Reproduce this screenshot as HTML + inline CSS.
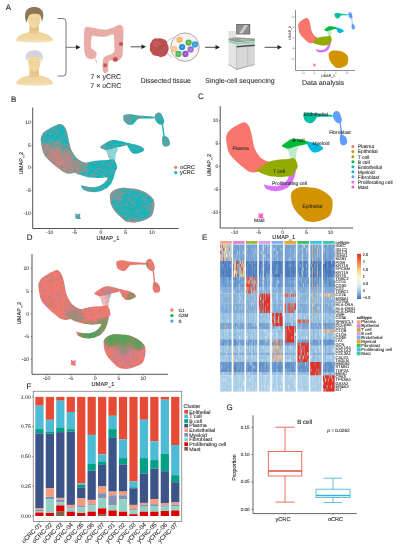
<!DOCTYPE html><html><head><meta charset="utf-8"><style>html,body{margin:0;padding:0;background:#fff;}svg{display:block;will-change:transform;} text{stroke:#3a3a3a;stroke-width:0.1px;text-rendering:geometricPrecision;}</style></head><body>
<svg width="397" height="550" viewBox="0 0 397 550">
<rect width="397" height="550" fill="#fff"/>
<defs><clipPath id="uc" clipPathUnits="userSpaceOnUse"><path d="M242.7,122.6 C245.5,121.7 246.0,123.1 247.2,124.0 C248.4,124.9 249.1,126.3 249.8,128.0 C250.5,129.7 251.0,131.7 251.5,134.0 C252.0,136.3 252.5,139.7 253.0,142.0 C253.5,144.3 253.8,146.2 254.5,148.0 C255.2,149.8 256.1,151.5 257.0,153.0 C257.9,154.5 258.7,155.8 260.0,157.0 C261.3,158.2 263.3,159.6 265.0,160.5 C266.7,161.4 270.3,161.4 270.0,162.5 C269.7,163.6 265.0,165.5 263.0,167.0 C261.0,168.5 259.9,170.8 257.8,171.7 C255.7,172.5 252.7,172.9 250.2,172.1 C247.7,171.3 245.2,169.1 242.7,167.1 C240.2,165.1 237.4,162.7 235.1,160.3 C232.8,157.9 230.5,156.1 229.0,152.8 C227.5,149.5 226.7,143.7 226.3,140.7 C225.9,137.7 226.1,136.5 226.8,134.6 C227.5,132.7 227.9,131.4 230.6,129.4 C233.2,127.4 239.9,123.5 242.7,122.6 Z"/><path d="M287.0,147.5 C288.6,146.6 296.4,145.6 298.0,146.5 C299.6,147.4 296.9,150.8 296.5,153.0 C296.1,155.2 296.4,158.4 295.5,159.5 C294.6,160.6 292.2,160.8 291.0,159.5 C289.8,158.2 289.2,154.0 288.5,152.0 C287.8,150.0 285.4,148.4 287.0,147.5 Z"/><path d="M281.8,145.8 C282.1,144.9 284.9,143.1 286.5,142.0 C288.1,140.9 289.9,139.5 291.6,139.0 C293.4,138.5 295.0,138.6 297.0,138.8 C299.0,139.0 301.9,139.9 303.7,140.3 C305.5,140.8 306.7,141.1 308.0,141.5 C309.3,141.9 311.8,142.5 311.3,143.0 C310.8,143.5 307.1,144.0 305.0,144.5 C302.9,145.0 300.8,145.4 299.0,145.8 C297.2,146.2 295.8,146.5 294.0,147.0 C292.2,147.5 289.6,148.5 288.0,148.6 C286.4,148.7 285.5,148.1 284.5,147.6 C283.5,147.1 281.5,146.7 281.8,145.8 Z"/><path d="M307.5,142.2 C308.5,141.7 312.2,142.6 314.0,143.0 C315.8,143.4 317.1,143.9 318.5,144.5 C319.9,145.1 321.4,146.0 322.2,146.8 C322.9,147.6 323.4,148.4 323.0,149.1 C322.6,149.8 321.0,150.5 320.0,151.0 C319.0,151.5 318.1,152.0 317.0,152.2 C315.9,152.4 314.2,152.8 313.1,152.4 C312.0,152.0 311.0,150.7 310.1,149.6 C309.2,148.5 308.4,147.2 308.0,146.0 C307.6,144.8 306.5,142.7 307.5,142.2 Z"/><path d="M303.5,114.5 C303.8,113.4 304.8,113.1 306.0,112.8 C307.2,112.5 309.3,112.4 311.0,112.5 C312.7,112.6 313.8,113.2 316.0,113.5 C318.2,113.8 321.3,114.0 324.0,114.3 C326.7,114.5 330.6,114.6 332.0,115.0 C333.4,115.4 333.8,116.3 332.5,116.6 C331.2,116.9 326.5,116.7 324.0,116.8 C321.5,116.9 318.9,116.8 317.5,117.3 C316.1,117.8 316.2,118.7 315.5,119.5 C314.8,120.3 313.8,121.7 313.0,122.3 C312.2,122.9 311.5,123.2 310.5,123.2 C309.5,123.2 308.0,122.9 307.0,122.3 C306.0,121.7 304.9,120.8 304.3,119.5 C303.7,118.2 303.2,115.6 303.5,114.5 Z"/><path d="M333.5,112.8 C334.0,111.9 335.2,111.2 336.0,111.0 C336.8,110.8 337.8,110.9 338.5,111.5 C339.2,112.1 339.8,113.2 340.3,114.5 C340.9,115.8 341.8,118.0 341.8,119.4 C341.9,120.8 341.3,122.1 340.6,122.7 C339.9,123.3 338.5,123.4 337.5,123.0 C336.5,122.6 335.2,121.3 334.5,120.2 C333.8,119.1 333.2,117.6 333.0,116.4 C332.8,115.2 333.0,113.7 333.5,112.8 Z"/><path d="M340.5,134.8 C341.0,133.9 342.2,134.6 343.0,134.9 C343.8,135.2 344.8,135.6 345.5,136.5 C346.2,137.4 346.9,139.1 347.1,140.3 C347.3,141.5 347.2,143.0 346.6,143.8 C346.1,144.6 344.7,145.1 343.8,145.2 C342.9,145.3 341.9,145.2 341.2,144.4 C340.5,143.6 339.9,142.1 339.8,140.5 C339.7,138.9 340.0,135.7 340.5,134.8 Z"/><path d="M296.5,169.0 L294.5,177.0 L292.0,183.0 L288.0,187.5 L282.0,190.3 L276.4,191.3 L270.0,190.6 L265.5,188.6 L263.6,184.3 L267.0,185.2 L271.0,186.0 L276.4,186.3 L281.0,185.0 L285.0,182.5 L288.0,179.0 L289.5,174.0 L289.5,170.0 Z"/><path d="M256.9,170.1 C256.9,168.9 260.0,167.7 262.0,166.3 C264.0,164.9 266.7,162.9 268.9,161.9 C271.1,160.9 273.1,160.6 275.0,160.2 C276.9,159.8 278.0,159.6 280.2,159.4 C282.4,159.2 285.6,159.1 288.0,158.9 C290.4,158.7 292.9,157.2 294.5,158.4 C296.1,159.6 297.7,164.2 297.8,166.3 C297.9,168.4 295.8,169.5 295.0,171.0 C294.2,172.5 294.3,174.3 292.8,175.2 C291.3,176.1 288.1,176.3 286.0,176.6 C283.9,176.9 282.4,177.1 280.2,177.1 C278.0,177.1 275.1,176.9 273.0,176.6 C270.9,176.3 269.4,175.9 267.6,175.4 C265.8,174.9 263.8,174.5 262.0,173.6 C260.2,172.7 256.9,171.3 256.9,170.1 Z"/><path d="M295.3,189.1 C297.0,188.1 299.3,187.4 301.4,187.1 C303.5,186.8 305.6,187.1 308.0,187.3 C310.4,187.5 313.2,187.6 315.5,188.1 C317.8,188.6 320.2,189.7 322.0,190.5 C323.8,191.3 325.0,192.0 326.5,193.2 C328.0,194.4 330.0,196.0 331.0,197.5 C332.0,199.0 332.4,200.4 332.6,202.2 C332.8,203.9 332.6,206.0 332.3,208.0 C332.0,210.0 331.4,212.7 330.6,214.3 C329.8,215.9 328.7,216.7 327.5,217.5 C326.3,218.3 325.1,218.8 323.5,219.4 C321.9,220.0 319.7,220.9 318.0,221.3 C316.3,221.7 315.0,221.9 313.5,222.0 C312.0,222.1 310.4,221.9 309.0,221.6 C307.6,221.3 306.9,221.4 305.4,220.4 C303.9,219.4 301.7,217.2 300.0,215.5 C298.3,213.8 296.6,212.1 295.3,210.3 C294.1,208.6 293.2,206.7 292.5,205.0 C291.8,203.3 291.5,202.2 291.3,200.2 C291.1,198.2 290.6,195.0 291.3,193.2 C292.0,191.3 293.6,190.1 295.3,189.1 Z"/><path d="M258.2,212.6 L260.6,214.0 L263.3,213.0 L262.8,216.2 L263.8,218.4 L260.5,218.5 L258.3,217.8 L258.8,215.2 Z"/><path d="M339.3,121.5 L341,136 L342.6,136 L340.9,121.5 Z"/></clipPath></defs>
<text x="5.8" y="10.3" font-size="8" fill="#222" font-family="Liberation Sans, sans-serif">A</text>
<text x="11" y="101.6" font-size="8" fill="#222" font-family="Liberation Sans, sans-serif">B</text>
<text x="197.9" y="99.1" font-size="8" fill="#222" font-family="Liberation Sans, sans-serif">C</text>
<text x="26.8" y="239.7" font-size="8" fill="#222" font-family="Liberation Sans, sans-serif">D</text>
<text x="202" y="239.9" font-size="8" fill="#222" font-family="Liberation Sans, sans-serif">E</text>
<text x="26.6" y="389" font-size="8" fill="#222" font-family="Liberation Sans, sans-serif">F</text>
<text x="226.5" y="409.8" font-size="8" fill="#222" font-family="Liberation Sans, sans-serif">G</text>
<g transform="translate(0,0)"><defs><linearGradient id="sh0" x1="0" y1="0" x2="0" y2="1"><stop offset="0" stop-color="#EFD39B"/><stop offset="0.7" stop-color="#F1D8A6"/><stop offset="1" stop-color="#F6E6C6"/></linearGradient></defs><path d="M16,40.5 C16.5,36.5 21,34 28,32.2 L40.5,32.2 C47.5,34 52.5,36.5 53.3,40.5 C50,43.2 20,43.2 16,40.5 Z" fill="url(#sh0)"/><path d="M29.9,23 L38.5,23 L39.2,32.6 C36,34.5 32.5,34.5 29.2,32.6 Z" fill="#E8C68C"/><path d="M28,18 C28,13.5 30.5,12.5 34.2,12.5 C38,12.5 40.6,13.5 40.6,18 C40.6,23.5 38.6,28.2 34.2,28.7 C29.9,28.2 28,23.5 28,18 Z" fill="#F2D7A0"/><path d="M30.5,26 C32,28.2 33.2,28.7 34.2,28.7 C35.2,28.7 36.5,28.2 38,26 L38.4,29 C36.5,31 32,31 30.2,29 Z" fill="#E3BE82" opacity="0.7"/><path d="M26.4,22.5 C25,19 24.8,15.5 25.3,13 C26,9.5 29,6.9 34.2,6.9 C39.4,6.9 42.4,9.5 43.1,13 C43.6,15.5 43.2,19 42,21.8 C41.4,19.5 41.2,16.5 39.6,14.6 C37,13.5 32,13.2 29.2,15.2 C28,17 27.6,20 26.4,22.5 Z" fill="#8E7658"/><path d="M30.9,19 l2,0.25 M35.5,19.25 l2,-0.25" stroke="#C9A36B" stroke-width="0.45"/></g>
<g transform="translate(0,43.3)"><defs><linearGradient id="sh43" x1="0" y1="0" x2="0" y2="1"><stop offset="0" stop-color="#EFD39B"/><stop offset="0.7" stop-color="#F1D8A6"/><stop offset="1" stop-color="#F6E6C6"/></linearGradient></defs><path d="M16,40.5 C16.5,36.5 21,34 28,32.2 L40.5,32.2 C47.5,34 52.5,36.5 53.3,40.5 C50,43.2 20,43.2 16,40.5 Z" fill="url(#sh43)"/><path d="M29.9,23 L38.5,23 L39.2,32.6 C36,34.5 32.5,34.5 29.2,32.6 Z" fill="#E8C68C"/><path d="M28,18 C28,13.5 30.5,12.5 34.2,12.5 C38,12.5 40.6,13.5 40.6,18 C40.6,23.5 38.6,28.2 34.2,28.7 C29.9,28.2 28,23.5 28,18 Z" fill="#F2D7A0"/><path d="M30.5,26 C32,28.2 33.2,28.7 34.2,28.7 C35.2,28.7 36.5,28.2 38,26 L38.4,29 C36.5,31 32,31 30.2,29 Z" fill="#E3BE82" opacity="0.7"/><path d="M26.8,17.8 C25.3,15.5 25.2,12.5 26.5,10.5 C28,8 31,6.9 34.2,6.9 C37.5,6.9 40.6,8 42,10.5 C43.2,12.5 43.1,15.5 41.8,17.8 C41,16 40.2,14.6 39,14 C36.5,13.1 32,13.1 29.5,14 C28.3,14.6 27.6,16 26.8,17.8 Z" fill="#D3D4D9"/><path d="M30.9,19 l2,0.25 M35.5,19.25 l2,-0.25" stroke="#C9A36B" stroke-width="0.45"/></g>
<path d="M57.5,18.5 L63,18.5 Q66,18.5 66,21.5 L66,73 Q66,76 63,76 L57.5,76 M66,47.3 L76,47.3" stroke="#555" stroke-width="0.8" fill="none"/>
<path d="M76,45 L80.5,47.3 L76,49.6 Z" fill="#222"/>
<path d="M86.0,27.3 C86.9,26.8 88.5,27.3 90.0,27.5 C91.5,27.7 93.3,28.1 95.0,28.5 C96.7,28.9 98.3,29.4 100.0,29.6 C101.7,29.9 103.3,30.1 105.0,30.0 C106.7,29.9 108.5,29.4 110.0,29.0 C111.5,28.6 112.8,28.0 114.0,27.5 C115.2,27.0 116.4,26.2 117.5,25.8 C118.6,25.4 119.6,24.9 120.5,25.2 C121.4,25.5 122.3,26.2 122.8,27.5 C123.2,28.8 123.2,30.9 123.2,33.0 C123.2,35.1 123.1,37.2 123.0,40.0 C122.9,42.8 122.9,47.2 122.7,50.0 C122.5,52.8 122.5,54.8 121.8,56.5 C121.1,58.2 120.0,59.6 118.5,60.2 C117.0,60.8 114.6,59.9 113.0,60.0 C111.4,60.1 109.8,60.2 109.0,61.0 C108.2,61.8 108.1,63.3 107.9,65.0 C107.7,66.7 108.3,69.7 107.9,71.0 C107.5,72.3 106.3,73.0 105.5,73.0 C104.7,73.0 103.8,72.5 103.3,71.2 C102.8,69.9 102.8,67.0 102.8,65.0 C102.8,63.0 103.0,60.5 103.5,59.0 C104.0,57.5 104.8,56.9 106.0,56.2 C107.2,55.5 109.6,55.4 111.0,54.6 C112.4,53.8 113.9,53.1 114.5,51.5 C115.1,49.9 114.6,47.2 114.6,45.0 C114.6,42.8 114.5,39.8 114.3,38.0 C114.1,36.2 114.4,34.7 113.5,34.2 C112.6,33.8 110.4,34.9 109.0,35.3 C107.6,35.7 106.8,36.2 105.0,36.4 C103.2,36.5 100.2,36.3 98.0,36.2 C95.8,36.1 93.2,35.2 92.0,35.8 C90.8,36.4 91.2,38.0 91.0,40.0 C90.8,42.0 90.4,46.3 90.9,48.0 C91.4,49.7 92.9,49.3 93.8,50.2 C94.7,51.1 96.2,52.2 96.4,53.5 C96.6,54.8 95.9,56.9 94.8,57.8 C93.7,58.7 91.4,59.0 90.0,58.8 C88.6,58.6 87.1,58.1 86.2,56.6 C85.3,55.1 84.8,53.1 84.5,50.0 C84.2,46.9 84.2,41.2 84.2,38.0 C84.2,34.8 84.3,32.3 84.6,30.5 C84.9,28.7 85.1,27.8 86.0,27.3 Z" fill="#E8ABA8" stroke="#DC9C98" stroke-width="0.4"/>
<path d="M94.5,57.5 C95.5,59.5 96.8,61 96.5,62.5" stroke="#E8ABA8" stroke-width="0.9" fill="none" stroke-linecap="round"/>
<circle cx="120.9" cy="43.9" r="2.3" fill="#D98080"/><circle cx="120.9" cy="43.9" r="1.7" fill="#C5504F"/>
<circle cx="115.3" cy="59.3" r="2.7" fill="#D98080"/><circle cx="115.3" cy="59.3" r="2.1" fill="#C5504F"/>
<circle cx="105.2" cy="65.3" r="2.2" fill="#D98080"/><circle cx="105.2" cy="65.3" r="1.6" fill="#C5504F"/>
<text x="105.8" y="78.8" font-size="7" fill="#333" text-anchor="middle" font-family="Liberation Sans, sans-serif">7 × yCRC</text>
<text x="105.8" y="88" font-size="7" fill="#333" text-anchor="middle" font-family="Liberation Sans, sans-serif">7 × oCRC</text>
<path d="M130.5,46.8 L142,46.8" stroke="#222" stroke-width="0.8"/><path d="M141.5,44.6 L146,46.8 L141.5,49 Z" fill="#222"/>
<path d="M168.7,47.3 C168.8,48.3 168.7,49.3 168.5,50.3 C168.3,51.3 167.8,52.2 167.3,53.1 C166.8,54.0 166.2,54.8 165.5,55.4 C164.8,56.0 163.8,56.2 162.9,56.5 C162.1,56.8 161.2,57.4 160.4,57.3 C159.6,57.2 158.8,56.4 158.0,56.1 C157.2,55.9 156.4,56.0 155.6,55.8 C154.8,55.6 153.8,55.5 153.1,55.0 C152.4,54.5 151.9,53.5 151.4,52.7 C150.9,51.9 150.0,51.2 149.8,50.3 C149.6,49.4 150.1,48.3 150.1,47.3 C150.1,46.3 149.8,45.3 150.0,44.4 C150.2,43.5 150.9,42.6 151.4,41.8 C151.9,41.0 152.3,40.2 153.0,39.6 C153.7,39.0 154.5,38.4 155.3,38.2 C156.1,38.0 157.1,38.4 157.9,38.4 C158.7,38.4 159.5,38.2 160.3,38.3 C161.1,38.4 161.8,38.8 162.6,39.0 C163.4,39.2 164.4,39.2 165.1,39.7 C165.8,40.2 166.5,41.0 166.9,41.8 C167.3,42.6 167.3,43.6 167.6,44.5 C167.9,45.4 168.5,46.3 168.7,47.3 Z" fill="#BF5051"/>
<ellipse cx="157" cy="44" rx="4" ry="3" fill="#CC6A6A" opacity="0.6"/>
<path d="M155,43 L160,47 L155.5,51.5 M160,47 L165,44.5 M158,40 L161,43" stroke="#A03C3E" stroke-width="0.45" fill="none"/>
<path d="M158.5,46.5 L173.5,37.2 M158.5,47.5 L172.5,57.5" stroke="#6a6a6a" stroke-width="0.4"/>
<circle cx="185" cy="47.1" r="14.2" fill="#FBF1EF" stroke="#666" stroke-width="0.55"/>
<circle cx="179.5" cy="39.8" r="3.1" fill="#F4B860"/><circle cx="179.5" cy="39.8" r="1" fill="#fff" opacity="0.35"/>
<circle cx="188.6" cy="42.5" r="3.1" fill="#4DB84F"/><circle cx="188.6" cy="42.5" r="1" fill="#fff" opacity="0.35"/>
<circle cx="182.1" cy="47" r="3.1" fill="#1E8FD0"/><circle cx="182.1" cy="47" r="1" fill="#fff" opacity="0.35"/>
<circle cx="194.9" cy="44.4" r="3.1" fill="#2EA0DC"/><circle cx="194.9" cy="44.4" r="1" fill="#fff" opacity="0.35"/>
<circle cx="174.2" cy="49" r="3.1" fill="#F6C58A"/><circle cx="174.2" cy="49" r="1" fill="#fff" opacity="0.35"/>
<circle cx="190.6" cy="49.4" r="3.1" fill="#9B6FD0"/><circle cx="190.6" cy="49.4" r="1" fill="#fff" opacity="0.35"/>
<circle cx="178.4" cy="53.9" r="3.1" fill="#4FBA5C"/><circle cx="178.4" cy="53.9" r="1" fill="#fff" opacity="0.35"/>
<circle cx="185.4" cy="53.9" r="3.1" fill="#8E52C6"/><circle cx="185.4" cy="53.9" r="1" fill="#fff" opacity="0.35"/>
<text x="165.8" y="83" font-size="6.9" fill="#333" text-anchor="middle" font-family="Liberation Sans, sans-serif">Dissected tissue</text>
<path d="M205,47.3 L216,47.3" stroke="#222" stroke-width="0.8"/><path d="M215.5,45.1 L220,47.3 L215.5,49.5 Z" fill="#222"/>
<path d="M236.1,24 L250.2,24 L250.2,34.5 L236.1,34.5 Z" fill="#707070"/><path d="M237.2,25 L249.1,25 L249.1,33.5 L237.2,33.5 Z" fill="#8F8F8F"/><path d="M239,33.5 L244.5,25 L248,25 L242.5,33.5 Z" fill="#C9C9C9"/>
<path d="M228.5,31.1 L236.1,31.1 L236.1,38 L228.5,38.6 Z" fill="#E2E2E2"/>
<path d="M228.5,38.6 L236.5,37.2 L255,38.6 L254.7,41 L236.5,42.5 L228.5,40.2 Z" fill="#9C9C9C"/>
<path d="M240,39 L250,39.5 L249,40.5 L241,40.5 Z" fill="#BEBEBE"/>
<path d="M228.5,40.2 L236.5,42.5 L254.7,41 L254.7,43.5 L236.5,45 L228.5,42.5 Z" fill="#8ED9AE"/>
<path d="M228.5,42.5 L236.5,45 L254.7,43.5 L254.7,64.5 L236.5,69.5 L228.5,64.3 Z" fill="#E4E4E4"/>
<path d="M236.5,45 L254.7,43.5 L254.7,64.5 L236.5,69.5 Z" fill="#D6D6D6"/>
<path d="M236.5,46 L254.7,44.5 L254.7,46 L236.5,47.6 Z" fill="#4A4A4A"/>
<path d="M247.7,46.5 L247.7,66.5 M236.5,45 L236.5,69.5" stroke="#A8A8A8" stroke-width="0.45"/>
<path d="M228.5,64.3 L236.5,69.5 L254.7,64.5" stroke="#8A8A8A" stroke-width="0.7" fill="none"/>
<text x="240" y="83" font-size="6.95" fill="#333" text-anchor="middle" font-family="Liberation Sans, sans-serif">Single-cell sequencing</text>
<path d="M264.5,47.3 L278,47.3" stroke="#222" stroke-width="0.8"/><path d="M277.5,45.1 L282,47.3 L277.5,49.5 Z" fill="#222"/>
<path d="M295.5,10 L295.5,70.5 L355,70.5" stroke="#444" stroke-width="0.6" fill="none"/>
<line x1="294.5" y1="17" x2="295.5" y2="17" stroke="#444" stroke-width="0.4"/>
<line x1="294.5" y1="27.5" x2="295.5" y2="27.5" stroke="#444" stroke-width="0.4"/>
<line x1="294.5" y1="38" x2="295.5" y2="38" stroke="#444" stroke-width="0.4"/>
<line x1="294.5" y1="48.5" x2="295.5" y2="48.5" stroke="#444" stroke-width="0.4"/>
<line x1="294.5" y1="59" x2="295.5" y2="59" stroke="#444" stroke-width="0.4"/>
<line x1="303" y1="70.5" x2="303" y2="71.5" stroke="#444" stroke-width="0.4"/>
<line x1="314" y1="70.5" x2="314" y2="71.5" stroke="#444" stroke-width="0.4"/>
<line x1="325" y1="70.5" x2="325" y2="71.5" stroke="#444" stroke-width="0.4"/>
<line x1="336" y1="70.5" x2="336" y2="71.5" stroke="#444" stroke-width="0.4"/>
<line x1="347" y1="70.5" x2="347" y2="71.5" stroke="#444" stroke-width="0.4"/>
<text x="303" y="73.6" font-size="2.4" fill="#777" style="stroke:none" text-anchor="middle" font-family="Liberation Sans, sans-serif">-10</text>
<text x="314" y="73.6" font-size="2.4" fill="#777" style="stroke:none" text-anchor="middle" font-family="Liberation Sans, sans-serif">-5</text>
<text x="325" y="73.6" font-size="2.4" fill="#777" style="stroke:none" text-anchor="middle" font-family="Liberation Sans, sans-serif">0</text>
<text x="336" y="73.6" font-size="2.4" fill="#777" style="stroke:none" text-anchor="middle" font-family="Liberation Sans, sans-serif">5</text>
<text x="347" y="73.6" font-size="2.4" fill="#777" style="stroke:none" text-anchor="middle" font-family="Liberation Sans, sans-serif">10</text>
<text x="294" y="17.8" font-size="2.4" fill="#777" style="stroke:none" text-anchor="end" font-family="Liberation Sans, sans-serif">10</text>
<text x="294" y="28.3" font-size="2.4" fill="#777" style="stroke:none" text-anchor="end" font-family="Liberation Sans, sans-serif">5</text>
<text x="294" y="38.8" font-size="2.4" fill="#777" style="stroke:none" text-anchor="end" font-family="Liberation Sans, sans-serif">0</text>
<text x="294" y="49.3" font-size="2.4" fill="#777" style="stroke:none" text-anchor="end" font-family="Liberation Sans, sans-serif">-5</text>
<text x="294" y="59.8" font-size="2.4" fill="#777" style="stroke:none" text-anchor="end" font-family="Liberation Sans, sans-serif">-10</text>
<text transform="translate(290.6,33) rotate(-90)" font-size="3.4" fill="#444" text-anchor="middle" font-family="Liberation Sans, sans-serif">UMAP_2</text>
<text x="328" y="76.6" font-size="3.4" fill="#444" text-anchor="middle" font-family="Liberation Sans, sans-serif">UMAP_1</text>
<g transform="translate(298.3,18.1) scale(0.469,0.502) translate(-226.3,-122.6)"><path d="M242.7,122.6 C245.5,121.7 246.0,123.1 247.2,124.0 C248.4,124.9 249.1,126.3 249.8,128.0 C250.5,129.7 251.0,131.7 251.5,134.0 C252.0,136.3 252.5,139.7 253.0,142.0 C253.5,144.3 253.8,146.2 254.5,148.0 C255.2,149.8 256.1,151.5 257.0,153.0 C257.9,154.5 258.7,155.8 260.0,157.0 C261.3,158.2 263.3,159.6 265.0,160.5 C266.7,161.4 270.3,161.4 270.0,162.5 C269.7,163.6 265.0,165.5 263.0,167.0 C261.0,168.5 259.9,170.8 257.8,171.7 C255.7,172.5 252.7,172.9 250.2,172.1 C247.7,171.3 245.2,169.1 242.7,167.1 C240.2,165.1 237.4,162.7 235.1,160.3 C232.8,157.9 230.5,156.1 229.0,152.8 C227.5,149.5 226.7,143.7 226.3,140.7 C225.9,137.7 226.1,136.5 226.8,134.6 C227.5,132.7 227.9,131.4 230.6,129.4 C233.2,127.4 239.9,123.5 242.7,122.6 Z" fill="#F8766D"/><path d="M287.0,147.5 C288.6,146.6 296.4,145.6 298.0,146.5 C299.6,147.4 296.9,150.8 296.5,153.0 C296.1,155.2 296.4,158.4 295.5,159.5 C294.6,160.6 292.2,160.8 291.0,159.5 C289.8,158.2 289.2,154.0 288.5,152.0 C287.8,150.0 285.4,148.4 287.0,147.5 Z" fill="#7FD89B" opacity="0.5"/><path d="M281.8,145.8 C282.1,144.9 284.9,143.1 286.5,142.0 C288.1,140.9 289.9,139.5 291.6,139.0 C293.4,138.5 295.0,138.6 297.0,138.8 C299.0,139.0 301.9,139.9 303.7,140.3 C305.5,140.8 306.7,141.1 308.0,141.5 C309.3,141.9 311.8,142.5 311.3,143.0 C310.8,143.5 307.1,144.0 305.0,144.5 C302.9,145.0 300.8,145.4 299.0,145.8 C297.2,146.2 295.8,146.5 294.0,147.0 C292.2,147.5 289.6,148.5 288.0,148.6 C286.4,148.7 285.5,148.1 284.5,147.6 C283.5,147.1 281.5,146.7 281.8,145.8 Z" fill="#00BA38"/><path d="M307.5,142.2 C308.5,141.7 312.2,142.6 314.0,143.0 C315.8,143.4 317.1,143.9 318.5,144.5 C319.9,145.1 321.4,146.0 322.2,146.8 C322.9,147.6 323.4,148.4 323.0,149.1 C322.6,149.8 321.0,150.5 320.0,151.0 C319.0,151.5 318.1,152.0 317.0,152.2 C315.9,152.4 314.2,152.8 313.1,152.4 C312.0,152.0 311.0,150.7 310.1,149.6 C309.2,148.5 308.4,147.2 308.0,146.0 C307.6,144.8 306.5,142.7 307.5,142.2 Z" fill="#00B9E3"/><path d="M303.5,114.5 C303.8,113.4 304.8,113.1 306.0,112.8 C307.2,112.5 309.3,112.4 311.0,112.5 C312.7,112.6 313.8,113.2 316.0,113.5 C318.2,113.8 321.3,114.0 324.0,114.3 C326.7,114.5 330.6,114.6 332.0,115.0 C333.4,115.4 333.8,116.3 332.5,116.6 C331.2,116.9 326.5,116.7 324.0,116.8 C321.5,116.9 318.9,116.8 317.5,117.3 C316.1,117.8 316.2,118.7 315.5,119.5 C314.8,120.3 313.8,121.7 313.0,122.3 C312.2,122.9 311.5,123.2 310.5,123.2 C309.5,123.2 308.0,122.9 307.0,122.3 C306.0,121.7 304.9,120.8 304.3,119.5 C303.7,118.2 303.2,115.6 303.5,114.5 Z" fill="#00C19F"/><path d="M333.5,112.8 C334.0,111.9 335.2,111.2 336.0,111.0 C336.8,110.8 337.8,110.9 338.5,111.5 C339.2,112.1 339.8,113.2 340.3,114.5 C340.9,115.8 341.8,118.0 341.8,119.4 C341.9,120.8 341.3,122.1 340.6,122.7 C339.9,123.3 338.5,123.4 337.5,123.0 C336.5,122.6 335.2,121.3 334.5,120.2 C333.8,119.1 333.2,117.6 333.0,116.4 C332.8,115.2 333.0,113.7 333.5,112.8 Z" fill="#619CFF"/><path d="M340.5,134.8 C341.0,133.9 342.2,134.6 343.0,134.9 C343.8,135.2 344.8,135.6 345.5,136.5 C346.2,137.4 346.9,139.1 347.1,140.3 C347.3,141.5 347.2,143.0 346.6,143.8 C346.1,144.6 344.7,145.1 343.8,145.2 C342.9,145.3 341.9,145.2 341.2,144.4 C340.5,143.6 339.9,142.1 339.8,140.5 C339.7,138.9 340.0,135.7 340.5,134.8 Z" fill="#619CFF"/><path d="M296.5,169.0 L294.5,177.0 L292.0,183.0 L288.0,187.5 L282.0,190.3 L276.4,191.3 L270.0,190.6 L265.5,188.6 L263.6,184.3 L267.0,185.2 L271.0,186.0 L276.4,186.3 L281.0,185.0 L285.0,182.5 L288.0,179.0 L289.5,174.0 L289.5,170.0 Z" fill="#DB72FB"/><path d="M256.9,170.1 C256.9,168.9 260.0,167.7 262.0,166.3 C264.0,164.9 266.7,162.9 268.9,161.9 C271.1,160.9 273.1,160.6 275.0,160.2 C276.9,159.8 278.0,159.6 280.2,159.4 C282.4,159.2 285.6,159.1 288.0,158.9 C290.4,158.7 292.9,157.2 294.5,158.4 C296.1,159.6 297.7,164.2 297.8,166.3 C297.9,168.4 295.8,169.5 295.0,171.0 C294.2,172.5 294.3,174.3 292.8,175.2 C291.3,176.1 288.1,176.3 286.0,176.6 C283.9,176.9 282.4,177.1 280.2,177.1 C278.0,177.1 275.1,176.9 273.0,176.6 C270.9,176.3 269.4,175.9 267.6,175.4 C265.8,174.9 263.8,174.5 262.0,173.6 C260.2,172.7 256.9,171.3 256.9,170.1 Z" fill="#93AA00"/><path d="M295.3,189.1 C297.0,188.1 299.3,187.4 301.4,187.1 C303.5,186.8 305.6,187.1 308.0,187.3 C310.4,187.5 313.2,187.6 315.5,188.1 C317.8,188.6 320.2,189.7 322.0,190.5 C323.8,191.3 325.0,192.0 326.5,193.2 C328.0,194.4 330.0,196.0 331.0,197.5 C332.0,199.0 332.4,200.4 332.6,202.2 C332.8,203.9 332.6,206.0 332.3,208.0 C332.0,210.0 331.4,212.7 330.6,214.3 C329.8,215.9 328.7,216.7 327.5,217.5 C326.3,218.3 325.1,218.8 323.5,219.4 C321.9,220.0 319.7,220.9 318.0,221.3 C316.3,221.7 315.0,221.9 313.5,222.0 C312.0,222.1 310.4,221.9 309.0,221.6 C307.6,221.3 306.9,221.4 305.4,220.4 C303.9,219.4 301.7,217.2 300.0,215.5 C298.3,213.8 296.6,212.1 295.3,210.3 C294.1,208.6 293.2,206.7 292.5,205.0 C291.8,203.3 291.5,202.2 291.3,200.2 C291.1,198.2 290.6,195.0 291.3,193.2 C292.0,191.3 293.6,190.1 295.3,189.1 Z" fill="#D39200"/><path d="M258.2,212.6 L260.6,214.0 L263.3,213.0 L262.8,216.2 L263.8,218.4 L260.5,218.5 L258.3,217.8 L258.8,215.2 Z" fill="#FF61C3"/><path d="M340,121.5 L341.8,136" stroke="#619CFF" stroke-width="1.3" fill="none"/></g>
<text x="323" y="84.8" font-size="7" fill="#333" text-anchor="middle" font-family="Liberation Sans, sans-serif">Data analysis</text>
<path d="M32.7,107.6 L32.7,228.5 L178.5,228.5" stroke="#4a4a4a" stroke-width="0.95" fill="none"/><line x1="49.6" y1="228.5" x2="49.6" y2="229.7" stroke="#333" stroke-width="0.5"/><text x="49.6" y="234.3" font-size="5.0" fill="#4d4d4d" text-anchor="middle" font-family="Liberation Sans, sans-serif">-10</text><line x1="74.6" y1="228.5" x2="74.6" y2="229.7" stroke="#333" stroke-width="0.5"/><text x="74.6" y="234.3" font-size="5.0" fill="#4d4d4d" text-anchor="middle" font-family="Liberation Sans, sans-serif">-5</text><line x1="101" y1="228.5" x2="101" y2="229.7" stroke="#333" stroke-width="0.5"/><text x="101" y="234.3" font-size="5.0" fill="#4d4d4d" text-anchor="middle" font-family="Liberation Sans, sans-serif">0</text><line x1="125.6" y1="228.5" x2="125.6" y2="229.7" stroke="#333" stroke-width="0.5"/><text x="125.6" y="234.3" font-size="5.0" fill="#4d4d4d" text-anchor="middle" font-family="Liberation Sans, sans-serif">5</text><line x1="152" y1="228.5" x2="152" y2="229.7" stroke="#333" stroke-width="0.5"/><text x="152" y="234.3" font-size="5.0" fill="#4d4d4d" text-anchor="middle" font-family="Liberation Sans, sans-serif">10</text><line x1="31.500000000000004" y1="122.2" x2="32.7" y2="122.2" stroke="#333" stroke-width="0.5"/><text x="30.8" y="123.8" font-size="5.0" fill="#4d4d4d" text-anchor="end" font-family="Liberation Sans, sans-serif">10</text><line x1="31.500000000000004" y1="145" x2="32.7" y2="145" stroke="#333" stroke-width="0.5"/><text x="30.8" y="146.6" font-size="5.0" fill="#4d4d4d" text-anchor="end" font-family="Liberation Sans, sans-serif">5</text><line x1="31.500000000000004" y1="167.6" x2="32.7" y2="167.6" stroke="#333" stroke-width="0.5"/><text x="30.8" y="169.2" font-size="5.0" fill="#4d4d4d" text-anchor="end" font-family="Liberation Sans, sans-serif">0</text><line x1="31.500000000000004" y1="190.3" x2="32.7" y2="190.3" stroke="#333" stroke-width="0.5"/><text x="30.8" y="191.9" font-size="5.0" fill="#4d4d4d" text-anchor="end" font-family="Liberation Sans, sans-serif">-5</text><line x1="31.500000000000004" y1="213" x2="32.7" y2="213" stroke="#333" stroke-width="0.5"/><text x="30.8" y="214.6" font-size="5.0" fill="#4d4d4d" text-anchor="end" font-family="Liberation Sans, sans-serif">-10</text>
<text x="108" y="239.8" font-size="5.7" fill="#222" text-anchor="middle" font-family="Liberation Sans, sans-serif">UMAP_1</text>
<text transform="translate(23.1,163) rotate(-90)" font-size="5.6" fill="#222" text-anchor="middle" font-family="Liberation Sans, sans-serif">UMAP_2</text>
<defs><pattern id="pR" patternUnits="userSpaceOnUse" width="24" height="24"><path d="M4.0 16.6h0.8v0.8h-0.8zM15.2 11.5h0.8v0.8h-0.8zM5.2 19.0h0.8v0.8h-0.8zM19.4 12.3h0.8v0.8h-0.8zM12.1 5.7h0.8v0.8h-0.8zM0.1 8.9h0.8v0.8h-0.8zM14.0 1.7h0.8v0.8h-0.8zM19.1 5.6h0.8v0.8h-0.8zM5.6 1.0h0.8v0.8h-0.8zM23.9 17.7h0.8v0.8h-0.8zM21.0 14.8h0.8v0.8h-0.8zM0.8 7.9h0.8v0.8h-0.8zM11.9 2.8h0.8v0.8h-0.8zM22.8 8.8h0.8v0.8h-0.8zM3.7 19.6h0.8v0.8h-0.8zM3.0 22.3h0.8v0.8h-0.8zM10.9 13.2h0.8v0.8h-0.8zM8.2 11.6h0.8v0.8h-0.8zM4.5 0.9h0.8v0.8h-0.8zM20.8 5.6h0.8v0.8h-0.8zM18.7 5.0h0.8v0.8h-0.8zM23.3 21.5h0.8v0.8h-0.8zM18.1 18.3h0.8v0.8h-0.8zM13.9 17.5h0.8v0.8h-0.8zM2.9 11.4h0.8v0.8h-0.8zM19.8 4.8h0.8v0.8h-0.8zM22.2 21.3h0.8v0.8h-0.8zM9.8 8.8h0.8v0.8h-0.8zM10.8 9.3h0.8v0.8h-0.8zM23.9 9.3h0.8v0.8h-0.8zM0.6 2.2h0.8v0.8h-0.8zM17.2 23.8h0.8v0.8h-0.8zM11.9 11.8h0.8v0.8h-0.8zM13.2 18.0h0.8v0.8h-0.8zM5.3 14.6h0.8v0.8h-0.8zM13.4 14.9h0.8v0.8h-0.8zM4.3 4.1h0.8v0.8h-0.8zM8.4 22.2h0.8v0.8h-0.8zM8.3 14.3h0.8v0.8h-0.8zM7.4 2.5h0.8v0.8h-0.8zM1.6 19.5h0.8v0.8h-0.8zM18.6 9.0h0.8v0.8h-0.8zM16.4 16.2h0.8v0.8h-0.8zM21.6 23.0h0.8v0.8h-0.8zM9.8 23.7h0.8v0.8h-0.8zM23.1 14.2h0.8v0.8h-0.8zM21.2 11.8h0.8v0.8h-0.8zM9.0 5.9h0.8v0.8h-0.8zM21.0 3.9h0.8v0.8h-0.8zM1.7 19.3h0.8v0.8h-0.8zM18.6 11.6h0.8v0.8h-0.8zM20.1 1.3h0.8v0.8h-0.8zM6.2 7.0h0.8v0.8h-0.8zM10.1 4.1h0.8v0.8h-0.8zM1.7 8.1h0.8v0.8h-0.8zM21.6 23.6h0.8v0.8h-0.8zM17.9 11.5h0.8v0.8h-0.8zM6.1 23.0h0.8v0.8h-0.8zM12.6 17.5h0.8v0.8h-0.8zM0.7 5.1h0.8v0.8h-0.8zM20.1 19.1h0.8v0.8h-0.8zM21.2 14.4h0.8v0.8h-0.8zM10.2 13.9h0.8v0.8h-0.8zM20.4 7.4h0.8v0.8h-0.8zM12.8 6.6h0.8v0.8h-0.8zM18.4 0.2h0.8v0.8h-0.8zM16.4 22.9h0.8v0.8h-0.8zM0.6 14.2h0.8v0.8h-0.8zM15.5 20.4h0.8v0.8h-0.8zM14.0 6.2h0.8v0.8h-0.8zM9.7 23.0h0.8v0.8h-0.8zM21.7 3.2h0.8v0.8h-0.8zM2.3 2.3h0.8v0.8h-0.8zM0.6 10.7h0.8v0.8h-0.8zM3.4 20.8h0.8v0.8h-0.8zM15.7 3.0h0.8v0.8h-0.8zM12.9 7.8h0.8v0.8h-0.8zM11.9 5.3h0.8v0.8h-0.8zM4.0 4.4h0.8v0.8h-0.8zM9.1 17.0h0.8v0.8h-0.8zM13.2 1.1h0.8v0.8h-0.8zM17.1 21.0h0.8v0.8h-0.8zM18.6 19.0h0.8v0.8h-0.8zM0.2 11.1h0.8v0.8h-0.8zM1.5 18.3h0.8v0.8h-0.8zM4.2 17.1h0.8v0.8h-0.8zM6.1 16.7h0.8v0.8h-0.8zM7.5 1.0h0.8v0.8h-0.8zM9.3 7.4h0.8v0.8h-0.8zM21.6 7.1h0.8v0.8h-0.8zM12.1 13.2h0.8v0.8h-0.8zM22.8 2.4h0.8v0.8h-0.8zM14.4 12.2h0.8v0.8h-0.8zM17.6 23.2h0.8v0.8h-0.8zM7.4 16.8h0.8v0.8h-0.8zM12.6 13.5h0.8v0.8h-0.8zM1.5 19.6h0.8v0.8h-0.8zM23.4 8.5h0.8v0.8h-0.8zM7.6 23.8h0.8v0.8h-0.8zM2.6 1.8h0.8v0.8h-0.8zM1.8 19.5h0.8v0.8h-0.8zM18.2 10.8h0.8v0.8h-0.8zM14.9 0.5h0.8v0.8h-0.8zM15.5 10.6h0.8v0.8h-0.8zM12.4 9.3h0.8v0.8h-0.8zM9.6 5.4h0.8v0.8h-0.8zM1.2 10.4h0.8v0.8h-0.8zM5.9 16.9h0.8v0.8h-0.8zM19.6 17.4h0.8v0.8h-0.8zM10.9 5.7h0.8v0.8h-0.8zM9.2 11.7h0.8v0.8h-0.8zM15.2 23.1h0.8v0.8h-0.8zM2.0 11.5h0.8v0.8h-0.8zM11.8 17.2h0.8v0.8h-0.8zM21.4 18.7h0.8v0.8h-0.8zM15.0 18.2h0.8v0.8h-0.8z" fill="#F8766D"/></pattern><pattern id="pG" patternUnits="userSpaceOnUse" width="24" height="24"><path d="M23.0 3.4h0.8v0.8h-0.8zM0.6 24.0h0.8v0.8h-0.8zM4.4 2.9h0.8v0.8h-0.8zM15.6 8.3h0.8v0.8h-0.8zM21.3 5.6h0.8v0.8h-0.8zM23.0 7.7h0.8v0.8h-0.8zM14.4 22.4h0.8v0.8h-0.8zM16.4 22.2h0.8v0.8h-0.8zM17.0 1.2h0.8v0.8h-0.8zM21.2 14.1h0.8v0.8h-0.8zM7.5 4.6h0.8v0.8h-0.8zM20.4 14.0h0.8v0.8h-0.8zM22.5 18.6h0.8v0.8h-0.8zM23.1 13.6h0.8v0.8h-0.8zM16.8 14.7h0.8v0.8h-0.8zM6.2 23.0h0.8v0.8h-0.8zM7.5 18.7h0.8v0.8h-0.8zM22.9 15.6h0.8v0.8h-0.8zM3.4 19.8h0.8v0.8h-0.8zM16.0 4.4h0.8v0.8h-0.8zM1.2 12.8h0.8v0.8h-0.8zM0.8 22.2h0.8v0.8h-0.8zM12.2 12.4h0.8v0.8h-0.8zM9.8 15.9h0.8v0.8h-0.8zM22.0 7.4h0.8v0.8h-0.8zM9.0 14.0h0.8v0.8h-0.8zM7.1 14.3h0.8v0.8h-0.8zM13.0 10.4h0.8v0.8h-0.8zM16.2 12.7h0.8v0.8h-0.8zM2.1 23.9h0.8v0.8h-0.8zM8.5 10.4h0.8v0.8h-0.8zM9.7 22.3h0.8v0.8h-0.8zM22.9 12.3h0.8v0.8h-0.8zM9.6 2.3h0.8v0.8h-0.8zM21.5 4.1h0.8v0.8h-0.8zM13.1 8.4h0.8v0.8h-0.8zM7.9 8.6h0.8v0.8h-0.8zM4.6 0.9h0.8v0.8h-0.8zM12.9 19.1h0.8v0.8h-0.8zM15.5 4.8h0.8v0.8h-0.8zM16.6 1.3h0.8v0.8h-0.8zM9.9 19.9h0.8v0.8h-0.8zM22.1 11.1h0.8v0.8h-0.8zM20.3 12.0h0.8v0.8h-0.8zM12.6 14.0h0.8v0.8h-0.8zM23.8 17.8h0.8v0.8h-0.8zM11.4 17.5h0.8v0.8h-0.8zM15.4 8.5h0.8v0.8h-0.8zM18.8 19.7h0.8v0.8h-0.8zM14.6 22.6h0.8v0.8h-0.8zM0.4 12.0h0.8v0.8h-0.8zM15.2 8.2h0.8v0.8h-0.8zM4.1 16.6h0.8v0.8h-0.8zM10.4 6.5h0.8v0.8h-0.8zM1.0 23.2h0.8v0.8h-0.8zM8.5 2.8h0.8v0.8h-0.8zM5.2 6.1h0.8v0.8h-0.8zM20.8 4.3h0.8v0.8h-0.8zM6.6 2.3h0.8v0.8h-0.8zM11.3 5.0h0.8v0.8h-0.8zM8.3 17.6h0.8v0.8h-0.8zM22.2 20.0h0.8v0.8h-0.8zM0.9 9.1h0.8v0.8h-0.8z" fill="#3DAA5A"/></pattern><pattern id="pBl" patternUnits="userSpaceOnUse" width="24" height="24"><path d="M22.2 22.8h0.8v0.8h-0.8zM21.4 2.0h0.8v0.8h-0.8zM14.2 10.2h0.8v0.8h-0.8zM12.7 3.1h0.8v0.8h-0.8zM4.6 10.7h0.8v0.8h-0.8zM5.3 10.9h0.8v0.8h-0.8zM0.6 2.1h0.8v0.8h-0.8zM17.0 10.1h0.8v0.8h-0.8zM12.3 17.6h0.8v0.8h-0.8zM8.6 1.4h0.8v0.8h-0.8zM18.8 14.1h0.8v0.8h-0.8zM15.8 14.9h0.8v0.8h-0.8zM23.3 8.7h0.8v0.8h-0.8zM18.2 8.8h0.8v0.8h-0.8zM13.7 15.9h0.8v0.8h-0.8zM7.5 2.1h0.8v0.8h-0.8zM11.4 17.2h0.8v0.8h-0.8zM14.2 10.7h0.8v0.8h-0.8zM15.4 4.4h0.8v0.8h-0.8zM4.3 7.8h0.8v0.8h-0.8zM19.6 4.7h0.8v0.8h-0.8zM2.7 2.4h0.8v0.8h-0.8zM0.9 6.6h0.8v0.8h-0.8zM13.7 19.7h0.8v0.8h-0.8zM7.9 8.9h0.8v0.8h-0.8zM6.9 7.3h0.8v0.8h-0.8zM18.7 13.2h0.8v0.8h-0.8zM6.2 2.6h0.8v0.8h-0.8zM18.8 17.0h0.8v0.8h-0.8zM19.9 5.7h0.8v0.8h-0.8zM13.1 22.0h0.8v0.8h-0.8zM14.2 22.7h0.8v0.8h-0.8zM4.0 23.4h0.8v0.8h-0.8zM1.3 10.0h0.8v0.8h-0.8zM0.6 19.4h0.8v0.8h-0.8zM16.5 23.4h0.8v0.8h-0.8zM19.3 22.8h0.8v0.8h-0.8zM12.9 23.7h0.8v0.8h-0.8zM18.0 8.3h0.8v0.8h-0.8zM23.4 9.0h0.8v0.8h-0.8zM4.6 1.8h0.8v0.8h-0.8zM11.2 4.7h0.8v0.8h-0.8zM22.4 22.8h0.8v0.8h-0.8zM5.2 2.5h0.8v0.8h-0.8zM12.7 4.1h0.8v0.8h-0.8zM13.0 19.5h0.8v0.8h-0.8zM6.1 10.1h0.8v0.8h-0.8zM21.6 10.7h0.8v0.8h-0.8zM8.2 21.4h0.8v0.8h-0.8zM19.5 21.5h0.8v0.8h-0.8zM16.5 9.9h0.8v0.8h-0.8zM16.6 19.9h0.8v0.8h-0.8zM15.3 5.7h0.8v0.8h-0.8zM7.1 9.8h0.8v0.8h-0.8zM18.5 13.4h0.8v0.8h-0.8zM13.2 19.8h0.8v0.8h-0.8zM2.6 15.1h0.8v0.8h-0.8zM8.0 13.4h0.8v0.8h-0.8zM20.0 6.0h0.8v0.8h-0.8zM22.8 1.9h0.8v0.8h-0.8zM13.5 13.0h0.8v0.8h-0.8zM5.6 13.5h0.8v0.8h-0.8zM11.3 10.8h0.8v0.8h-0.8z" fill="#6D8FD8"/></pattern><pattern id="pR2" patternUnits="userSpaceOnUse" width="19" height="19"><path d="M13.5 16.0h0.8v0.8h-0.8zM3.5 19.0h0.8v0.8h-0.8zM3.7 12.7h0.8v0.8h-0.8zM1.7 14.4h0.8v0.8h-0.8zM2.9 13.4h0.8v0.8h-0.8zM13.8 14.6h0.8v0.8h-0.8zM8.4 16.4h0.8v0.8h-0.8zM18.8 2.2h0.8v0.8h-0.8zM9.8 18.2h0.8v0.8h-0.8zM14.0 8.4h0.8v0.8h-0.8zM5.8 18.1h0.8v0.8h-0.8zM1.6 14.5h0.8v0.8h-0.8zM16.0 3.0h0.8v0.8h-0.8zM6.2 5.8h0.8v0.8h-0.8zM10.3 7.0h0.8v0.8h-0.8zM17.0 17.6h0.8v0.8h-0.8zM6.0 17.0h0.8v0.8h-0.8zM1.3 1.8h0.8v0.8h-0.8zM12.6 15.2h0.8v0.8h-0.8zM15.6 18.8h0.8v0.8h-0.8zM16.3 5.1h0.8v0.8h-0.8zM14.1 17.6h0.8v0.8h-0.8zM1.8 9.4h0.8v0.8h-0.8zM2.9 2.7h0.8v0.8h-0.8zM9.1 12.7h0.8v0.8h-0.8zM18.5 2.5h0.8v0.8h-0.8zM9.6 18.9h0.8v0.8h-0.8zM14.5 10.1h0.8v0.8h-0.8zM4.6 12.0h0.8v0.8h-0.8zM5.0 12.2h0.8v0.8h-0.8zM12.3 7.4h0.8v0.8h-0.8zM15.1 7.7h0.8v0.8h-0.8zM8.9 15.8h0.8v0.8h-0.8zM4.8 3.5h0.8v0.8h-0.8zM10.9 8.3h0.8v0.8h-0.8zM16.6 4.7h0.8v0.8h-0.8zM7.1 1.1h0.8v0.8h-0.8zM8.6 5.9h0.8v0.8h-0.8zM8.5 14.5h0.8v0.8h-0.8zM0.7 18.8h0.8v0.8h-0.8zM13.5 15.4h0.8v0.8h-0.8zM10.2 11.0h0.8v0.8h-0.8zM7.8 7.5h0.8v0.8h-0.8zM4.2 5.8h0.8v0.8h-0.8zM5.6 6.4h0.8v0.8h-0.8zM17.2 15.2h0.8v0.8h-0.8zM12.2 0.3h0.8v0.8h-0.8zM5.0 10.3h0.8v0.8h-0.8zM13.1 8.0h0.8v0.8h-0.8zM12.0 17.2h0.8v0.8h-0.8zM5.1 7.3h0.8v0.8h-0.8zM14.4 6.1h0.8v0.8h-0.8zM13.7 7.5h0.8v0.8h-0.8zM0.4 8.8h0.8v0.8h-0.8zM1.3 14.9h0.8v0.8h-0.8zM16.1 10.1h0.8v0.8h-0.8zM17.1 4.0h0.8v0.8h-0.8zM8.5 3.3h0.8v0.8h-0.8zM0.9 15.7h0.8v0.8h-0.8zM1.0 17.8h0.8v0.8h-0.8zM10.6 13.3h0.8v0.8h-0.8zM0.9 17.2h0.8v0.8h-0.8zM15.1 2.0h0.8v0.8h-0.8zM3.5 2.7h0.8v0.8h-0.8zM9.6 1.5h0.8v0.8h-0.8zM15.2 9.4h0.8v0.8h-0.8zM13.4 4.8h0.8v0.8h-0.8zM12.4 8.6h0.8v0.8h-0.8zM12.3 7.8h0.8v0.8h-0.8zM18.8 16.1h0.8v0.8h-0.8zM15.8 6.5h0.8v0.8h-0.8zM3.6 2.9h0.8v0.8h-0.8zM2.5 18.4h0.8v0.8h-0.8zM5.4 16.5h0.8v0.8h-0.8zM4.4 11.8h0.8v0.8h-0.8zM4.7 5.8h0.8v0.8h-0.8zM14.2 11.6h0.8v0.8h-0.8zM18.0 4.5h0.8v0.8h-0.8zM5.1 1.2h0.8v0.8h-0.8zM4.1 18.6h0.8v0.8h-0.8zM10.7 9.0h0.8v0.8h-0.8zM6.5 14.4h0.8v0.8h-0.8zM13.1 3.0h0.8v0.8h-0.8zM0.9 3.3h0.8v0.8h-0.8zM15.5 13.9h0.8v0.8h-0.8zM4.3 4.4h0.8v0.8h-0.8zM5.8 12.9h0.8v0.8h-0.8zM14.2 4.5h0.8v0.8h-0.8zM6.3 4.5h0.8v0.8h-0.8zM18.0 10.5h0.8v0.8h-0.8zM17.9 4.6h0.8v0.8h-0.8zM12.0 10.8h0.8v0.8h-0.8zM17.7 6.9h0.8v0.8h-0.8zM4.3 15.5h0.8v0.8h-0.8zM18.1 9.7h0.8v0.8h-0.8zM6.3 1.6h0.8v0.8h-0.8zM8.4 17.6h0.8v0.8h-0.8zM6.8 8.5h0.8v0.8h-0.8zM10.7 4.5h0.8v0.8h-0.8zM2.1 9.9h0.8v0.8h-0.8zM18.4 16.6h0.8v0.8h-0.8zM5.7 14.9h0.8v0.8h-0.8zM15.8 11.1h0.8v0.8h-0.8zM6.8 3.7h0.8v0.8h-0.8zM13.4 13.0h0.8v0.8h-0.8zM4.1 2.7h0.8v0.8h-0.8zM2.2 15.7h0.8v0.8h-0.8zM16.8 9.8h0.8v0.8h-0.8zM11.6 13.4h0.8v0.8h-0.8zM3.0 9.9h0.8v0.8h-0.8zM8.5 16.5h0.8v0.8h-0.8zM3.1 16.1h0.8v0.8h-0.8z" fill="#F8766D"/></pattern></defs>
<g transform="translate(101,167.6) scale(1.0667,0.989) translate(-282.6,-166.5)"><path d="M242.7,122.6 C245.5,121.7 246.0,123.1 247.2,124.0 C248.4,124.9 249.1,126.3 249.8,128.0 C250.5,129.7 251.0,131.7 251.5,134.0 C252.0,136.3 252.5,139.7 253.0,142.0 C253.5,144.3 253.8,146.2 254.5,148.0 C255.2,149.8 256.1,151.5 257.0,153.0 C257.9,154.5 258.7,155.8 260.0,157.0 C261.3,158.2 263.3,159.6 265.0,160.5 C266.7,161.4 270.3,161.4 270.0,162.5 C269.7,163.6 265.0,165.5 263.0,167.0 C261.0,168.5 259.9,170.8 257.8,171.7 C255.7,172.5 252.7,172.9 250.2,172.1 C247.7,171.3 245.2,169.1 242.7,167.1 C240.2,165.1 237.4,162.7 235.1,160.3 C232.8,157.9 230.5,156.1 229.0,152.8 C227.5,149.5 226.7,143.7 226.3,140.7 C225.9,137.7 226.1,136.5 226.8,134.6 C227.5,132.7 227.9,131.4 230.6,129.4 C233.2,127.4 239.9,123.5 242.7,122.6 Z" fill="#12B5BB"/><path d="M287.0,147.5 C288.6,146.6 296.4,145.6 298.0,146.5 C299.6,147.4 296.9,150.8 296.5,153.0 C296.1,155.2 296.4,158.4 295.5,159.5 C294.6,160.6 292.2,160.8 291.0,159.5 C289.8,158.2 289.2,154.0 288.5,152.0 C287.8,150.0 285.4,148.4 287.0,147.5 Z" fill="#12B5BB" opacity="0.5"/><path d="M281.8,145.8 C282.1,144.9 284.9,143.1 286.5,142.0 C288.1,140.9 289.9,139.5 291.6,139.0 C293.4,138.5 295.0,138.6 297.0,138.8 C299.0,139.0 301.9,139.9 303.7,140.3 C305.5,140.8 306.7,141.1 308.0,141.5 C309.3,141.9 311.8,142.5 311.3,143.0 C310.8,143.5 307.1,144.0 305.0,144.5 C302.9,145.0 300.8,145.4 299.0,145.8 C297.2,146.2 295.8,146.5 294.0,147.0 C292.2,147.5 289.6,148.5 288.0,148.6 C286.4,148.7 285.5,148.1 284.5,147.6 C283.5,147.1 281.5,146.7 281.8,145.8 Z" fill="#12B5BB"/><path d="M307.5,142.2 C308.5,141.7 312.2,142.6 314.0,143.0 C315.8,143.4 317.1,143.9 318.5,144.5 C319.9,145.1 321.4,146.0 322.2,146.8 C322.9,147.6 323.4,148.4 323.0,149.1 C322.6,149.8 321.0,150.5 320.0,151.0 C319.0,151.5 318.1,152.0 317.0,152.2 C315.9,152.4 314.2,152.8 313.1,152.4 C312.0,152.0 311.0,150.7 310.1,149.6 C309.2,148.5 308.4,147.2 308.0,146.0 C307.6,144.8 306.5,142.7 307.5,142.2 Z" fill="#12B5BB"/><path d="M303.5,114.5 C303.8,113.4 304.8,113.1 306.0,112.8 C307.2,112.5 309.3,112.4 311.0,112.5 C312.7,112.6 313.8,113.2 316.0,113.5 C318.2,113.8 321.3,114.0 324.0,114.3 C326.7,114.5 330.6,114.6 332.0,115.0 C333.4,115.4 333.8,116.3 332.5,116.6 C331.2,116.9 326.5,116.7 324.0,116.8 C321.5,116.9 318.9,116.8 317.5,117.3 C316.1,117.8 316.2,118.7 315.5,119.5 C314.8,120.3 313.8,121.7 313.0,122.3 C312.2,122.9 311.5,123.2 310.5,123.2 C309.5,123.2 308.0,122.9 307.0,122.3 C306.0,121.7 304.9,120.8 304.3,119.5 C303.7,118.2 303.2,115.6 303.5,114.5 Z" fill="#12B5BB"/><path d="M333.5,112.8 C334.0,111.9 335.2,111.2 336.0,111.0 C336.8,110.8 337.8,110.9 338.5,111.5 C339.2,112.1 339.8,113.2 340.3,114.5 C340.9,115.8 341.8,118.0 341.8,119.4 C341.9,120.8 341.3,122.1 340.6,122.7 C339.9,123.3 338.5,123.4 337.5,123.0 C336.5,122.6 335.2,121.3 334.5,120.2 C333.8,119.1 333.2,117.6 333.0,116.4 C332.8,115.2 333.0,113.7 333.5,112.8 Z" fill="#12B5BB"/><path d="M340.5,134.8 C341.0,133.9 342.2,134.6 343.0,134.9 C343.8,135.2 344.8,135.6 345.5,136.5 C346.2,137.4 346.9,139.1 347.1,140.3 C347.3,141.5 347.2,143.0 346.6,143.8 C346.1,144.6 344.7,145.1 343.8,145.2 C342.9,145.3 341.9,145.2 341.2,144.4 C340.5,143.6 339.9,142.1 339.8,140.5 C339.7,138.9 340.0,135.7 340.5,134.8 Z" fill="#12B5BB"/><path d="M296.5,169.0 L294.5,177.0 L292.0,183.0 L288.0,187.5 L282.0,190.3 L276.4,191.3 L270.0,190.6 L265.5,188.6 L263.6,184.3 L267.0,185.2 L271.0,186.0 L276.4,186.3 L281.0,185.0 L285.0,182.5 L288.0,179.0 L289.5,174.0 L289.5,170.0 Z" fill="#12B5BB"/><path d="M256.9,170.1 C256.9,168.9 260.0,167.7 262.0,166.3 C264.0,164.9 266.7,162.9 268.9,161.9 C271.1,160.9 273.1,160.6 275.0,160.2 C276.9,159.8 278.0,159.6 280.2,159.4 C282.4,159.2 285.6,159.1 288.0,158.9 C290.4,158.7 292.9,157.2 294.5,158.4 C296.1,159.6 297.7,164.2 297.8,166.3 C297.9,168.4 295.8,169.5 295.0,171.0 C294.2,172.5 294.3,174.3 292.8,175.2 C291.3,176.1 288.1,176.3 286.0,176.6 C283.9,176.9 282.4,177.1 280.2,177.1 C278.0,177.1 275.1,176.9 273.0,176.6 C270.9,176.3 269.4,175.9 267.6,175.4 C265.8,174.9 263.8,174.5 262.0,173.6 C260.2,172.7 256.9,171.3 256.9,170.1 Z" fill="#12B5BB"/><path d="M295.3,189.1 C297.0,188.1 299.3,187.4 301.4,187.1 C303.5,186.8 305.6,187.1 308.0,187.3 C310.4,187.5 313.2,187.6 315.5,188.1 C317.8,188.6 320.2,189.7 322.0,190.5 C323.8,191.3 325.0,192.0 326.5,193.2 C328.0,194.4 330.0,196.0 331.0,197.5 C332.0,199.0 332.4,200.4 332.6,202.2 C332.8,203.9 332.6,206.0 332.3,208.0 C332.0,210.0 331.4,212.7 330.6,214.3 C329.8,215.9 328.7,216.7 327.5,217.5 C326.3,218.3 325.1,218.8 323.5,219.4 C321.9,220.0 319.7,220.9 318.0,221.3 C316.3,221.7 315.0,221.9 313.5,222.0 C312.0,222.1 310.4,221.9 309.0,221.6 C307.6,221.3 306.9,221.4 305.4,220.4 C303.9,219.4 301.7,217.2 300.0,215.5 C298.3,213.8 296.6,212.1 295.3,210.3 C294.1,208.6 293.2,206.7 292.5,205.0 C291.8,203.3 291.5,202.2 291.3,200.2 C291.1,198.2 290.6,195.0 291.3,193.2 C292.0,191.3 293.6,190.1 295.3,189.1 Z" fill="#12B5BB"/><path d="M258.2,212.6 L260.6,214.0 L263.3,213.0 L262.8,216.2 L263.8,218.4 L260.5,218.5 L258.3,217.8 L258.8,215.2 Z" fill="#12B5BB"/><path d="M340,121.5 L341.8,136" stroke="#12B5BB" stroke-width="1.3" fill="none"/><g clip-path="url(#uc)"><rect x="220" y="105" width="135" height="125" fill="url(#pR)"/><defs><radialGradient id="g1"><stop offset="0" stop-color="#F8766D" stop-opacity="0.7"/><stop offset="0.6" stop-color="#F8766D" stop-opacity="0.49"/><stop offset="1" stop-color="#F8766D" stop-opacity="0"/></radialGradient><radialGradient id="g2"><stop offset="0" stop-color="#F8766D" stop-opacity="0.45"/><stop offset="0.6" stop-color="#F8766D" stop-opacity="0.32"/><stop offset="1" stop-color="#F8766D" stop-opacity="0"/></radialGradient><radialGradient id="g3"><stop offset="0" stop-color="#F8766D" stop-opacity="0.4"/><stop offset="0.6" stop-color="#F8766D" stop-opacity="0.28"/><stop offset="1" stop-color="#F8766D" stop-opacity="0"/></radialGradient><radialGradient id="g4"><stop offset="0" stop-color="#F8766D" stop-opacity="0.4"/><stop offset="0.6" stop-color="#F8766D" stop-opacity="0.28"/><stop offset="1" stop-color="#F8766D" stop-opacity="0"/></radialGradient><radialGradient id="g5"><stop offset="0" stop-color="#F8766D" stop-opacity="0.35"/><stop offset="0.6" stop-color="#F8766D" stop-opacity="0.24"/><stop offset="1" stop-color="#F8766D" stop-opacity="0"/></radialGradient><radialGradient id="g6"><stop offset="0" stop-color="#F8766D" stop-opacity="0.35"/><stop offset="0.6" stop-color="#F8766D" stop-opacity="0.24"/><stop offset="1" stop-color="#F8766D" stop-opacity="0"/></radialGradient><radialGradient id="g7"><stop offset="0" stop-color="#F8766D" stop-opacity="0.3"/><stop offset="0.6" stop-color="#F8766D" stop-opacity="0.21"/><stop offset="1" stop-color="#F8766D" stop-opacity="0"/></radialGradient><radialGradient id="g8"><stop offset="0" stop-color="#F8766D" stop-opacity="0.35"/><stop offset="0.6" stop-color="#F8766D" stop-opacity="0.24"/><stop offset="1" stop-color="#F8766D" stop-opacity="0"/></radialGradient><radialGradient id="g9"><stop offset="0" stop-color="#F8766D" stop-opacity="0.5"/><stop offset="0.6" stop-color="#F8766D" stop-opacity="0.35"/><stop offset="1" stop-color="#F8766D" stop-opacity="0"/></radialGradient><radialGradient id="g10"><stop offset="0" stop-color="#F8766D" stop-opacity="0.3"/><stop offset="0.6" stop-color="#F8766D" stop-opacity="0.21"/><stop offset="1" stop-color="#F8766D" stop-opacity="0"/></radialGradient><radialGradient id="g11"><stop offset="0" stop-color="#F8766D" stop-opacity="0.3"/><stop offset="0.6" stop-color="#F8766D" stop-opacity="0.21"/><stop offset="1" stop-color="#F8766D" stop-opacity="0"/></radialGradient><radialGradient id="g12"><stop offset="0" stop-color="#F8766D" stop-opacity="0.3"/><stop offset="0.6" stop-color="#F8766D" stop-opacity="0.21"/><stop offset="1" stop-color="#F8766D" stop-opacity="0"/></radialGradient><radialGradient id="g13"><stop offset="0" stop-color="#F8766D" stop-opacity="0.3"/><stop offset="0.6" stop-color="#F8766D" stop-opacity="0.21"/><stop offset="1" stop-color="#F8766D" stop-opacity="0"/></radialGradient><radialGradient id="g14"><stop offset="0" stop-color="#F8766D" stop-opacity="0.3"/><stop offset="0.6" stop-color="#F8766D" stop-opacity="0.21"/><stop offset="1" stop-color="#F8766D" stop-opacity="0"/></radialGradient></defs><circle cx="245" cy="160" r="15" fill="url(#g1)"/><circle cx="238" cy="150" r="10" fill="url(#g2)"/><circle cx="229" cy="147" r="8" fill="url(#g3)"/><circle cx="258" cy="167" r="10" fill="url(#g4)"/><circle cx="308" cy="117" r="6" fill="url(#g5)"/><circle cx="297" cy="194" r="9" fill="url(#g6)"/><circle cx="331" cy="207" r="6" fill="url(#g7)"/><circle cx="312" cy="222" r="7" fill="url(#g8)"/><circle cx="260" cy="214" r="4" fill="url(#g9)"/><circle cx="336" cy="114" r="4" fill="url(#g10)"/><circle cx="272" cy="188" r="6" fill="url(#g11)"/><circle cx="285" cy="144" r="5" fill="url(#g12)"/><circle cx="320" cy="116" r="5" fill="url(#g13)"/><circle cx="343" cy="141" r="5" fill="url(#g14)"/><rect x="225" y="140" width="45" height="35" fill="url(#pR2)"/><path d="M295.3,189.1 C297.0,188.1 299.3,187.4 301.4,187.1 C303.5,186.8 305.6,187.1 308.0,187.3 C310.4,187.5 313.2,187.6 315.5,188.1 C317.8,188.6 320.2,189.7 322.0,190.5 C323.8,191.3 325.0,192.0 326.5,193.2 C328.0,194.4 330.0,196.0 331.0,197.5 C332.0,199.0 332.4,200.4 332.6,202.2 C332.8,203.9 332.6,206.0 332.3,208.0 C332.0,210.0 331.4,212.7 330.6,214.3 C329.8,215.9 328.7,216.7 327.5,217.5 C326.3,218.3 325.1,218.8 323.5,219.4 C321.9,220.0 319.7,220.9 318.0,221.3 C316.3,221.7 315.0,221.9 313.5,222.0 C312.0,222.1 310.4,221.9 309.0,221.6 C307.6,221.3 306.9,221.4 305.4,220.4 C303.9,219.4 301.7,217.2 300.0,215.5 C298.3,213.8 296.6,212.1 295.3,210.3 C294.1,208.6 293.2,206.7 292.5,205.0 C291.8,203.3 291.5,202.2 291.3,200.2 C291.1,198.2 290.6,195.0 291.3,193.2 C292.0,191.3 293.6,190.1 295.3,189.1 Z" stroke="#F8766D" stroke-opacity="0.4" stroke-width="3.5" fill="none"/><path d="M242.7,122.6 C245.5,121.7 246.0,123.1 247.2,124.0 C248.4,124.9 249.1,126.3 249.8,128.0 C250.5,129.7 251.0,131.7 251.5,134.0 C252.0,136.3 252.5,139.7 253.0,142.0 C253.5,144.3 253.8,146.2 254.5,148.0 C255.2,149.8 256.1,151.5 257.0,153.0 C257.9,154.5 258.7,155.8 260.0,157.0 C261.3,158.2 263.3,159.6 265.0,160.5 C266.7,161.4 270.3,161.4 270.0,162.5 C269.7,163.6 265.0,165.5 263.0,167.0 C261.0,168.5 259.9,170.8 257.8,171.7 C255.7,172.5 252.7,172.9 250.2,172.1 C247.7,171.3 245.2,169.1 242.7,167.1 C240.2,165.1 237.4,162.7 235.1,160.3 C232.8,157.9 230.5,156.1 229.0,152.8 C227.5,149.5 226.7,143.7 226.3,140.7 C225.9,137.7 226.1,136.5 226.8,134.6 C227.5,132.7 227.9,131.4 230.6,129.4 C233.2,127.4 239.9,123.5 242.7,122.6 Z" stroke="#F8766D" stroke-opacity="0.3" stroke-width="2.5" fill="none"/></g></g>
<circle cx="175.7" cy="167.3" r="1.6" fill="#F8766D"/><circle cx="175.7" cy="172.6" r="1.6" fill="#00BFC4"/>
<text x="180.1" y="169.3" font-size="5.5" fill="#222" font-family="Liberation Sans, sans-serif">oCRC</text><text x="180.1" y="174.4" font-size="5.5" fill="#222" font-family="Liberation Sans, sans-serif">yCRC</text>
<path d="M220.2,106 L220.2,228 L353,228" stroke="#4a4a4a" stroke-width="0.95" fill="none"/><line x1="234.6" y1="228" x2="234.6" y2="229.2" stroke="#333" stroke-width="0.5"/><text x="234.6" y="233.8" font-size="5.0" fill="#4d4d4d" text-anchor="middle" font-family="Liberation Sans, sans-serif">-10</text><line x1="258.6" y1="228" x2="258.6" y2="229.2" stroke="#333" stroke-width="0.5"/><text x="258.6" y="233.8" font-size="5.0" fill="#4d4d4d" text-anchor="middle" font-family="Liberation Sans, sans-serif">-5</text><line x1="282.6" y1="228" x2="282.6" y2="229.2" stroke="#333" stroke-width="0.5"/><text x="282.6" y="233.8" font-size="5.0" fill="#4d4d4d" text-anchor="middle" font-family="Liberation Sans, sans-serif">0</text><line x1="306.5" y1="228" x2="306.5" y2="229.2" stroke="#333" stroke-width="0.5"/><text x="306.5" y="233.8" font-size="5.0" fill="#4d4d4d" text-anchor="middle" font-family="Liberation Sans, sans-serif">5</text><line x1="330.5" y1="228" x2="330.5" y2="229.2" stroke="#333" stroke-width="0.5"/><text x="330.5" y="233.8" font-size="5.0" fill="#4d4d4d" text-anchor="middle" font-family="Liberation Sans, sans-serif">10</text><line x1="219.0" y1="120.7" x2="220.2" y2="120.7" stroke="#333" stroke-width="0.5"/><text x="218.3" y="122.3" font-size="5.0" fill="#4d4d4d" text-anchor="end" font-family="Liberation Sans, sans-serif">10</text><line x1="219.0" y1="143.4" x2="220.2" y2="143.4" stroke="#333" stroke-width="0.5"/><text x="218.3" y="145.0" font-size="5.0" fill="#4d4d4d" text-anchor="end" font-family="Liberation Sans, sans-serif">5</text><line x1="219.0" y1="166.3" x2="220.2" y2="166.3" stroke="#333" stroke-width="0.5"/><text x="218.3" y="167.9" font-size="5.0" fill="#4d4d4d" text-anchor="end" font-family="Liberation Sans, sans-serif">0</text><line x1="219.0" y1="189.5" x2="220.2" y2="189.5" stroke="#333" stroke-width="0.5"/><text x="218.3" y="191.1" font-size="5.0" fill="#4d4d4d" text-anchor="end" font-family="Liberation Sans, sans-serif">-5</text><line x1="219.0" y1="212.5" x2="220.2" y2="212.5" stroke="#333" stroke-width="0.5"/><text x="218.3" y="214.1" font-size="5.0" fill="#4d4d4d" text-anchor="end" font-family="Liberation Sans, sans-serif">-10</text>
<text x="283.7" y="239.2" font-size="5.7" fill="#222" text-anchor="middle" font-family="Liberation Sans, sans-serif">UMAP_1</text>
<text transform="translate(211,165) rotate(-90)" font-size="5.6" fill="#222" text-anchor="middle" font-family="Liberation Sans, sans-serif">UMAP_2</text>
<g><path d="M242.7,122.6 C245.5,121.7 246.0,123.1 247.2,124.0 C248.4,124.9 249.1,126.3 249.8,128.0 C250.5,129.7 251.0,131.7 251.5,134.0 C252.0,136.3 252.5,139.7 253.0,142.0 C253.5,144.3 253.8,146.2 254.5,148.0 C255.2,149.8 256.1,151.5 257.0,153.0 C257.9,154.5 258.7,155.8 260.0,157.0 C261.3,158.2 263.3,159.6 265.0,160.5 C266.7,161.4 270.3,161.4 270.0,162.5 C269.7,163.6 265.0,165.5 263.0,167.0 C261.0,168.5 259.9,170.8 257.8,171.7 C255.7,172.5 252.7,172.9 250.2,172.1 C247.7,171.3 245.2,169.1 242.7,167.1 C240.2,165.1 237.4,162.7 235.1,160.3 C232.8,157.9 230.5,156.1 229.0,152.8 C227.5,149.5 226.7,143.7 226.3,140.7 C225.9,137.7 226.1,136.5 226.8,134.6 C227.5,132.7 227.9,131.4 230.6,129.4 C233.2,127.4 239.9,123.5 242.7,122.6 Z" fill="#F8766D"/><path d="M287.0,147.5 C288.6,146.6 296.4,145.6 298.0,146.5 C299.6,147.4 296.9,150.8 296.5,153.0 C296.1,155.2 296.4,158.4 295.5,159.5 C294.6,160.6 292.2,160.8 291.0,159.5 C289.8,158.2 289.2,154.0 288.5,152.0 C287.8,150.0 285.4,148.4 287.0,147.5 Z" fill="#7FD89B" opacity="0.5"/><path d="M281.8,145.8 C282.1,144.9 284.9,143.1 286.5,142.0 C288.1,140.9 289.9,139.5 291.6,139.0 C293.4,138.5 295.0,138.6 297.0,138.8 C299.0,139.0 301.9,139.9 303.7,140.3 C305.5,140.8 306.7,141.1 308.0,141.5 C309.3,141.9 311.8,142.5 311.3,143.0 C310.8,143.5 307.1,144.0 305.0,144.5 C302.9,145.0 300.8,145.4 299.0,145.8 C297.2,146.2 295.8,146.5 294.0,147.0 C292.2,147.5 289.6,148.5 288.0,148.6 C286.4,148.7 285.5,148.1 284.5,147.6 C283.5,147.1 281.5,146.7 281.8,145.8 Z" fill="#00BA38"/><path d="M307.5,142.2 C308.5,141.7 312.2,142.6 314.0,143.0 C315.8,143.4 317.1,143.9 318.5,144.5 C319.9,145.1 321.4,146.0 322.2,146.8 C322.9,147.6 323.4,148.4 323.0,149.1 C322.6,149.8 321.0,150.5 320.0,151.0 C319.0,151.5 318.1,152.0 317.0,152.2 C315.9,152.4 314.2,152.8 313.1,152.4 C312.0,152.0 311.0,150.7 310.1,149.6 C309.2,148.5 308.4,147.2 308.0,146.0 C307.6,144.8 306.5,142.7 307.5,142.2 Z" fill="#00B9E3"/><path d="M303.5,114.5 C303.8,113.4 304.8,113.1 306.0,112.8 C307.2,112.5 309.3,112.4 311.0,112.5 C312.7,112.6 313.8,113.2 316.0,113.5 C318.2,113.8 321.3,114.0 324.0,114.3 C326.7,114.5 330.6,114.6 332.0,115.0 C333.4,115.4 333.8,116.3 332.5,116.6 C331.2,116.9 326.5,116.7 324.0,116.8 C321.5,116.9 318.9,116.8 317.5,117.3 C316.1,117.8 316.2,118.7 315.5,119.5 C314.8,120.3 313.8,121.7 313.0,122.3 C312.2,122.9 311.5,123.2 310.5,123.2 C309.5,123.2 308.0,122.9 307.0,122.3 C306.0,121.7 304.9,120.8 304.3,119.5 C303.7,118.2 303.2,115.6 303.5,114.5 Z" fill="#00C19F"/><path d="M333.5,112.8 C334.0,111.9 335.2,111.2 336.0,111.0 C336.8,110.8 337.8,110.9 338.5,111.5 C339.2,112.1 339.8,113.2 340.3,114.5 C340.9,115.8 341.8,118.0 341.8,119.4 C341.9,120.8 341.3,122.1 340.6,122.7 C339.9,123.3 338.5,123.4 337.5,123.0 C336.5,122.6 335.2,121.3 334.5,120.2 C333.8,119.1 333.2,117.6 333.0,116.4 C332.8,115.2 333.0,113.7 333.5,112.8 Z" fill="#619CFF"/><path d="M340.5,134.8 C341.0,133.9 342.2,134.6 343.0,134.9 C343.8,135.2 344.8,135.6 345.5,136.5 C346.2,137.4 346.9,139.1 347.1,140.3 C347.3,141.5 347.2,143.0 346.6,143.8 C346.1,144.6 344.7,145.1 343.8,145.2 C342.9,145.3 341.9,145.2 341.2,144.4 C340.5,143.6 339.9,142.1 339.8,140.5 C339.7,138.9 340.0,135.7 340.5,134.8 Z" fill="#619CFF"/><path d="M296.5,169.0 L294.5,177.0 L292.0,183.0 L288.0,187.5 L282.0,190.3 L276.4,191.3 L270.0,190.6 L265.5,188.6 L263.6,184.3 L267.0,185.2 L271.0,186.0 L276.4,186.3 L281.0,185.0 L285.0,182.5 L288.0,179.0 L289.5,174.0 L289.5,170.0 Z" fill="#DB72FB"/><path d="M256.9,170.1 C256.9,168.9 260.0,167.7 262.0,166.3 C264.0,164.9 266.7,162.9 268.9,161.9 C271.1,160.9 273.1,160.6 275.0,160.2 C276.9,159.8 278.0,159.6 280.2,159.4 C282.4,159.2 285.6,159.1 288.0,158.9 C290.4,158.7 292.9,157.2 294.5,158.4 C296.1,159.6 297.7,164.2 297.8,166.3 C297.9,168.4 295.8,169.5 295.0,171.0 C294.2,172.5 294.3,174.3 292.8,175.2 C291.3,176.1 288.1,176.3 286.0,176.6 C283.9,176.9 282.4,177.1 280.2,177.1 C278.0,177.1 275.1,176.9 273.0,176.6 C270.9,176.3 269.4,175.9 267.6,175.4 C265.8,174.9 263.8,174.5 262.0,173.6 C260.2,172.7 256.9,171.3 256.9,170.1 Z" fill="#93AA00"/><path d="M295.3,189.1 C297.0,188.1 299.3,187.4 301.4,187.1 C303.5,186.8 305.6,187.1 308.0,187.3 C310.4,187.5 313.2,187.6 315.5,188.1 C317.8,188.6 320.2,189.7 322.0,190.5 C323.8,191.3 325.0,192.0 326.5,193.2 C328.0,194.4 330.0,196.0 331.0,197.5 C332.0,199.0 332.4,200.4 332.6,202.2 C332.8,203.9 332.6,206.0 332.3,208.0 C332.0,210.0 331.4,212.7 330.6,214.3 C329.8,215.9 328.7,216.7 327.5,217.5 C326.3,218.3 325.1,218.8 323.5,219.4 C321.9,220.0 319.7,220.9 318.0,221.3 C316.3,221.7 315.0,221.9 313.5,222.0 C312.0,222.1 310.4,221.9 309.0,221.6 C307.6,221.3 306.9,221.4 305.4,220.4 C303.9,219.4 301.7,217.2 300.0,215.5 C298.3,213.8 296.6,212.1 295.3,210.3 C294.1,208.6 293.2,206.7 292.5,205.0 C291.8,203.3 291.5,202.2 291.3,200.2 C291.1,198.2 290.6,195.0 291.3,193.2 C292.0,191.3 293.6,190.1 295.3,189.1 Z" fill="#D39200"/><path d="M258.2,212.6 L260.6,214.0 L263.3,213.0 L262.8,216.2 L263.8,218.4 L260.5,218.5 L258.3,217.8 L258.8,215.2 Z" fill="#FF61C3"/><path d="M340,121.5 L341.8,136" stroke="#619CFF" stroke-width="1.3" fill="none"/></g>
<text x="240.7" y="149.5" font-size="4.9" fill="#222" text-anchor="middle" font-family="Liberation Sans, sans-serif">Plasma</text>
<text x="315.7" y="116" font-size="4.9" fill="#222" text-anchor="middle" font-family="Liberation Sans, sans-serif">Endothelial</text>
<text x="340" y="134" font-size="4.9" fill="#222" text-anchor="middle" font-family="Liberation Sans, sans-serif">Fibroblast</text>
<text x="298.5" y="141.7" font-size="4.9" fill="#222" text-anchor="middle" font-family="Liberation Sans, sans-serif">B cell</text>
<text x="321" y="145" font-size="4.9" fill="#222" text-anchor="middle" font-family="Liberation Sans, sans-serif">Myeloid</text>
<text x="279.1" y="172.5" font-size="4.9" fill="#222" text-anchor="middle" font-family="Liberation Sans, sans-serif">T cell</text>
<text x="289.5" y="185.2" font-size="4.9" fill="#222" text-anchor="middle" font-family="Liberation Sans, sans-serif">Proliferating cell</text>
<text x="312.5" y="207.6" font-size="4.9" fill="#222" text-anchor="middle" font-family="Liberation Sans, sans-serif">Epithelial</text>
<text x="259.3" y="222" font-size="4.9" fill="#222" text-anchor="middle" font-family="Liberation Sans, sans-serif">Mast</text>
<circle cx="352.9" cy="146.6" r="1.5" fill="#F8766D"/><text x="357.8" y="148.4" font-size="4.9" fill="#222" font-family="Liberation Sans, sans-serif">Plasma</text>
<circle cx="352.9" cy="151.6" r="1.5" fill="#D39200"/><text x="357.8" y="153.4" font-size="4.9" fill="#222" font-family="Liberation Sans, sans-serif">Epithelial</text>
<circle cx="352.9" cy="156.7" r="1.5" fill="#93AA00"/><text x="357.8" y="158.5" font-size="4.9" fill="#222" font-family="Liberation Sans, sans-serif">T cell</text>
<circle cx="352.9" cy="161.7" r="1.5" fill="#00BA38"/><text x="357.8" y="163.5" font-size="4.9" fill="#222" font-family="Liberation Sans, sans-serif">B cell</text>
<circle cx="352.9" cy="166.8" r="1.5" fill="#00C19F"/><text x="357.8" y="168.6" font-size="4.9" fill="#222" font-family="Liberation Sans, sans-serif">Endothelial</text>
<circle cx="352.9" cy="171.8" r="1.5" fill="#00B9E3"/><text x="357.8" y="173.6" font-size="4.9" fill="#222" font-family="Liberation Sans, sans-serif">Myeloid</text>
<circle cx="352.9" cy="176.8" r="1.5" fill="#619CFF"/><text x="357.8" y="178.6" font-size="4.9" fill="#222" font-family="Liberation Sans, sans-serif">Fibroblast</text>
<circle cx="352.9" cy="181.9" r="1.5" fill="#DB72FB"/><text x="357.8" y="183.7" font-size="4.9" fill="#222" font-family="Liberation Sans, sans-serif">Proliferating cell</text>
<circle cx="352.9" cy="186.9" r="1.5" fill="#FF61C3"/><text x="357.8" y="188.7" font-size="4.9" fill="#222" font-family="Liberation Sans, sans-serif">Mast</text>
<path d="M32,254 L32,374.3 L168,374.3" stroke="#4a4a4a" stroke-width="0.95" fill="none"/><line x1="46.6" y1="374.3" x2="46.6" y2="375.5" stroke="#333" stroke-width="0.5"/><text x="46.6" y="380.2" font-size="5.2" fill="#4d4d4d" text-anchor="middle" font-family="Liberation Sans, sans-serif">-10</text><line x1="71" y1="374.3" x2="71" y2="375.5" stroke="#333" stroke-width="0.5"/><text x="71" y="380.2" font-size="5.2" fill="#4d4d4d" text-anchor="middle" font-family="Liberation Sans, sans-serif">-5</text><line x1="95.2" y1="374.3" x2="95.2" y2="375.5" stroke="#333" stroke-width="0.5"/><text x="95.2" y="380.2" font-size="5.2" fill="#4d4d4d" text-anchor="middle" font-family="Liberation Sans, sans-serif">0</text><line x1="118.9" y1="374.3" x2="118.9" y2="375.5" stroke="#333" stroke-width="0.5"/><text x="118.9" y="380.2" font-size="5.2" fill="#4d4d4d" text-anchor="middle" font-family="Liberation Sans, sans-serif">5</text><line x1="143.3" y1="374.3" x2="143.3" y2="375.5" stroke="#333" stroke-width="0.5"/><text x="143.3" y="380.2" font-size="5.2" fill="#4d4d4d" text-anchor="middle" font-family="Liberation Sans, sans-serif">10</text><line x1="30.8" y1="268.3" x2="32" y2="268.3" stroke="#333" stroke-width="0.5"/><text x="29.2" y="269.90000000000003" font-size="5.2" fill="#4d4d4d" text-anchor="end" font-family="Liberation Sans, sans-serif">10</text><line x1="30.8" y1="291.2" x2="32" y2="291.2" stroke="#333" stroke-width="0.5"/><text x="29.2" y="292.8" font-size="5.2" fill="#4d4d4d" text-anchor="end" font-family="Liberation Sans, sans-serif">5</text><line x1="30.8" y1="313.9" x2="32" y2="313.9" stroke="#333" stroke-width="0.5"/><text x="29.2" y="315.5" font-size="5.2" fill="#4d4d4d" text-anchor="end" font-family="Liberation Sans, sans-serif">0</text><line x1="30.8" y1="336.5" x2="32" y2="336.5" stroke="#333" stroke-width="0.5"/><text x="29.2" y="338.1" font-size="5.2" fill="#4d4d4d" text-anchor="end" font-family="Liberation Sans, sans-serif">-5</text><line x1="30.8" y1="359.2" x2="32" y2="359.2" stroke="#333" stroke-width="0.5"/><text x="29.2" y="360.8" font-size="5.2" fill="#4d4d4d" text-anchor="end" font-family="Liberation Sans, sans-serif">-10</text>
<text x="103" y="385.7" font-size="5.7" fill="#222" text-anchor="middle" font-family="Liberation Sans, sans-serif">UMAP_1</text>
<text transform="translate(20.7,313) rotate(-90)" font-size="5.6" fill="#222" text-anchor="middle" font-family="Liberation Sans, sans-serif">UMAP_2</text>
<g transform="translate(95.2,313.9) scale(1.006,0.991) translate(-282.6,-166.5)"><path d="M242.7,122.6 C245.5,121.7 246.0,123.1 247.2,124.0 C248.4,124.9 249.1,126.3 249.8,128.0 C250.5,129.7 251.0,131.7 251.5,134.0 C252.0,136.3 252.5,139.7 253.0,142.0 C253.5,144.3 253.8,146.2 254.5,148.0 C255.2,149.8 256.1,151.5 257.0,153.0 C257.9,154.5 258.7,155.8 260.0,157.0 C261.3,158.2 263.3,159.6 265.0,160.5 C266.7,161.4 270.3,161.4 270.0,162.5 C269.7,163.6 265.0,165.5 263.0,167.0 C261.0,168.5 259.9,170.8 257.8,171.7 C255.7,172.5 252.7,172.9 250.2,172.1 C247.7,171.3 245.2,169.1 242.7,167.1 C240.2,165.1 237.4,162.7 235.1,160.3 C232.8,157.9 230.5,156.1 229.0,152.8 C227.5,149.5 226.7,143.7 226.3,140.7 C225.9,137.7 226.1,136.5 226.8,134.6 C227.5,132.7 227.9,131.4 230.6,129.4 C233.2,127.4 239.9,123.5 242.7,122.6 Z" fill="#F8766D"/><path d="M287.0,147.5 C288.6,146.6 296.4,145.6 298.0,146.5 C299.6,147.4 296.9,150.8 296.5,153.0 C296.1,155.2 296.4,158.4 295.5,159.5 C294.6,160.6 292.2,160.8 291.0,159.5 C289.8,158.2 289.2,154.0 288.5,152.0 C287.8,150.0 285.4,148.4 287.0,147.5 Z" fill="#F8766D" opacity="0.5"/><path d="M281.8,145.8 C282.1,144.9 284.9,143.1 286.5,142.0 C288.1,140.9 289.9,139.5 291.6,139.0 C293.4,138.5 295.0,138.6 297.0,138.8 C299.0,139.0 301.9,139.9 303.7,140.3 C305.5,140.8 306.7,141.1 308.0,141.5 C309.3,141.9 311.8,142.5 311.3,143.0 C310.8,143.5 307.1,144.0 305.0,144.5 C302.9,145.0 300.8,145.4 299.0,145.8 C297.2,146.2 295.8,146.5 294.0,147.0 C292.2,147.5 289.6,148.5 288.0,148.6 C286.4,148.7 285.5,148.1 284.5,147.6 C283.5,147.1 281.5,146.7 281.8,145.8 Z" fill="#F8766D"/><path d="M307.5,142.2 C308.5,141.7 312.2,142.6 314.0,143.0 C315.8,143.4 317.1,143.9 318.5,144.5 C319.9,145.1 321.4,146.0 322.2,146.8 C322.9,147.6 323.4,148.4 323.0,149.1 C322.6,149.8 321.0,150.5 320.0,151.0 C319.0,151.5 318.1,152.0 317.0,152.2 C315.9,152.4 314.2,152.8 313.1,152.4 C312.0,152.0 311.0,150.7 310.1,149.6 C309.2,148.5 308.4,147.2 308.0,146.0 C307.6,144.8 306.5,142.7 307.5,142.2 Z" fill="#F8766D"/><path d="M303.5,114.5 C303.8,113.4 304.8,113.1 306.0,112.8 C307.2,112.5 309.3,112.4 311.0,112.5 C312.7,112.6 313.8,113.2 316.0,113.5 C318.2,113.8 321.3,114.0 324.0,114.3 C326.7,114.5 330.6,114.6 332.0,115.0 C333.4,115.4 333.8,116.3 332.5,116.6 C331.2,116.9 326.5,116.7 324.0,116.8 C321.5,116.9 318.9,116.8 317.5,117.3 C316.1,117.8 316.2,118.7 315.5,119.5 C314.8,120.3 313.8,121.7 313.0,122.3 C312.2,122.9 311.5,123.2 310.5,123.2 C309.5,123.2 308.0,122.9 307.0,122.3 C306.0,121.7 304.9,120.8 304.3,119.5 C303.7,118.2 303.2,115.6 303.5,114.5 Z" fill="#F8766D"/><path d="M333.5,112.8 C334.0,111.9 335.2,111.2 336.0,111.0 C336.8,110.8 337.8,110.9 338.5,111.5 C339.2,112.1 339.8,113.2 340.3,114.5 C340.9,115.8 341.8,118.0 341.8,119.4 C341.9,120.8 341.3,122.1 340.6,122.7 C339.9,123.3 338.5,123.4 337.5,123.0 C336.5,122.6 335.2,121.3 334.5,120.2 C333.8,119.1 333.2,117.6 333.0,116.4 C332.8,115.2 333.0,113.7 333.5,112.8 Z" fill="#F8766D"/><path d="M340.5,134.8 C341.0,133.9 342.2,134.6 343.0,134.9 C343.8,135.2 344.8,135.6 345.5,136.5 C346.2,137.4 346.9,139.1 347.1,140.3 C347.3,141.5 347.2,143.0 346.6,143.8 C346.1,144.6 344.7,145.1 343.8,145.2 C342.9,145.3 341.9,145.2 341.2,144.4 C340.5,143.6 339.9,142.1 339.8,140.5 C339.7,138.9 340.0,135.7 340.5,134.8 Z" fill="#F8766D"/><path d="M296.5,169.0 L294.5,177.0 L292.0,183.0 L288.0,187.5 L282.0,190.3 L276.4,191.3 L270.0,190.6 L265.5,188.6 L263.6,184.3 L267.0,185.2 L271.0,186.0 L276.4,186.3 L281.0,185.0 L285.0,182.5 L288.0,179.0 L289.5,174.0 L289.5,170.0 Z" fill="#F8766D"/><path d="M256.9,170.1 C256.9,168.9 260.0,167.7 262.0,166.3 C264.0,164.9 266.7,162.9 268.9,161.9 C271.1,160.9 273.1,160.6 275.0,160.2 C276.9,159.8 278.0,159.6 280.2,159.4 C282.4,159.2 285.6,159.1 288.0,158.9 C290.4,158.7 292.9,157.2 294.5,158.4 C296.1,159.6 297.7,164.2 297.8,166.3 C297.9,168.4 295.8,169.5 295.0,171.0 C294.2,172.5 294.3,174.3 292.8,175.2 C291.3,176.1 288.1,176.3 286.0,176.6 C283.9,176.9 282.4,177.1 280.2,177.1 C278.0,177.1 275.1,176.9 273.0,176.6 C270.9,176.3 269.4,175.9 267.6,175.4 C265.8,174.9 263.8,174.5 262.0,173.6 C260.2,172.7 256.9,171.3 256.9,170.1 Z" fill="#F8766D"/><path d="M295.3,189.1 C297.0,188.1 299.3,187.4 301.4,187.1 C303.5,186.8 305.6,187.1 308.0,187.3 C310.4,187.5 313.2,187.6 315.5,188.1 C317.8,188.6 320.2,189.7 322.0,190.5 C323.8,191.3 325.0,192.0 326.5,193.2 C328.0,194.4 330.0,196.0 331.0,197.5 C332.0,199.0 332.4,200.4 332.6,202.2 C332.8,203.9 332.6,206.0 332.3,208.0 C332.0,210.0 331.4,212.7 330.6,214.3 C329.8,215.9 328.7,216.7 327.5,217.5 C326.3,218.3 325.1,218.8 323.5,219.4 C321.9,220.0 319.7,220.9 318.0,221.3 C316.3,221.7 315.0,221.9 313.5,222.0 C312.0,222.1 310.4,221.9 309.0,221.6 C307.6,221.3 306.9,221.4 305.4,220.4 C303.9,219.4 301.7,217.2 300.0,215.5 C298.3,213.8 296.6,212.1 295.3,210.3 C294.1,208.6 293.2,206.7 292.5,205.0 C291.8,203.3 291.5,202.2 291.3,200.2 C291.1,198.2 290.6,195.0 291.3,193.2 C292.0,191.3 293.6,190.1 295.3,189.1 Z" fill="#F8766D"/><path d="M258.2,212.6 L260.6,214.0 L263.3,213.0 L262.8,216.2 L263.8,218.4 L260.5,218.5 L258.3,217.8 L258.8,215.2 Z" fill="#F8766D"/><path d="M340,121.5 L341.8,136" stroke="#F8766D" stroke-width="1.3" fill="none"/><g clip-path="url(#uc)"><rect x="220" y="105" width="135" height="125" fill="url(#pG)"/><rect x="220" y="105" width="135" height="125" fill="url(#pBl)"/><defs><radialGradient id="g15"><stop offset="0" stop-color="#6D8FD8" stop-opacity="0.25"/><stop offset="0.6" stop-color="#6D8FD8" stop-opacity="0.17"/><stop offset="1" stop-color="#6D8FD8" stop-opacity="0"/></radialGradient><radialGradient id="g16"><stop offset="0" stop-color="#6D8FD8" stop-opacity="0.25"/><stop offset="0.6" stop-color="#6D8FD8" stop-opacity="0.17"/><stop offset="1" stop-color="#6D8FD8" stop-opacity="0"/></radialGradient><radialGradient id="g17"><stop offset="0" stop-color="#6D8FD8" stop-opacity="0.25"/><stop offset="0.6" stop-color="#6D8FD8" stop-opacity="0.17"/><stop offset="1" stop-color="#6D8FD8" stop-opacity="0"/></radialGradient><radialGradient id="g18"><stop offset="0" stop-color="#6D8FD8" stop-opacity="0.3"/><stop offset="0.6" stop-color="#6D8FD8" stop-opacity="0.21"/><stop offset="1" stop-color="#6D8FD8" stop-opacity="0"/></radialGradient></defs><circle cx="262" cy="166" r="12" fill="url(#g15)"/><circle cx="312" cy="207" r="13" fill="url(#g16)"/><circle cx="295" cy="145" r="8" fill="url(#g17)"/><circle cx="282" cy="187" r="10" fill="url(#g18)"/><defs><radialGradient id="g19"><stop offset="0" stop-color="#2FA850" stop-opacity="0.85"/><stop offset="0.6" stop-color="#2FA850" stop-opacity="0.59"/><stop offset="1" stop-color="#2FA850" stop-opacity="0"/></radialGradient><radialGradient id="g20"><stop offset="0" stop-color="#2FA850" stop-opacity="0.7"/><stop offset="0.6" stop-color="#2FA850" stop-opacity="0.49"/><stop offset="1" stop-color="#2FA850" stop-opacity="0"/></radialGradient><radialGradient id="g21"><stop offset="0" stop-color="#2FA850" stop-opacity="0.85"/><stop offset="0.6" stop-color="#2FA850" stop-opacity="0.59"/><stop offset="1" stop-color="#2FA850" stop-opacity="0"/></radialGradient><radialGradient id="g22"><stop offset="0" stop-color="#2FA850" stop-opacity="0.85"/><stop offset="0.6" stop-color="#2FA850" stop-opacity="0.59"/><stop offset="1" stop-color="#2FA850" stop-opacity="0"/></radialGradient><radialGradient id="g23"><stop offset="0" stop-color="#2FA850" stop-opacity="0.8"/><stop offset="0.6" stop-color="#2FA850" stop-opacity="0.56"/><stop offset="1" stop-color="#2FA850" stop-opacity="0"/></radialGradient><radialGradient id="g24"><stop offset="0" stop-color="#2FA850" stop-opacity="0.4"/><stop offset="0.6" stop-color="#2FA850" stop-opacity="0.28"/><stop offset="1" stop-color="#2FA850" stop-opacity="0"/></radialGradient><radialGradient id="g25"><stop offset="0" stop-color="#2FA850" stop-opacity="0.5"/><stop offset="0.6" stop-color="#2FA850" stop-opacity="0.35"/><stop offset="1" stop-color="#2FA850" stop-opacity="0"/></radialGradient><radialGradient id="g26"><stop offset="0" stop-color="#2FA850" stop-opacity="0.3"/><stop offset="0.6" stop-color="#2FA850" stop-opacity="0.21"/><stop offset="1" stop-color="#2FA850" stop-opacity="0"/></radialGradient><radialGradient id="g27"><stop offset="0" stop-color="#2FA850" stop-opacity="0.4"/><stop offset="0.6" stop-color="#2FA850" stop-opacity="0.28"/><stop offset="1" stop-color="#2FA850" stop-opacity="0"/></radialGradient><radialGradient id="g28"><stop offset="0" stop-color="#2FA850" stop-opacity="0.3"/><stop offset="0.6" stop-color="#2FA850" stop-opacity="0.21"/><stop offset="1" stop-color="#2FA850" stop-opacity="0"/></radialGradient></defs><circle cx="278" cy="187" r="15" fill="url(#g19)"/><circle cx="291" cy="177" r="8" fill="url(#g20)"/><circle cx="299" cy="192" r="10" fill="url(#g21)"/><circle cx="312" cy="189" r="11" fill="url(#g22)"/><circle cx="325" cy="196" r="9" fill="url(#g23)"/><circle cx="311" cy="199" r="9" fill="url(#g24)"/><circle cx="318" cy="150" r="6" fill="url(#g25)"/><circle cx="262" cy="170" r="11" fill="url(#g26)"/><circle cx="333" cy="118" r="4" fill="url(#g27)"/><circle cx="343" cy="137" r="3" fill="url(#g28)"/></g></g>
<circle cx="171.9" cy="310" r="1.7" fill="#F8766D"/><text x="178.5" y="311.6" font-size="4.5" fill="#222" font-family="Liberation Sans, sans-serif">G1</text>
<circle cx="171.9" cy="315.6" r="1.7" fill="#00BA38"/><text x="178.5" y="317.20000000000005" font-size="4.5" fill="#222" font-family="Liberation Sans, sans-serif">G2M</text>
<circle cx="171.9" cy="321.1" r="1.7" fill="#619CFF"/><text x="178.5" y="322.70000000000005" font-size="4.5" fill="#222" font-family="Liberation Sans, sans-serif">S</text>
<path d="M220.20 244.4h11.60v16.4h-11.60zM220.20 322.9h11.60v6.5h-11.60zM233.05 244.4h11.60v16.4h-11.60zM233.05 322.9h11.60v6.5h-11.60zM245.90 244.4h11.60v16.4h-11.60zM245.90 322.9h11.60v6.5h-11.60zM258.75 244.4h11.60v16.4h-11.60zM258.75 322.9h11.60v6.5h-11.60zM271.60 244.4h11.60v16.4h-11.60zM271.60 322.9h11.60v6.5h-11.60zM284.45 244.4h11.60v16.4h-11.60zM284.45 322.9h11.60v6.5h-11.60zM297.30 244.4h11.60v16.4h-11.60zM297.30 322.9h11.60v6.5h-11.60zM310.15 244.4h11.60v16.4h-11.60zM310.15 322.9h11.60v6.5h-11.60zM323.00 244.4h11.60v16.4h-11.60zM323.00 322.9h11.60v6.5h-11.60z" fill="#78a2d1"/>
<path d="M220.20 260.8h11.60v16.4h-11.60zM233.05 260.8h11.60v16.4h-11.60zM245.90 260.8h11.60v16.4h-11.60zM258.75 260.8h11.60v16.4h-11.60zM271.60 260.8h11.60v16.4h-11.60zM284.45 260.8h11.60v16.4h-11.60zM297.30 260.8h11.60v16.4h-11.60zM310.15 260.8h11.60v16.4h-11.60zM323.00 260.8h11.60v16.4h-11.60z" fill="#527fbd"/>
<path d="M220.20 277.1h11.60v9.8h-11.60zM220.20 339.2h11.60v6.5h-11.60zM233.05 277.1h11.60v9.8h-11.60zM233.05 339.2h11.60v6.5h-11.60zM245.90 277.1h11.60v9.8h-11.60zM245.90 339.2h11.60v6.5h-11.60zM258.75 277.1h11.60v9.8h-11.60zM258.75 339.2h11.60v6.5h-11.60zM271.60 277.1h11.60v9.8h-11.60zM271.60 339.2h11.60v6.5h-11.60zM284.45 277.1h11.60v9.8h-11.60zM284.45 339.2h11.60v6.5h-11.60zM297.30 277.1h11.60v9.8h-11.60zM297.30 339.2h11.60v6.5h-11.60zM310.15 277.1h11.60v9.8h-11.60zM310.15 339.2h11.60v6.5h-11.60zM323.00 277.1h11.60v9.8h-11.60zM323.00 339.2h11.60v6.5h-11.60zM220.20 260.8h0.64v9.8h-0.64zM220.20 273.8h0.64v3.3h-0.64zM220.84 260.8h0.64v9.8h-0.64zM222.13 260.8h0.64v16.4h-0.64zM222.78 244.4h0.64v9.8h-0.64zM222.78 257.5h0.64v3.3h-0.64zM222.78 296.7h0.64v13.1h-0.64zM222.78 326.1h0.64v3.3h-0.64zM222.78 352.3h0.64v3.3h-0.64zM224.71 260.8h0.64v3.3h-0.64zM224.71 267.3h0.64v9.8h-0.64zM227.29 260.8h0.64v9.8h-0.64zM229.22 293.4h0.64v3.3h-0.64zM229.22 300.0h0.64v13.1h-0.64zM229.22 322.9h0.64v3.3h-0.64zM234.34 244.4h0.64v3.3h-0.64zM234.34 250.9h0.64v9.8h-0.64zM234.34 293.4h0.64v13.1h-0.64zM234.34 326.1h0.64v3.3h-0.64zM234.34 352.3h0.64v3.3h-0.64zM234.98 244.4h0.64v9.8h-0.64zM234.98 290.2h0.64v9.8h-0.64zM234.98 309.8h0.64v3.3h-0.64zM234.98 322.9h0.64v6.5h-0.64zM234.98 352.3h0.64v3.3h-0.64zM239.49 264.0h0.64v6.5h-0.64zM239.49 273.8h0.64v3.3h-0.64zM245.90 267.3h0.64v3.3h-0.64zM245.90 273.8h0.64v3.3h-0.64zM247.19 264.0h0.64v13.1h-0.64zM247.83 244.4h0.64v16.4h-0.64zM247.83 293.4h0.64v3.3h-0.64zM247.83 300.0h0.64v6.5h-0.64zM247.83 309.8h0.64v3.3h-0.64zM247.83 322.9h0.64v3.3h-0.64zM249.12 260.8h0.64v3.3h-0.64zM249.12 273.8h0.64v3.3h-0.64zM251.70 260.8h0.64v6.5h-0.64zM251.70 270.6h0.64v6.5h-0.64zM252.34 260.8h0.64v9.8h-0.64zM252.34 273.8h0.64v3.3h-0.64zM252.99 244.4h0.64v3.3h-0.64zM252.99 257.5h0.64v3.3h-0.64zM252.99 293.4h0.64v9.8h-0.64zM252.99 309.8h0.64v3.3h-0.64zM254.28 260.8h0.64v13.1h-0.64zM254.92 260.8h0.64v3.3h-0.64zM254.92 267.3h0.64v3.3h-0.64zM254.92 273.8h0.64v3.3h-0.64zM258.75 260.8h0.64v13.1h-0.64zM259.39 244.4h0.64v13.1h-0.64zM259.39 286.9h0.64v6.5h-0.64zM259.39 322.9h0.64v3.3h-0.64zM261.33 264.0h0.64v9.8h-0.64zM263.91 260.8h0.64v9.8h-0.64zM265.19 260.8h0.64v3.3h-0.64zM265.19 270.6h0.64v3.3h-0.64zM267.13 264.0h0.64v3.3h-0.64zM267.13 273.8h0.64v3.3h-0.64zM267.77 260.8h0.64v6.5h-0.64zM267.77 270.6h0.64v6.5h-0.64zM268.42 260.8h0.64v3.3h-0.64zM268.42 267.3h0.64v9.8h-0.64zM269.06 260.8h0.64v3.3h-0.64zM269.06 270.6h0.64v3.3h-0.64zM269.71 260.8h0.64v3.3h-0.64zM269.71 273.8h0.64v3.3h-0.64zM271.60 267.3h0.64v3.3h-0.64zM271.60 273.8h0.64v3.3h-0.64zM272.24 270.6h0.64v6.5h-0.64zM272.89 260.8h0.64v6.5h-0.64zM272.89 273.8h0.64v3.3h-0.64zM276.11 264.0h0.64v9.8h-0.64zM276.76 264.0h0.64v9.8h-0.64zM277.40 260.8h0.64v3.3h-0.64zM277.40 267.3h0.64v6.5h-0.64zM278.69 247.7h0.64v9.8h-0.64zM278.69 286.9h0.64v16.4h-0.64zM278.69 309.8h0.64v3.3h-0.64zM278.69 322.9h0.64v6.5h-0.64zM278.69 352.3h0.64v3.3h-0.64zM281.91 260.8h0.64v16.4h-0.64zM282.56 264.0h0.64v6.5h-0.64zM282.56 273.8h0.64v3.3h-0.64zM287.67 244.4h0.64v3.3h-0.64zM287.67 250.9h0.64v3.3h-0.64zM287.67 290.2h0.64v3.3h-0.64zM287.67 300.0h0.64v3.3h-0.64zM287.67 322.9h0.64v3.3h-0.64zM287.67 352.3h0.64v3.3h-0.64zM288.32 260.8h0.64v6.5h-0.64zM290.25 260.8h0.64v16.4h-0.64zM292.18 264.0h0.64v3.3h-0.64zM292.18 273.8h0.64v3.3h-0.64zM293.47 244.4h0.64v6.5h-0.64zM293.47 257.5h0.64v3.3h-0.64zM293.47 303.3h0.64v3.3h-0.64zM293.47 309.8h0.64v3.3h-0.64zM293.47 322.9h0.64v3.3h-0.64zM293.47 352.3h0.64v3.3h-0.64zM294.12 264.0h0.64v3.3h-0.64zM294.76 260.8h0.64v9.8h-0.64zM294.76 273.8h0.64v3.3h-0.64zM295.41 260.8h0.64v6.5h-0.64zM295.41 270.6h0.64v6.5h-0.64zM297.30 260.8h0.64v3.3h-0.64zM298.59 264.0h0.64v13.1h-0.64zM299.23 260.8h0.64v6.5h-0.64zM301.17 267.3h0.64v3.3h-0.64zM301.17 273.8h0.64v3.3h-0.64zM305.68 260.8h0.64v16.4h-0.64zM306.97 260.8h0.64v3.3h-0.64zM306.97 267.3h0.64v9.8h-0.64zM308.26 293.4h0.64v3.3h-0.64zM308.26 300.0h0.64v3.3h-0.64zM308.26 309.8h0.64v3.3h-0.64zM308.26 322.9h0.64v6.5h-0.64zM311.44 257.5h0.64v3.3h-0.64zM311.44 286.9h0.64v16.4h-0.64zM311.44 306.5h0.64v3.3h-0.64zM311.44 322.9h0.64v3.3h-0.64zM311.44 352.3h0.64v3.3h-0.64zM313.37 244.4h0.64v6.5h-0.64zM313.37 257.5h0.64v3.3h-0.64zM313.37 286.9h0.64v19.6h-0.64zM313.37 309.8h0.64v3.3h-0.64zM313.37 326.1h0.64v3.3h-0.64zM314.02 260.8h0.64v16.4h-0.64zM314.66 250.9h0.64v9.8h-0.64zM314.66 286.9h0.64v9.8h-0.64zM314.66 300.0h0.64v3.3h-0.64zM314.66 306.5h0.64v3.3h-0.64zM314.66 322.9h0.64v3.3h-0.64zM315.31 260.8h0.64v6.5h-0.64zM315.31 270.6h0.64v6.5h-0.64zM317.88 244.4h0.64v9.8h-0.64zM317.88 286.9h0.64v3.3h-0.64zM317.88 293.4h0.64v3.3h-0.64zM317.88 300.0h0.64v3.3h-0.64zM317.88 306.5h0.64v3.3h-0.64zM317.88 322.9h0.64v6.5h-0.64zM317.88 352.3h0.64v3.3h-0.64zM319.17 260.8h0.64v3.3h-0.64zM319.17 270.6h0.64v6.5h-0.64zM321.11 267.3h0.64v3.3h-0.64zM323.64 260.8h0.64v3.3h-0.64zM323.64 267.3h0.64v9.8h-0.64zM324.29 260.8h0.64v3.3h-0.64zM324.29 270.6h0.64v6.5h-0.64zM324.93 244.4h0.64v16.4h-0.64zM324.93 286.9h0.64v13.1h-0.64zM324.93 303.3h0.64v6.5h-0.64zM324.93 322.9h0.64v6.5h-0.64zM324.93 352.3h0.64v3.3h-0.64zM325.58 244.4h0.64v3.3h-0.64zM325.58 257.5h0.64v3.3h-0.64zM325.58 286.9h0.64v6.5h-0.64zM325.58 300.0h0.64v13.1h-0.64zM325.58 322.9h0.64v6.5h-0.64zM326.87 260.8h0.64v9.8h-0.64zM326.87 273.8h0.64v3.3h-0.64zM328.80 244.4h0.64v3.3h-0.64zM328.80 254.2h0.64v3.3h-0.64zM328.80 286.9h0.64v6.5h-0.64zM328.80 296.7h0.64v16.4h-0.64zM328.80 322.9h0.64v6.5h-0.64zM328.80 352.3h0.64v3.3h-0.64zM330.09 244.4h0.64v16.4h-0.64zM330.09 286.9h0.64v3.3h-0.64zM330.09 296.7h0.64v16.4h-0.64zM330.09 326.1h0.64v3.3h-0.64zM330.09 352.3h0.64v3.3h-0.64zM332.67 260.8h0.64v3.3h-0.64zM332.67 270.6h0.64v6.5h-0.64zM333.96 244.4h0.64v3.3h-0.64zM333.96 250.9h0.64v6.5h-0.64zM333.96 286.9h0.64v6.5h-0.64zM333.96 296.7h0.64v9.8h-0.64zM333.96 309.8h0.64v3.3h-0.64zM333.96 322.9h0.64v6.5h-0.64z" fill="#6f9acd"/>
<path d="M220.20 286.9h11.60v6.5h-11.60zM220.20 303.3h11.60v9.8h-11.60zM220.20 352.3h11.60v3.3h-11.60zM233.05 286.9h11.60v6.5h-11.60zM233.05 303.3h11.60v9.8h-11.60zM233.05 352.3h11.60v3.3h-11.60zM245.90 286.9h11.60v6.5h-11.60zM245.90 303.3h11.60v9.8h-11.60zM245.90 352.3h11.60v3.3h-11.60zM258.75 286.9h11.60v6.5h-11.60zM258.75 303.3h11.60v9.8h-11.60zM258.75 352.3h11.60v3.3h-11.60zM271.60 286.9h11.60v6.5h-11.60zM271.60 303.3h11.60v9.8h-11.60zM271.60 352.3h11.60v3.3h-11.60zM284.45 286.9h11.60v6.5h-11.60zM284.45 303.3h11.60v9.8h-11.60zM284.45 352.3h11.60v3.3h-11.60zM297.30 286.9h11.60v6.5h-11.60zM297.30 303.3h11.60v9.8h-11.60zM297.30 352.3h11.60v3.3h-11.60zM310.15 286.9h11.60v6.5h-11.60zM310.15 303.3h11.60v9.8h-11.60zM310.15 352.3h11.60v3.3h-11.60zM323.00 286.9h11.60v6.5h-11.60zM323.00 303.3h11.60v9.8h-11.60zM323.00 352.3h11.60v3.3h-11.60z" fill="#81abd6"/>
<path d="M220.20 293.4h11.60v9.8h-11.60zM233.05 293.4h11.60v9.8h-11.60zM245.90 293.4h11.60v9.8h-11.60zM258.75 293.4h11.60v9.8h-11.60zM271.60 293.4h11.60v9.8h-11.60zM284.45 293.4h11.60v9.8h-11.60zM297.30 293.4h11.60v9.8h-11.60zM310.15 293.4h11.60v9.8h-11.60zM323.00 293.4h11.60v9.8h-11.60z" fill="#8bb3da"/>
<path d="M220.20 313.1h11.60v9.8h-11.60zM233.05 313.1h11.60v9.8h-11.60zM245.90 313.1h11.60v9.8h-11.60zM258.75 313.1h11.60v9.8h-11.60zM271.60 313.1h11.60v9.8h-11.60zM284.45 313.1h11.60v9.8h-11.60zM297.30 313.1h11.60v9.8h-11.60zM310.15 313.1h11.60v9.8h-11.60zM323.00 313.1h11.60v9.8h-11.60z" fill="#99c1e1"/>
<path d="M220.20 329.4h11.60v9.8h-11.60zM220.20 345.8h11.60v6.5h-11.60zM220.20 355.6h11.60v6.5h-11.60zM233.05 329.4h11.60v9.8h-11.60zM233.05 345.8h11.60v6.5h-11.60zM233.05 355.6h11.60v6.5h-11.60zM245.90 329.4h11.60v9.8h-11.60zM245.90 345.8h11.60v6.5h-11.60zM245.90 355.6h11.60v6.5h-11.60zM258.75 329.4h11.60v9.8h-11.60zM258.75 345.8h11.60v6.5h-11.60zM258.75 355.6h11.60v6.5h-11.60zM271.60 329.4h11.60v9.8h-11.60zM271.60 345.8h11.60v6.5h-11.60zM271.60 355.6h11.60v6.5h-11.60zM284.45 329.4h11.60v9.8h-11.60zM284.45 345.8h11.60v6.5h-11.60zM284.45 355.6h11.60v6.5h-11.60zM297.30 329.4h11.60v9.8h-11.60zM297.30 345.8h11.60v6.5h-11.60zM297.30 355.6h11.60v6.5h-11.60zM310.15 329.4h11.60v9.8h-11.60zM310.15 345.8h11.60v6.5h-11.60zM310.15 355.6h11.60v6.5h-11.60zM323.00 329.4h11.60v9.8h-11.60zM323.00 345.8h11.60v6.5h-11.60zM323.00 355.6h11.60v6.5h-11.60zM220.20 290.2h0.64v6.5h-0.64zM220.20 303.3h0.64v9.8h-0.64zM220.20 352.3h0.64v3.3h-0.64zM220.84 290.2h0.64v3.3h-0.64zM220.84 296.7h0.64v3.3h-0.64zM220.84 303.3h0.64v3.3h-0.64zM220.84 309.8h0.64v3.3h-0.64zM222.13 286.9h0.64v19.6h-0.64zM222.13 352.3h0.64v3.3h-0.64zM222.13 365.4h0.64v3.3h-0.64zM222.78 388.3h0.64v3.3h-0.64zM223.42 267.3h0.64v3.3h-0.64zM224.71 286.9h0.64v6.5h-0.64zM224.71 303.3h0.64v3.3h-0.64zM224.71 322.9h0.64v6.5h-0.64zM224.71 342.5h0.64v3.3h-0.64zM224.71 352.3h0.64v3.3h-0.64zM224.71 368.7h0.64v3.3h-0.64zM227.29 244.4h0.64v13.1h-0.64zM227.29 277.1h0.64v9.8h-0.64zM227.29 290.2h0.64v3.3h-0.64zM227.29 303.3h0.64v6.5h-0.64zM227.29 326.1h0.64v3.3h-0.64zM227.29 339.2h0.64v6.5h-0.64zM228.58 286.9h0.64v9.8h-0.64zM228.58 300.0h0.64v13.1h-0.64zM228.58 342.5h0.64v3.3h-0.64zM228.58 352.3h0.64v3.3h-0.64zM229.22 375.2h0.64v6.5h-0.64zM229.22 385.0h0.64v6.5h-0.64zM229.87 264.0h0.64v3.3h-0.64zM231.16 362.1h0.64v3.3h-0.64zM233.69 244.4h0.64v6.5h-0.64zM233.69 254.2h0.64v6.5h-0.64zM233.69 280.4h0.64v6.5h-0.64zM233.69 290.2h0.64v3.3h-0.64zM233.69 303.3h0.64v3.3h-0.64zM233.69 322.9h0.64v6.5h-0.64zM233.69 339.2h0.64v6.5h-0.64zM233.69 352.3h0.64v3.3h-0.64zM234.34 375.2h0.64v6.5h-0.64zM234.34 385.0h0.64v6.5h-0.64zM234.98 378.5h0.64v3.3h-0.64zM234.98 385.0h0.64v6.5h-0.64zM237.56 286.9h0.64v3.3h-0.64zM237.56 293.4h0.64v9.8h-0.64zM237.56 352.3h0.64v3.3h-0.64zM238.85 244.4h0.64v3.3h-0.64zM238.85 250.9h0.64v9.8h-0.64zM238.85 277.1h0.64v3.3h-0.64zM238.85 283.6h0.64v9.8h-0.64zM238.85 303.3h0.64v9.8h-0.64zM238.85 322.9h0.64v6.5h-0.64zM238.85 339.2h0.64v6.5h-0.64zM238.85 352.3h0.64v3.3h-0.64zM239.49 247.7h0.64v6.5h-0.64zM239.49 257.5h0.64v3.3h-0.64zM239.49 277.1h0.64v3.3h-0.64zM239.49 283.6h0.64v6.5h-0.64zM239.49 306.5h0.64v3.3h-0.64zM239.49 342.5h0.64v3.3h-0.64zM241.43 290.2h0.64v9.8h-0.64zM241.43 303.3h0.64v3.3h-0.64zM242.07 280.4h0.64v3.3h-0.64zM244.01 290.2h0.64v6.5h-0.64zM244.01 303.3h0.64v3.3h-0.64zM244.01 309.8h0.64v3.3h-0.64zM244.01 352.3h0.64v3.3h-0.64zM245.90 244.4h0.64v9.8h-0.64zM245.90 257.5h0.64v3.3h-0.64zM245.90 306.5h0.64v6.5h-0.64zM245.90 322.9h0.64v6.5h-0.64zM245.90 339.2h0.64v3.3h-0.64zM245.90 352.3h0.64v3.3h-0.64zM246.54 290.2h0.64v3.3h-0.64zM247.19 247.7h0.64v3.3h-0.64zM247.19 254.2h0.64v3.3h-0.64zM247.19 290.2h0.64v3.3h-0.64zM247.19 303.3h0.64v6.5h-0.64zM247.19 322.9h0.64v6.5h-0.64zM247.19 339.2h0.64v6.5h-0.64zM247.19 352.3h0.64v3.3h-0.64zM247.83 286.9h0.64v3.3h-0.64zM247.83 375.2h0.64v6.5h-0.64zM247.83 385.0h0.64v6.5h-0.64zM249.12 293.4h0.64v6.5h-0.64zM249.12 303.3h0.64v3.3h-0.64zM249.12 309.8h0.64v3.3h-0.64zM250.41 286.9h0.64v3.3h-0.64zM251.70 286.9h0.64v3.3h-0.64zM251.70 293.4h0.64v9.8h-0.64zM251.70 309.8h0.64v3.3h-0.64zM251.70 352.3h0.64v3.3h-0.64zM252.34 247.7h0.64v6.5h-0.64zM252.34 322.9h0.64v3.3h-0.64zM252.34 342.5h0.64v3.3h-0.64zM252.34 352.3h0.64v3.3h-0.64zM252.99 283.6h0.64v3.3h-0.64zM252.99 290.2h0.64v3.3h-0.64zM252.99 378.5h0.64v3.3h-0.64zM252.99 385.0h0.64v3.3h-0.64zM254.28 244.4h0.64v9.8h-0.64zM254.28 277.1h0.64v16.4h-0.64zM254.28 303.3h0.64v3.3h-0.64zM254.28 309.8h0.64v3.3h-0.64zM254.28 322.9h0.64v3.3h-0.64zM254.28 339.2h0.64v6.5h-0.64zM254.92 296.7h0.64v3.3h-0.64zM254.92 306.5h0.64v6.5h-0.64zM254.92 352.3h0.64v3.3h-0.64zM256.21 283.6h0.64v3.3h-0.64zM256.86 286.9h0.64v3.3h-0.64zM258.75 286.9h0.64v3.3h-0.64zM258.75 352.3h0.64v3.3h-0.64zM259.39 375.2h0.64v3.3h-0.64zM259.39 385.0h0.64v3.3h-0.64zM260.04 273.8h0.64v3.3h-0.64zM263.91 286.9h0.64v6.5h-0.64zM263.91 352.3h0.64v3.3h-0.64zM265.19 244.4h0.64v3.3h-0.64zM265.19 254.2h0.64v6.5h-0.64zM265.19 290.2h0.64v3.3h-0.64zM265.19 322.9h0.64v3.3h-0.64zM265.19 339.2h0.64v6.5h-0.64zM265.19 352.3h0.64v3.3h-0.64zM266.48 273.8h0.64v3.3h-0.64zM267.13 244.4h0.64v9.8h-0.64zM267.13 257.5h0.64v3.3h-0.64zM267.13 277.1h0.64v16.4h-0.64zM267.13 339.2h0.64v3.3h-0.64zM267.77 286.9h0.64v3.3h-0.64zM269.06 247.7h0.64v6.5h-0.64zM269.06 257.5h0.64v3.3h-0.64zM269.06 273.8h0.64v6.5h-0.64zM269.06 283.6h0.64v6.5h-0.64zM269.06 322.9h0.64v6.5h-0.64zM269.06 339.2h0.64v6.5h-0.64zM269.06 352.3h0.64v3.3h-0.64zM269.71 286.9h0.64v6.5h-0.64zM271.60 286.9h0.64v9.8h-0.64zM271.60 303.3h0.64v6.5h-0.64zM272.24 244.4h0.64v9.8h-0.64zM272.24 257.5h0.64v3.3h-0.64zM272.24 277.1h0.64v6.5h-0.64zM272.24 286.9h0.64v3.3h-0.64zM272.24 303.3h0.64v9.8h-0.64zM272.24 326.1h0.64v3.3h-0.64zM272.24 339.2h0.64v3.3h-0.64zM272.89 290.2h0.64v3.3h-0.64zM272.89 296.7h0.64v3.3h-0.64zM272.89 306.5h0.64v6.5h-0.64zM275.47 270.6h0.64v3.3h-0.64zM276.11 244.4h0.64v9.8h-0.64zM276.11 283.6h0.64v3.3h-0.64zM276.11 306.5h0.64v3.3h-0.64zM276.11 326.1h0.64v3.3h-0.64zM276.11 352.3h0.64v3.3h-0.64zM276.76 250.9h0.64v3.3h-0.64zM276.76 257.5h0.64v3.3h-0.64zM276.76 280.4h0.64v6.5h-0.64zM276.76 290.2h0.64v3.3h-0.64zM276.76 303.3h0.64v6.5h-0.64zM276.76 339.2h0.64v6.5h-0.64zM277.40 250.9h0.64v9.8h-0.64zM277.40 277.1h0.64v6.5h-0.64zM277.40 286.9h0.64v6.5h-0.64zM277.40 303.3h0.64v3.3h-0.64zM277.40 326.1h0.64v3.3h-0.64zM278.69 375.2h0.64v9.8h-0.64zM278.69 388.3h0.64v3.3h-0.64zM280.62 257.5h0.64v3.3h-0.64zM281.91 286.9h0.64v6.5h-0.64zM281.91 300.0h0.64v9.8h-0.64zM282.56 286.9h0.64v16.4h-0.64zM282.56 309.8h0.64v3.3h-0.64zM284.45 270.6h0.64v3.3h-0.64zM287.67 378.5h0.64v6.5h-0.64zM287.67 388.3h0.64v3.3h-0.64zM288.32 293.4h0.64v3.3h-0.64zM288.32 352.3h0.64v3.3h-0.64zM289.61 264.0h0.64v3.3h-0.64zM290.25 247.7h0.64v13.1h-0.64zM290.25 280.4h0.64v3.3h-0.64zM290.25 286.9h0.64v3.3h-0.64zM290.25 303.3h0.64v3.3h-0.64zM290.25 342.5h0.64v3.3h-0.64zM290.25 352.3h0.64v3.3h-0.64zM292.18 293.4h0.64v9.8h-0.64zM292.18 352.3h0.64v3.3h-0.64zM293.47 254.2h0.64v3.3h-0.64zM293.47 375.2h0.64v3.3h-0.64zM293.47 385.0h0.64v6.5h-0.64zM294.12 247.7h0.64v9.8h-0.64zM294.12 277.1h0.64v13.1h-0.64zM294.12 322.9h0.64v3.3h-0.64zM294.12 339.2h0.64v6.5h-0.64zM294.12 352.3h0.64v3.3h-0.64zM294.76 244.4h0.64v16.4h-0.64zM294.76 277.1h0.64v3.3h-0.64zM294.76 283.6h0.64v9.8h-0.64zM294.76 309.8h0.64v3.3h-0.64zM294.76 322.9h0.64v6.5h-0.64zM294.76 342.5h0.64v3.3h-0.64zM294.76 352.3h0.64v3.3h-0.64zM295.41 286.9h0.64v3.3h-0.64zM295.41 296.7h0.64v3.3h-0.64zM295.41 309.8h0.64v3.3h-0.64zM295.41 339.2h0.64v3.3h-0.64zM295.41 352.3h0.64v3.3h-0.64zM297.30 290.2h0.64v3.3h-0.64zM297.30 300.0h0.64v3.3h-0.64zM297.30 306.5h0.64v3.3h-0.64zM297.94 273.8h0.64v3.3h-0.64zM298.59 290.2h0.64v13.1h-0.64zM298.59 306.5h0.64v3.3h-0.64zM299.23 247.7h0.64v6.5h-0.64zM299.23 257.5h0.64v3.3h-0.64zM299.23 277.1h0.64v3.3h-0.64zM299.23 290.2h0.64v3.3h-0.64zM299.23 303.3h0.64v6.5h-0.64zM299.23 339.2h0.64v3.3h-0.64zM299.88 264.0h0.64v3.3h-0.64zM300.52 342.5h0.64v3.3h-0.64zM301.17 247.7h0.64v3.3h-0.64zM301.17 257.5h0.64v3.3h-0.64zM301.17 270.6h0.64v3.3h-0.64zM301.17 277.1h0.64v6.5h-0.64zM301.17 286.9h0.64v3.3h-0.64zM301.17 306.5h0.64v6.5h-0.64zM301.17 322.9h0.64v6.5h-0.64zM301.17 339.2h0.64v3.3h-0.64zM303.10 267.3h0.64v3.3h-0.64zM303.10 365.4h0.64v3.3h-0.64zM305.68 290.2h0.64v3.3h-0.64zM305.68 300.0h0.64v6.5h-0.64zM306.97 286.9h0.64v6.5h-0.64zM306.97 296.7h0.64v6.5h-0.64zM306.97 306.5h0.64v6.5h-0.64zM308.26 381.7h0.64v6.5h-0.64zM310.15 270.6h0.64v3.3h-0.64zM311.44 264.0h0.64v3.3h-0.64zM311.44 339.2h0.64v3.3h-0.64zM311.44 378.5h0.64v3.3h-0.64zM311.44 385.0h0.64v3.3h-0.64zM312.08 339.2h0.64v3.3h-0.64zM312.08 352.3h0.64v3.3h-0.64zM313.37 375.2h0.64v13.1h-0.64zM314.02 286.9h0.64v3.3h-0.64zM314.02 300.0h0.64v6.5h-0.64zM314.02 309.8h0.64v3.3h-0.64zM314.66 375.2h0.64v3.3h-0.64zM314.66 381.7h0.64v3.3h-0.64zM314.66 388.3h0.64v3.3h-0.64zM315.31 244.4h0.64v3.3h-0.64zM315.31 254.2h0.64v6.5h-0.64zM315.31 277.1h0.64v3.3h-0.64zM315.31 290.2h0.64v3.3h-0.64zM315.31 326.1h0.64v3.3h-0.64zM315.31 342.5h0.64v3.3h-0.64zM317.88 375.2h0.64v3.3h-0.64zM317.88 385.0h0.64v6.5h-0.64zM319.17 247.7h0.64v9.8h-0.64zM319.17 277.1h0.64v16.4h-0.64zM319.17 303.3h0.64v9.8h-0.64zM319.17 326.1h0.64v3.3h-0.64zM319.17 339.2h0.64v6.5h-0.64zM319.17 352.3h0.64v3.3h-0.64zM321.11 270.6h0.64v3.3h-0.64zM321.11 286.9h0.64v3.3h-0.64zM321.11 296.7h0.64v3.3h-0.64zM321.11 309.8h0.64v3.3h-0.64zM321.11 352.3h0.64v3.3h-0.64zM323.64 244.4h0.64v9.8h-0.64zM323.64 280.4h0.64v13.1h-0.64zM323.64 326.1h0.64v3.3h-0.64zM323.64 342.5h0.64v3.3h-0.64zM323.64 352.3h0.64v3.3h-0.64zM324.29 286.9h0.64v6.5h-0.64zM324.29 296.7h0.64v16.4h-0.64zM324.29 352.3h0.64v3.3h-0.64zM326.87 290.2h0.64v3.3h-0.64zM326.87 309.8h0.64v3.3h-0.64zM326.87 352.3h0.64v3.3h-0.64zM331.38 260.8h0.64v3.3h-0.64zM332.67 267.3h0.64v3.3h-0.64zM332.67 293.4h0.64v16.4h-0.64zM332.67 352.3h0.64v3.3h-0.64zM333.31 326.1h0.64v3.3h-0.64z" fill="#9dc4e3"/>
<path d="M220.20 362.1h11.60v9.8h-11.60zM233.05 362.1h11.60v9.8h-11.60zM245.90 362.1h11.60v9.8h-11.60zM258.75 362.1h11.60v9.8h-11.60zM271.60 362.1h11.60v9.8h-11.60zM284.45 362.1h11.60v9.8h-11.60zM297.30 362.1h11.60v9.8h-11.60zM310.15 362.1h11.60v9.8h-11.60zM323.00 362.1h11.60v9.8h-11.60z" fill="#6591c8"/>
<path d="M220.20 371.9h11.60v3.3h-11.60zM233.05 371.9h11.60v3.3h-11.60zM245.90 371.9h11.60v3.3h-11.60zM258.75 371.9h11.60v3.3h-11.60zM271.60 371.9h11.60v3.3h-11.60zM284.45 371.9h11.60v3.3h-11.60zM297.30 371.9h11.60v3.3h-11.60zM310.15 371.9h11.60v3.3h-11.60zM323.00 371.9h11.60v3.3h-11.60z" fill="#94bcdf"/>
<path d="M220.20 375.2h11.60v16.4h-11.60zM233.05 375.2h11.60v16.4h-11.60zM245.90 375.2h11.60v16.4h-11.60zM258.75 375.2h11.60v16.4h-11.60zM271.60 375.2h11.60v16.4h-11.60zM284.45 375.2h11.60v16.4h-11.60zM297.30 375.2h11.60v16.4h-11.60zM310.15 375.2h11.60v16.4h-11.60zM323.00 375.2h11.60v16.4h-11.60z" fill="#a9cde7"/>
<path d="M220.20 244.4h0.64v3.3h-0.64zM220.20 250.9h0.64v3.3h-0.64zM220.84 250.9h0.64v6.5h-0.64zM222.13 244.4h0.64v3.3h-0.64zM223.42 247.7h0.64v3.3h-0.64zM223.42 254.2h0.64v6.5h-0.64zM224.07 247.7h0.64v3.3h-0.64zM224.71 250.9h0.64v3.3h-0.64zM226.00 257.5h0.64v3.3h-0.64zM229.22 247.7h0.64v3.3h-0.64zM231.16 257.5h0.64v3.3h-0.64zM233.69 264.0h0.64v6.5h-0.64zM234.98 273.8h0.64v3.3h-0.64zM235.63 260.8h0.64v9.8h-0.64zM235.63 273.8h0.64v3.3h-0.64zM236.27 260.8h0.64v9.8h-0.64zM237.56 260.8h0.64v3.3h-0.64zM237.56 273.8h0.64v3.3h-0.64zM240.14 264.0h0.64v3.3h-0.64zM241.43 260.8h0.64v3.3h-0.64zM241.43 267.3h0.64v3.3h-0.64zM242.07 264.0h0.64v9.8h-0.64zM243.36 260.8h0.64v3.3h-0.64zM245.90 283.6h0.64v3.3h-0.64zM245.90 290.2h0.64v3.3h-0.64zM246.54 277.1h0.64v9.8h-0.64zM247.19 277.1h0.64v13.1h-0.64zM247.83 277.1h0.64v3.3h-0.64zM247.83 283.6h0.64v3.3h-0.64zM247.83 290.2h0.64v3.3h-0.64zM248.48 277.1h0.64v16.4h-0.64zM249.12 277.1h0.64v3.3h-0.64zM249.12 283.6h0.64v9.8h-0.64zM249.77 280.4h0.64v13.1h-0.64zM250.41 277.1h0.64v9.8h-0.64zM250.41 290.2h0.64v3.3h-0.64zM252.34 277.1h0.64v3.3h-0.64zM252.34 283.6h0.64v9.8h-0.64zM252.99 277.1h0.64v6.5h-0.64zM252.99 286.9h0.64v3.3h-0.64zM254.92 277.1h0.64v3.3h-0.64zM254.92 283.6h0.64v9.8h-0.64zM255.57 277.1h0.64v13.1h-0.64zM256.86 277.1h0.64v9.8h-0.64zM256.86 290.2h0.64v3.3h-0.64zM284.45 306.5h0.64v3.3h-0.64zM285.09 293.4h0.64v3.3h-0.64zM285.09 306.5h0.64v6.5h-0.64zM285.74 293.4h0.64v3.3h-0.64zM287.67 303.3h0.64v3.3h-0.64zM288.96 303.3h0.64v3.3h-0.64zM288.96 309.8h0.64v3.3h-0.64zM290.25 306.5h0.64v6.5h-0.64zM290.89 293.4h0.64v3.3h-0.64zM291.54 303.3h0.64v6.5h-0.64zM292.18 306.5h0.64v3.3h-0.64zM294.76 306.5h0.64v3.3h-0.64zM297.30 319.6h0.64v3.3h-0.64zM299.23 319.6h0.64v3.3h-0.64zM305.68 319.6h0.64v3.3h-0.64z" fill="#e84f36"/>
<path d="M220.20 247.7h0.64v3.3h-0.64zM220.20 254.2h0.64v3.3h-0.64zM223.42 244.4h0.64v3.3h-0.64zM224.07 250.9h0.64v6.5h-0.64zM224.71 247.7h0.64v3.3h-0.64zM224.71 257.5h0.64v3.3h-0.64zM225.36 247.7h0.64v6.5h-0.64zM226.00 254.2h0.64v3.3h-0.64zM226.64 247.7h0.64v3.3h-0.64zM226.64 254.2h0.64v3.3h-0.64zM227.93 244.4h0.64v6.5h-0.64zM227.93 254.2h0.64v3.3h-0.64zM229.22 250.9h0.64v6.5h-0.64zM229.87 257.5h0.64v3.3h-0.64zM230.51 250.9h0.64v3.3h-0.64zM231.16 244.4h0.64v3.3h-0.64zM231.16 254.2h0.64v3.3h-0.64zM233.69 260.8h0.64v3.3h-0.64zM233.69 270.6h0.64v6.5h-0.64zM234.34 264.0h0.64v13.1h-0.64zM234.98 260.8h0.64v9.8h-0.64zM236.27 270.6h0.64v6.5h-0.64zM237.56 264.0h0.64v3.3h-0.64zM238.85 267.3h0.64v3.3h-0.64zM238.85 273.8h0.64v3.3h-0.64zM240.14 260.8h0.64v3.3h-0.64zM240.14 267.3h0.64v3.3h-0.64zM240.14 273.8h0.64v3.3h-0.64zM241.43 264.0h0.64v3.3h-0.64zM241.43 270.6h0.64v6.5h-0.64zM242.72 264.0h0.64v3.3h-0.64zM243.36 270.6h0.64v3.3h-0.64zM244.01 267.3h0.64v3.3h-0.64z" fill="#fcf6bc"/>
<path d="M220.20 257.5h0.64v3.3h-0.64zM220.20 313.1h0.64v9.8h-0.64zM220.20 332.7h0.64v3.3h-0.64zM220.20 345.8h0.64v6.5h-0.64zM220.20 355.6h0.64v6.5h-0.64zM220.84 257.5h0.64v3.3h-0.64zM220.84 316.3h0.64v6.5h-0.64zM220.84 329.4h0.64v3.3h-0.64zM220.84 336.0h0.64v3.3h-0.64zM220.84 349.0h0.64v3.3h-0.64zM220.84 355.6h0.64v6.5h-0.64zM221.49 247.7h0.64v9.8h-0.64zM221.49 290.2h0.64v3.3h-0.64zM221.49 339.2h0.64v3.3h-0.64zM222.13 247.7h0.64v3.3h-0.64zM222.13 313.1h0.64v3.3h-0.64zM222.13 319.6h0.64v3.3h-0.64zM222.13 332.7h0.64v6.5h-0.64zM222.13 349.0h0.64v3.3h-0.64zM222.13 358.9h0.64v3.3h-0.64zM222.13 371.9h0.64v3.3h-0.64zM223.42 250.9h0.64v3.3h-0.64zM224.07 306.5h0.64v3.3h-0.64zM224.71 293.4h0.64v3.3h-0.64zM224.71 313.1h0.64v3.3h-0.64zM224.71 371.9h0.64v3.3h-0.64zM225.36 254.2h0.64v6.5h-0.64zM226.00 244.4h0.64v3.3h-0.64zM226.00 250.9h0.64v3.3h-0.64zM226.64 244.4h0.64v3.3h-0.64zM226.64 250.9h0.64v3.3h-0.64zM227.29 293.4h0.64v3.3h-0.64zM227.29 316.3h0.64v6.5h-0.64zM227.29 371.9h0.64v3.3h-0.64zM227.93 257.5h0.64v3.3h-0.64zM228.58 313.1h0.64v3.3h-0.64zM228.58 319.6h0.64v3.3h-0.64zM228.58 329.4h0.64v9.8h-0.64zM228.58 345.8h0.64v6.5h-0.64zM228.58 358.9h0.64v3.3h-0.64zM229.22 257.5h0.64v3.3h-0.64zM229.87 247.7h0.64v6.5h-0.64zM230.51 244.4h0.64v6.5h-0.64zM230.51 254.2h0.64v3.3h-0.64zM231.16 247.7h0.64v6.5h-0.64zM233.69 313.1h0.64v9.8h-0.64zM233.69 371.9h0.64v3.3h-0.64zM236.27 254.2h0.64v3.3h-0.64zM236.27 326.1h0.64v3.3h-0.64zM236.92 339.2h0.64v3.3h-0.64zM237.56 313.1h0.64v6.5h-0.64zM237.56 329.4h0.64v6.5h-0.64zM237.56 355.6h0.64v3.3h-0.64zM237.56 371.9h0.64v3.3h-0.64zM238.21 322.9h0.64v3.3h-0.64zM238.85 293.4h0.64v9.8h-0.64zM238.85 313.1h0.64v9.8h-0.64zM239.49 293.4h0.64v3.3h-0.64zM239.49 300.0h0.64v3.3h-0.64zM239.49 316.3h0.64v3.3h-0.64zM241.43 329.4h0.64v3.3h-0.64zM241.43 336.0h0.64v3.3h-0.64zM241.43 349.0h0.64v3.3h-0.64zM241.43 355.6h0.64v6.5h-0.64zM241.43 371.9h0.64v3.3h-0.64zM242.07 300.0h0.64v3.3h-0.64zM244.01 313.1h0.64v3.3h-0.64zM244.01 329.4h0.64v9.8h-0.64zM244.01 349.0h0.64v3.3h-0.64zM244.01 355.6h0.64v6.5h-0.64zM244.01 371.9h0.64v3.3h-0.64zM245.90 293.4h0.64v6.5h-0.64zM245.90 316.3h0.64v6.5h-0.64zM247.19 313.1h0.64v3.3h-0.64zM247.19 319.6h0.64v3.3h-0.64zM247.19 371.9h0.64v3.3h-0.64zM249.12 313.1h0.64v9.8h-0.64zM249.12 329.4h0.64v6.5h-0.64zM249.12 345.8h0.64v6.5h-0.64zM249.12 355.6h0.64v3.3h-0.64zM249.12 371.9h0.64v3.3h-0.64zM250.41 362.1h0.64v3.3h-0.64zM251.06 342.5h0.64v3.3h-0.64zM251.06 352.3h0.64v3.3h-0.64zM251.06 362.1h0.64v3.3h-0.64zM251.70 313.1h0.64v3.3h-0.64zM251.70 336.0h0.64v3.3h-0.64zM251.70 345.8h0.64v6.5h-0.64zM251.70 358.9h0.64v3.3h-0.64zM251.70 371.9h0.64v3.3h-0.64zM252.34 293.4h0.64v3.3h-0.64zM252.34 300.0h0.64v3.3h-0.64zM252.34 316.3h0.64v6.5h-0.64zM252.34 339.2h0.64v3.3h-0.64zM252.99 254.2h0.64v3.3h-0.64zM252.99 303.3h0.64v3.3h-0.64zM252.99 365.4h0.64v3.3h-0.64zM253.63 280.4h0.64v3.3h-0.64zM253.63 339.2h0.64v3.3h-0.64zM254.28 257.5h0.64v3.3h-0.64zM254.28 293.4h0.64v9.8h-0.64zM254.28 313.1h0.64v3.3h-0.64zM254.28 319.6h0.64v3.3h-0.64zM254.92 313.1h0.64v3.3h-0.64zM254.92 319.6h0.64v3.3h-0.64zM254.92 332.7h0.64v6.5h-0.64zM254.92 355.6h0.64v3.3h-0.64zM255.57 247.7h0.64v6.5h-0.64zM258.75 306.5h0.64v3.3h-0.64zM258.75 313.1h0.64v6.5h-0.64zM258.75 336.0h0.64v3.3h-0.64zM258.75 345.8h0.64v3.3h-0.64zM258.75 358.9h0.64v3.3h-0.64zM259.39 309.8h0.64v3.3h-0.64zM261.33 313.1h0.64v3.3h-0.64zM261.33 329.4h0.64v3.3h-0.64zM261.33 345.8h0.64v3.3h-0.64zM263.91 316.3h0.64v3.3h-0.64zM263.91 329.4h0.64v3.3h-0.64zM263.91 349.0h0.64v3.3h-0.64zM263.91 358.9h0.64v3.3h-0.64zM265.19 309.8h0.64v3.3h-0.64zM265.19 319.6h0.64v3.3h-0.64zM267.13 303.3h0.64v3.3h-0.64zM267.13 313.1h0.64v3.3h-0.64zM267.13 319.6h0.64v3.3h-0.64zM267.13 371.9h0.64v3.3h-0.64zM267.77 309.8h0.64v3.3h-0.64zM267.77 332.7h0.64v6.5h-0.64zM267.77 345.8h0.64v6.5h-0.64zM267.77 371.9h0.64v3.3h-0.64zM268.42 313.1h0.64v9.8h-0.64zM268.42 332.7h0.64v3.3h-0.64zM268.42 355.6h0.64v6.5h-0.64zM269.06 319.6h0.64v3.3h-0.64zM269.06 371.9h0.64v3.3h-0.64zM269.71 319.6h0.64v3.3h-0.64zM269.71 329.4h0.64v9.8h-0.64zM269.71 349.0h0.64v3.3h-0.64zM269.71 355.6h0.64v3.3h-0.64zM269.71 371.9h0.64v3.3h-0.64zM271.60 313.1h0.64v9.8h-0.64zM271.60 329.4h0.64v3.3h-0.64zM271.60 349.0h0.64v3.3h-0.64zM271.60 358.9h0.64v3.3h-0.64zM272.24 300.0h0.64v3.3h-0.64zM272.89 247.7h0.64v3.3h-0.64zM272.89 254.2h0.64v3.3h-0.64zM272.89 329.4h0.64v9.8h-0.64zM272.89 371.9h0.64v3.3h-0.64zM274.82 326.1h0.64v3.3h-0.64zM275.47 254.2h0.64v3.3h-0.64zM276.11 296.7h0.64v3.3h-0.64zM276.11 371.9h0.64v3.3h-0.64zM276.76 293.4h0.64v9.8h-0.64zM277.40 293.4h0.64v9.8h-0.64zM277.40 371.9h0.64v3.3h-0.64zM280.62 326.1h0.64v3.3h-0.64zM281.91 332.7h0.64v6.5h-0.64zM281.91 358.9h0.64v3.3h-0.64zM281.91 371.9h0.64v3.3h-0.64zM282.56 313.1h0.64v3.3h-0.64zM282.56 319.6h0.64v3.3h-0.64zM282.56 336.0h0.64v3.3h-0.64zM282.56 349.0h0.64v3.3h-0.64zM288.32 313.1h0.64v3.3h-0.64zM288.32 345.8h0.64v6.5h-0.64zM288.32 355.6h0.64v6.5h-0.64zM290.25 293.4h0.64v6.5h-0.64zM290.25 313.1h0.64v9.8h-0.64zM290.25 371.9h0.64v3.3h-0.64zM292.18 316.3h0.64v6.5h-0.64zM292.18 345.8h0.64v6.5h-0.64zM292.18 358.9h0.64v3.3h-0.64zM294.12 293.4h0.64v3.3h-0.64zM294.12 300.0h0.64v3.3h-0.64zM294.12 313.1h0.64v9.8h-0.64zM294.76 313.1h0.64v9.8h-0.64zM294.76 371.9h0.64v3.3h-0.64zM295.41 313.1h0.64v6.5h-0.64zM295.41 349.0h0.64v3.3h-0.64zM295.41 355.6h0.64v3.3h-0.64zM295.41 371.9h0.64v3.3h-0.64zM297.30 277.1h0.64v3.3h-0.64zM297.30 336.0h0.64v3.3h-0.64zM298.59 313.1h0.64v6.5h-0.64zM298.59 329.4h0.64v9.8h-0.64zM299.23 293.4h0.64v6.5h-0.64zM299.23 313.1h0.64v6.5h-0.64zM301.17 254.2h0.64v3.3h-0.64zM301.17 293.4h0.64v3.3h-0.64zM301.17 300.0h0.64v3.3h-0.64zM301.17 313.1h0.64v9.8h-0.64zM304.39 352.3h0.64v3.3h-0.64zM305.68 313.1h0.64v6.5h-0.64zM305.68 329.4h0.64v6.5h-0.64zM306.32 264.0h0.64v3.3h-0.64zM306.32 300.0h0.64v3.3h-0.64zM306.97 313.1h0.64v3.3h-0.64zM306.97 319.6h0.64v3.3h-0.64zM306.97 329.4h0.64v3.3h-0.64zM306.97 336.0h0.64v3.3h-0.64zM310.15 260.8h0.64v3.3h-0.64zM312.08 316.3h0.64v6.5h-0.64zM312.08 332.7h0.64v6.5h-0.64zM312.08 345.8h0.64v3.3h-0.64zM314.02 313.1h0.64v3.3h-0.64zM314.02 319.6h0.64v3.3h-0.64zM314.02 329.4h0.64v3.3h-0.64zM314.02 345.8h0.64v6.5h-0.64zM314.02 358.9h0.64v3.3h-0.64zM315.31 296.7h0.64v6.5h-0.64zM315.31 316.3h0.64v6.5h-0.64zM317.88 339.2h0.64v3.3h-0.64zM318.53 244.4h0.64v3.3h-0.64zM319.17 293.4h0.64v9.8h-0.64zM319.17 313.1h0.64v3.3h-0.64zM321.11 319.6h0.64v3.3h-0.64zM321.11 329.4h0.64v6.5h-0.64zM321.11 345.8h0.64v3.3h-0.64zM321.11 358.9h0.64v3.3h-0.64zM323.00 260.8h0.64v3.3h-0.64zM323.64 293.4h0.64v6.5h-0.64zM323.64 313.1h0.64v3.3h-0.64zM324.29 247.7h0.64v3.3h-0.64zM324.29 313.1h0.64v6.5h-0.64zM324.29 329.4h0.64v3.3h-0.64zM324.29 349.0h0.64v3.3h-0.64zM324.29 355.6h0.64v3.3h-0.64zM324.29 362.1h0.64v3.3h-0.64zM324.93 283.6h0.64v3.3h-0.64zM326.87 313.1h0.64v3.3h-0.64zM326.87 319.6h0.64v3.3h-0.64zM326.87 329.4h0.64v9.8h-0.64zM326.87 345.8h0.64v3.3h-0.64zM326.87 355.6h0.64v3.3h-0.64zM326.87 371.9h0.64v3.3h-0.64zM327.51 244.4h0.64v3.3h-0.64zM327.51 250.9h0.64v3.3h-0.64zM328.16 303.3h0.64v3.3h-0.64zM332.67 313.1h0.64v3.3h-0.64zM332.67 319.6h0.64v3.3h-0.64zM332.67 332.7h0.64v6.5h-0.64zM332.67 345.8h0.64v3.3h-0.64zM332.67 358.9h0.64v6.5h-0.64zM332.67 371.9h0.64v3.3h-0.64zM333.31 277.1h0.64v3.3h-0.64zM333.96 247.7h0.64v3.3h-0.64z" fill="#b0d2e9"/>
<path d="M220.20 277.1h0.64v6.5h-0.64zM220.20 326.1h0.64v3.3h-0.64zM220.20 339.2h0.64v6.5h-0.64zM220.20 368.7h0.64v3.3h-0.64zM220.84 277.1h0.64v9.8h-0.64zM220.84 322.9h0.64v6.5h-0.64zM220.84 342.5h0.64v3.3h-0.64zM220.84 365.4h0.64v3.3h-0.64zM222.13 280.4h0.64v6.5h-0.64zM222.13 339.2h0.64v3.3h-0.64zM222.13 362.1h0.64v3.3h-0.64zM222.78 264.0h0.64v3.3h-0.64zM222.78 313.1h0.64v6.5h-0.64zM222.78 332.7h0.64v3.3h-0.64zM222.78 349.0h0.64v3.3h-0.64zM222.78 371.9h0.64v3.3h-0.64zM224.71 362.1h0.64v6.5h-0.64zM227.29 362.1h0.64v3.3h-0.64zM227.29 368.7h0.64v3.3h-0.64zM228.58 244.4h0.64v6.5h-0.64zM228.58 254.2h0.64v6.5h-0.64zM228.58 280.4h0.64v3.3h-0.64zM228.58 322.9h0.64v3.3h-0.64zM228.58 339.2h0.64v3.3h-0.64zM228.58 362.1h0.64v9.8h-0.64zM229.22 313.1h0.64v3.3h-0.64zM229.22 319.6h0.64v3.3h-0.64zM229.22 332.7h0.64v3.3h-0.64zM229.22 345.8h0.64v6.5h-0.64zM229.22 355.6h0.64v6.5h-0.64zM229.22 371.9h0.64v3.3h-0.64zM233.69 365.4h0.64v3.3h-0.64zM234.34 316.3h0.64v6.5h-0.64zM234.34 329.4h0.64v6.5h-0.64zM234.34 345.8h0.64v3.3h-0.64zM234.34 371.9h0.64v3.3h-0.64zM234.98 313.1h0.64v3.3h-0.64zM234.98 329.4h0.64v9.8h-0.64zM234.98 345.8h0.64v6.5h-0.64zM234.98 355.6h0.64v3.3h-0.64zM234.98 371.9h0.64v3.3h-0.64zM237.56 250.9h0.64v6.5h-0.64zM237.56 277.1h0.64v3.3h-0.64zM237.56 322.9h0.64v3.3h-0.64zM237.56 339.2h0.64v3.3h-0.64zM237.56 362.1h0.64v9.8h-0.64zM238.85 365.4h0.64v3.3h-0.64zM239.49 362.1h0.64v3.3h-0.64zM241.43 244.4h0.64v13.1h-0.64zM241.43 277.1h0.64v6.5h-0.64zM241.43 322.9h0.64v6.5h-0.64zM241.43 339.2h0.64v6.5h-0.64zM241.43 365.4h0.64v6.5h-0.64zM244.01 244.4h0.64v3.3h-0.64zM244.01 257.5h0.64v3.3h-0.64zM244.01 277.1h0.64v9.8h-0.64zM244.01 342.5h0.64v3.3h-0.64zM245.90 362.1h0.64v6.5h-0.64zM247.19 362.1h0.64v9.8h-0.64zM247.83 313.1h0.64v9.8h-0.64zM247.83 329.4h0.64v9.8h-0.64zM247.83 345.8h0.64v6.5h-0.64zM247.83 358.9h0.64v3.3h-0.64zM249.12 254.2h0.64v6.5h-0.64zM249.12 322.9h0.64v6.5h-0.64zM249.12 339.2h0.64v6.5h-0.64zM249.12 362.1h0.64v3.3h-0.64zM249.77 260.8h0.64v3.3h-0.64zM251.70 247.7h0.64v3.3h-0.64zM251.70 254.2h0.64v6.5h-0.64zM251.70 322.9h0.64v6.5h-0.64zM251.70 365.4h0.64v6.5h-0.64zM252.34 362.1h0.64v9.8h-0.64zM252.99 319.6h0.64v3.3h-0.64zM252.99 332.7h0.64v3.3h-0.64zM252.99 345.8h0.64v6.5h-0.64zM252.99 355.6h0.64v3.3h-0.64zM254.28 365.4h0.64v3.3h-0.64zM254.92 244.4h0.64v6.5h-0.64zM254.92 254.2h0.64v6.5h-0.64zM254.92 322.9h0.64v6.5h-0.64zM254.92 342.5h0.64v3.3h-0.64zM254.92 365.4h0.64v3.3h-0.64zM258.75 244.4h0.64v9.8h-0.64zM258.75 257.5h0.64v3.3h-0.64zM258.75 277.1h0.64v3.3h-0.64zM258.75 326.1h0.64v3.3h-0.64zM258.75 339.2h0.64v3.3h-0.64zM258.75 362.1h0.64v3.3h-0.64zM258.75 368.7h0.64v3.3h-0.64zM259.39 313.1h0.64v9.8h-0.64zM259.39 345.8h0.64v6.5h-0.64zM259.39 355.6h0.64v3.3h-0.64zM259.39 371.9h0.64v3.3h-0.64zM261.33 250.9h0.64v9.8h-0.64zM261.33 277.1h0.64v6.5h-0.64zM261.33 326.1h0.64v3.3h-0.64zM261.33 365.4h0.64v6.5h-0.64zM263.91 244.4h0.64v9.8h-0.64zM263.91 277.1h0.64v9.8h-0.64zM263.91 339.2h0.64v6.5h-0.64zM263.91 362.1h0.64v9.8h-0.64zM265.19 362.1h0.64v6.5h-0.64zM267.13 362.1h0.64v3.3h-0.64zM267.13 368.7h0.64v3.3h-0.64zM267.77 247.7h0.64v6.5h-0.64zM267.77 257.5h0.64v3.3h-0.64zM267.77 277.1h0.64v9.8h-0.64zM267.77 322.9h0.64v6.5h-0.64zM267.77 339.2h0.64v6.5h-0.64zM267.77 362.1h0.64v3.3h-0.64zM268.42 244.4h0.64v9.8h-0.64zM268.42 257.5h0.64v3.3h-0.64zM268.42 277.1h0.64v6.5h-0.64zM268.42 322.9h0.64v6.5h-0.64zM268.42 342.5h0.64v3.3h-0.64zM268.42 362.1h0.64v9.8h-0.64zM269.06 362.1h0.64v9.8h-0.64zM269.71 257.5h0.64v3.3h-0.64zM269.71 277.1h0.64v3.3h-0.64zM269.71 283.6h0.64v3.3h-0.64zM269.71 322.9h0.64v6.5h-0.64zM269.71 365.4h0.64v6.5h-0.64zM271.60 244.4h0.64v9.8h-0.64zM271.60 257.5h0.64v6.5h-0.64zM271.60 280.4h0.64v6.5h-0.64zM271.60 326.1h0.64v3.3h-0.64zM271.60 362.1h0.64v3.3h-0.64zM272.24 368.7h0.64v3.3h-0.64zM272.89 250.9h0.64v3.3h-0.64zM272.89 283.6h0.64v3.3h-0.64zM272.89 362.1h0.64v6.5h-0.64zM276.11 365.4h0.64v6.5h-0.64zM276.76 362.1h0.64v3.3h-0.64zM276.76 368.7h0.64v3.3h-0.64zM277.40 362.1h0.64v3.3h-0.64zM277.40 368.7h0.64v3.3h-0.64zM278.04 264.0h0.64v3.3h-0.64zM278.69 313.1h0.64v6.5h-0.64zM278.69 329.4h0.64v6.5h-0.64zM278.69 345.8h0.64v3.3h-0.64zM278.69 358.9h0.64v3.3h-0.64zM280.62 273.8h0.64v3.3h-0.64zM281.91 247.7h0.64v3.3h-0.64zM281.91 254.2h0.64v6.5h-0.64zM281.91 280.4h0.64v3.3h-0.64zM281.91 326.1h0.64v3.3h-0.64zM281.91 342.5h0.64v3.3h-0.64zM281.91 362.1h0.64v3.3h-0.64zM281.91 368.7h0.64v3.3h-0.64zM282.56 244.4h0.64v16.4h-0.64zM282.56 277.1h0.64v6.5h-0.64zM282.56 322.9h0.64v6.5h-0.64zM282.56 339.2h0.64v3.3h-0.64zM282.56 362.1h0.64v6.5h-0.64zM287.67 313.1h0.64v3.3h-0.64zM287.67 319.6h0.64v3.3h-0.64zM287.67 345.8h0.64v6.5h-0.64zM287.67 355.6h0.64v3.3h-0.64zM287.67 371.9h0.64v3.3h-0.64zM288.32 250.9h0.64v3.3h-0.64zM288.32 257.5h0.64v3.3h-0.64zM288.32 277.1h0.64v6.5h-0.64zM288.32 322.9h0.64v3.3h-0.64zM288.32 342.5h0.64v3.3h-0.64zM288.32 368.7h0.64v3.3h-0.64zM290.25 365.4h0.64v6.5h-0.64zM292.18 244.4h0.64v16.4h-0.64zM292.18 280.4h0.64v3.3h-0.64zM292.18 342.5h0.64v3.3h-0.64zM292.18 362.1h0.64v3.3h-0.64zM293.47 313.1h0.64v3.3h-0.64zM293.47 319.6h0.64v3.3h-0.64zM293.47 349.0h0.64v3.3h-0.64zM293.47 355.6h0.64v3.3h-0.64zM294.12 362.1h0.64v6.5h-0.64zM294.76 365.4h0.64v6.5h-0.64zM295.41 244.4h0.64v6.5h-0.64zM295.41 277.1h0.64v6.5h-0.64zM295.41 322.9h0.64v3.3h-0.64zM295.41 342.5h0.64v3.3h-0.64zM295.41 362.1h0.64v9.8h-0.64zM297.30 244.4h0.64v3.3h-0.64zM297.30 250.9h0.64v9.8h-0.64zM297.30 280.4h0.64v3.3h-0.64zM297.30 322.9h0.64v6.5h-0.64zM297.30 339.2h0.64v3.3h-0.64zM297.30 362.1h0.64v9.8h-0.64zM298.59 244.4h0.64v9.8h-0.64zM298.59 257.5h0.64v6.5h-0.64zM298.59 280.4h0.64v6.5h-0.64zM298.59 322.9h0.64v6.5h-0.64zM298.59 339.2h0.64v3.3h-0.64zM298.59 362.1h0.64v3.3h-0.64zM298.59 368.7h0.64v3.3h-0.64zM299.23 362.1h0.64v3.3h-0.64zM301.17 362.1h0.64v3.3h-0.64zM301.17 368.7h0.64v3.3h-0.64zM305.68 244.4h0.64v3.3h-0.64zM305.68 250.9h0.64v9.8h-0.64zM305.68 277.1h0.64v9.8h-0.64zM305.68 326.1h0.64v3.3h-0.64zM305.68 362.1h0.64v9.8h-0.64zM306.32 270.6h0.64v3.3h-0.64zM306.97 244.4h0.64v3.3h-0.64zM306.97 254.2h0.64v6.5h-0.64zM306.97 277.1h0.64v3.3h-0.64zM306.97 283.6h0.64v3.3h-0.64zM306.97 322.9h0.64v3.3h-0.64zM306.97 339.2h0.64v3.3h-0.64zM306.97 362.1h0.64v3.3h-0.64zM308.26 316.3h0.64v3.3h-0.64zM308.26 329.4h0.64v9.8h-0.64zM308.26 371.9h0.64v3.3h-0.64zM311.44 316.3h0.64v6.5h-0.64zM311.44 336.0h0.64v3.3h-0.64zM311.44 345.8h0.64v6.5h-0.64zM312.08 322.9h0.64v6.5h-0.64zM312.08 342.5h0.64v3.3h-0.64zM313.37 313.1h0.64v3.3h-0.64zM313.37 329.4h0.64v9.8h-0.64zM313.37 349.0h0.64v3.3h-0.64zM313.37 355.6h0.64v6.5h-0.64zM314.02 244.4h0.64v3.3h-0.64zM314.02 250.9h0.64v3.3h-0.64zM314.02 257.5h0.64v3.3h-0.64zM314.02 277.1h0.64v9.8h-0.64zM314.02 322.9h0.64v6.5h-0.64zM314.02 342.5h0.64v3.3h-0.64zM314.66 313.1h0.64v3.3h-0.64zM314.66 319.6h0.64v3.3h-0.64zM314.66 329.4h0.64v9.8h-0.64zM314.66 349.0h0.64v3.3h-0.64zM314.66 358.9h0.64v3.3h-0.64zM317.88 316.3h0.64v3.3h-0.64zM317.88 329.4h0.64v9.8h-0.64zM317.88 345.8h0.64v6.5h-0.64zM321.11 254.2h0.64v6.5h-0.64zM321.11 277.1h0.64v6.5h-0.64zM321.11 322.9h0.64v6.5h-0.64zM321.11 342.5h0.64v3.3h-0.64zM321.11 368.7h0.64v3.3h-0.64zM323.64 362.1h0.64v9.8h-0.64zM324.29 244.4h0.64v3.3h-0.64zM324.29 250.9h0.64v3.3h-0.64zM324.29 280.4h0.64v3.3h-0.64zM324.29 326.1h0.64v3.3h-0.64zM324.29 339.2h0.64v3.3h-0.64zM324.29 365.4h0.64v3.3h-0.64zM324.93 319.6h0.64v3.3h-0.64zM324.93 332.7h0.64v6.5h-0.64zM324.93 345.8h0.64v6.5h-0.64zM324.93 355.6h0.64v6.5h-0.64zM324.93 371.9h0.64v3.3h-0.64zM325.58 336.0h0.64v3.3h-0.64zM325.58 345.8h0.64v6.5h-0.64zM326.87 244.4h0.64v16.4h-0.64zM326.87 280.4h0.64v6.5h-0.64zM326.87 326.1h0.64v3.3h-0.64zM326.87 365.4h0.64v6.5h-0.64zM328.80 319.6h0.64v3.3h-0.64zM328.80 332.7h0.64v3.3h-0.64zM328.80 345.8h0.64v6.5h-0.64zM328.80 355.6h0.64v3.3h-0.64zM328.80 371.9h0.64v3.3h-0.64zM330.09 313.1h0.64v3.3h-0.64zM330.09 319.6h0.64v3.3h-0.64zM330.09 332.7h0.64v6.5h-0.64zM330.09 345.8h0.64v6.5h-0.64zM330.09 358.9h0.64v3.3h-0.64zM330.09 371.9h0.64v3.3h-0.64zM332.67 244.4h0.64v9.8h-0.64zM332.67 257.5h0.64v3.3h-0.64zM332.67 277.1h0.64v3.3h-0.64zM332.67 322.9h0.64v6.5h-0.64zM332.67 368.7h0.64v3.3h-0.64zM333.96 313.1h0.64v3.3h-0.64zM333.96 319.6h0.64v3.3h-0.64zM333.96 336.0h0.64v3.3h-0.64zM333.96 371.9h0.64v3.3h-0.64z" fill="#86afd8"/>
<path d="M220.20 375.2h0.64v6.5h-0.64zM220.20 385.0h0.64v6.5h-0.64zM220.84 375.2h0.64v6.5h-0.64zM221.49 365.4h0.64v3.3h-0.64zM222.13 375.2h0.64v3.3h-0.64zM222.13 381.7h0.64v6.5h-0.64zM222.78 254.2h0.64v3.3h-0.64zM224.71 329.4h0.64v9.8h-0.64zM224.71 349.0h0.64v3.3h-0.64zM224.71 355.6h0.64v6.5h-0.64zM224.71 375.2h0.64v6.5h-0.64zM224.71 385.0h0.64v3.3h-0.64zM227.29 329.4h0.64v6.5h-0.64zM227.29 345.8h0.64v3.3h-0.64zM227.29 355.6h0.64v3.3h-0.64zM227.29 375.2h0.64v3.3h-0.64zM227.29 381.7h0.64v3.3h-0.64zM228.58 375.2h0.64v3.3h-0.64zM228.58 381.7h0.64v3.3h-0.64zM228.58 388.3h0.64v3.3h-0.64zM229.87 280.4h0.64v3.3h-0.64zM231.16 329.4h0.64v3.3h-0.64zM233.69 329.4h0.64v3.3h-0.64zM233.69 345.8h0.64v6.5h-0.64zM233.69 355.6h0.64v3.3h-0.64zM233.69 375.2h0.64v9.8h-0.64zM233.69 388.3h0.64v3.3h-0.64zM234.34 290.2h0.64v3.3h-0.64zM234.98 306.5h0.64v3.3h-0.64zM235.63 257.5h0.64v3.3h-0.64zM236.92 250.9h0.64v3.3h-0.64zM237.56 375.2h0.64v16.4h-0.64zM238.21 352.3h0.64v3.3h-0.64zM238.85 329.4h0.64v3.3h-0.64zM238.85 336.0h0.64v3.3h-0.64zM238.85 345.8h0.64v6.5h-0.64zM238.85 375.2h0.64v3.3h-0.64zM238.85 388.3h0.64v3.3h-0.64zM239.49 336.0h0.64v3.3h-0.64zM239.49 349.0h0.64v3.3h-0.64zM239.49 355.6h0.64v3.3h-0.64zM239.49 375.2h0.64v16.4h-0.64zM240.14 296.7h0.64v3.3h-0.64zM241.43 375.2h0.64v6.5h-0.64zM241.43 385.0h0.64v6.5h-0.64zM243.36 250.9h0.64v3.3h-0.64zM244.01 375.2h0.64v3.3h-0.64zM245.90 329.4h0.64v3.3h-0.64zM245.90 336.0h0.64v3.3h-0.64zM245.90 345.8h0.64v3.3h-0.64zM245.90 355.6h0.64v6.5h-0.64zM245.90 375.2h0.64v16.4h-0.64zM247.19 332.7h0.64v6.5h-0.64zM247.19 345.8h0.64v3.3h-0.64zM247.19 355.6h0.64v3.3h-0.64zM247.19 388.3h0.64v3.3h-0.64zM248.48 371.9h0.64v3.3h-0.64zM249.12 378.5h0.64v3.3h-0.64zM249.12 385.0h0.64v6.5h-0.64zM251.70 277.1h0.64v3.3h-0.64zM251.70 375.2h0.64v3.3h-0.64zM251.70 385.0h0.64v6.5h-0.64zM252.34 332.7h0.64v6.5h-0.64zM252.34 345.8h0.64v3.3h-0.64zM252.34 355.6h0.64v3.3h-0.64zM252.34 375.2h0.64v16.4h-0.64zM253.63 322.9h0.64v3.3h-0.64zM254.28 329.4h0.64v3.3h-0.64zM254.28 345.8h0.64v3.3h-0.64zM254.28 355.6h0.64v6.5h-0.64zM254.92 381.7h0.64v6.5h-0.64zM256.21 322.9h0.64v3.3h-0.64zM256.86 254.2h0.64v3.3h-0.64zM258.75 385.0h0.64v6.5h-0.64zM260.04 296.7h0.64v3.3h-0.64zM260.68 250.9h0.64v3.3h-0.64zM261.33 336.0h0.64v3.3h-0.64zM261.33 375.2h0.64v16.4h-0.64zM262.62 254.2h0.64v3.3h-0.64zM262.62 264.0h0.64v3.3h-0.64zM262.62 270.6h0.64v3.3h-0.64zM262.62 280.4h0.64v3.3h-0.64zM262.62 290.2h0.64v3.3h-0.64zM263.26 264.0h0.64v3.3h-0.64zM263.26 280.4h0.64v9.8h-0.64zM263.91 375.2h0.64v13.1h-0.64zM264.55 254.2h0.64v3.3h-0.64zM264.55 329.4h0.64v3.3h-0.64zM265.19 293.4h0.64v3.3h-0.64zM265.19 329.4h0.64v9.8h-0.64zM265.19 345.8h0.64v6.5h-0.64zM265.19 375.2h0.64v9.8h-0.64zM265.19 388.3h0.64v3.3h-0.64zM265.84 339.2h0.64v3.3h-0.64zM267.13 329.4h0.64v6.5h-0.64zM267.13 345.8h0.64v6.5h-0.64zM267.13 355.6h0.64v6.5h-0.64zM267.13 385.0h0.64v3.3h-0.64zM267.77 244.4h0.64v3.3h-0.64zM267.77 293.4h0.64v3.3h-0.64zM267.77 381.7h0.64v9.8h-0.64zM268.42 378.5h0.64v3.3h-0.64zM268.42 385.0h0.64v6.5h-0.64zM269.06 332.7h0.64v6.5h-0.64zM269.06 345.8h0.64v6.5h-0.64zM269.06 358.9h0.64v3.3h-0.64zM269.06 381.7h0.64v3.3h-0.64zM269.06 388.3h0.64v3.3h-0.64zM269.71 375.2h0.64v6.5h-0.64zM269.71 388.3h0.64v3.3h-0.64zM271.60 339.2h0.64v3.3h-0.64zM271.60 378.5h0.64v6.5h-0.64zM272.24 332.7h0.64v3.3h-0.64zM272.24 345.8h0.64v6.5h-0.64zM272.24 375.2h0.64v6.5h-0.64zM272.24 385.0h0.64v6.5h-0.64zM272.89 375.2h0.64v9.8h-0.64zM272.89 388.3h0.64v3.3h-0.64zM274.82 286.9h0.64v3.3h-0.64zM276.11 293.4h0.64v3.3h-0.64zM276.11 329.4h0.64v9.8h-0.64zM276.11 375.2h0.64v6.5h-0.64zM276.11 385.0h0.64v3.3h-0.64zM276.76 332.7h0.64v6.5h-0.64zM276.76 349.0h0.64v3.3h-0.64zM276.76 355.6h0.64v6.5h-0.64zM276.76 375.2h0.64v16.4h-0.64zM277.40 332.7h0.64v3.3h-0.64zM277.40 385.0h0.64v6.5h-0.64zM278.04 280.4h0.64v3.3h-0.64zM278.04 316.3h0.64v3.3h-0.64zM278.69 371.9h0.64v3.3h-0.64zM279.33 326.1h0.64v3.3h-0.64zM280.62 247.7h0.64v3.3h-0.64zM281.91 313.1h0.64v3.3h-0.64zM281.91 378.5h0.64v3.3h-0.64zM281.91 385.0h0.64v6.5h-0.64zM282.56 375.2h0.64v13.1h-0.64zM285.74 368.7h0.64v3.3h-0.64zM288.32 375.2h0.64v3.3h-0.64zM288.32 388.3h0.64v3.3h-0.64zM288.96 257.5h0.64v3.3h-0.64zM290.25 345.8h0.64v3.3h-0.64zM290.25 355.6h0.64v6.5h-0.64zM290.25 375.2h0.64v3.3h-0.64zM290.25 388.3h0.64v3.3h-0.64zM291.54 313.1h0.64v3.3h-0.64zM291.54 322.9h0.64v3.3h-0.64zM292.18 322.9h0.64v3.3h-0.64zM292.18 378.5h0.64v6.5h-0.64zM294.12 296.7h0.64v3.3h-0.64zM294.12 332.7h0.64v6.5h-0.64zM294.12 355.6h0.64v3.3h-0.64zM294.12 378.5h0.64v9.8h-0.64zM294.76 280.4h0.64v3.3h-0.64zM294.76 332.7h0.64v6.5h-0.64zM294.76 349.0h0.64v3.3h-0.64zM294.76 355.6h0.64v3.3h-0.64zM294.76 375.2h0.64v16.4h-0.64zM295.41 332.7h0.64v3.3h-0.64zM295.41 378.5h0.64v9.8h-0.64zM297.30 378.5h0.64v13.1h-0.64zM298.59 378.5h0.64v3.3h-0.64zM298.59 388.3h0.64v3.3h-0.64zM299.23 355.6h0.64v3.3h-0.64zM299.23 375.2h0.64v3.3h-0.64zM299.23 381.7h0.64v3.3h-0.64zM299.23 388.3h0.64v3.3h-0.64zM299.88 313.1h0.64v3.3h-0.64zM299.88 326.1h0.64v3.3h-0.64zM301.17 329.4h0.64v3.3h-0.64zM301.17 336.0h0.64v3.3h-0.64zM301.17 349.0h0.64v3.3h-0.64zM301.17 375.2h0.64v16.4h-0.64zM303.10 283.6h0.64v3.3h-0.64zM303.10 355.6h0.64v3.3h-0.64zM303.74 244.4h0.64v3.3h-0.64zM303.74 345.8h0.64v3.3h-0.64zM304.39 244.4h0.64v3.3h-0.64zM305.03 362.1h0.64v3.3h-0.64zM305.68 375.2h0.64v6.5h-0.64zM306.32 247.7h0.64v6.5h-0.64zM306.97 375.2h0.64v3.3h-0.64zM306.97 381.7h0.64v3.3h-0.64zM307.61 247.7h0.64v3.3h-0.64zM307.61 358.9h0.64v3.3h-0.64zM310.79 293.4h0.64v3.3h-0.64zM310.79 352.3h0.64v3.3h-0.64zM312.08 375.2h0.64v6.5h-0.64zM312.08 385.0h0.64v3.3h-0.64zM314.02 385.0h0.64v3.3h-0.64zM315.31 332.7h0.64v6.5h-0.64zM315.31 349.0h0.64v3.3h-0.64zM315.31 358.9h0.64v3.3h-0.64zM315.31 375.2h0.64v3.3h-0.64zM315.31 381.7h0.64v9.8h-0.64zM315.95 352.3h0.64v3.3h-0.64zM317.24 322.9h0.64v3.3h-0.64zM319.17 329.4h0.64v6.5h-0.64zM319.17 345.8h0.64v6.5h-0.64zM319.17 355.6h0.64v3.3h-0.64zM319.17 375.2h0.64v9.8h-0.64zM319.17 388.3h0.64v3.3h-0.64zM321.11 375.2h0.64v6.5h-0.64zM321.11 388.3h0.64v3.3h-0.64zM323.64 332.7h0.64v6.5h-0.64zM323.64 349.0h0.64v3.3h-0.64zM323.64 358.9h0.64v3.3h-0.64zM326.22 358.9h0.64v3.3h-0.64zM328.16 355.6h0.64v3.3h-0.64zM329.44 296.7h0.64v3.3h-0.64zM331.38 303.3h0.64v3.3h-0.64zM333.31 296.7h0.64v3.3h-0.64zM333.31 306.5h0.64v3.3h-0.64zM333.96 257.5h0.64v3.3h-0.64z" fill="#c3deed"/>
<path d="M220.84 244.4h0.64v6.5h-0.64zM221.49 244.4h0.64v3.3h-0.64zM221.49 257.5h0.64v3.3h-0.64zM222.13 250.9h0.64v9.8h-0.64zM224.07 244.4h0.64v3.3h-0.64zM224.07 257.5h0.64v3.3h-0.64zM224.71 244.4h0.64v3.3h-0.64zM224.71 254.2h0.64v3.3h-0.64zM225.36 244.4h0.64v3.3h-0.64zM226.00 247.7h0.64v3.3h-0.64zM226.64 257.5h0.64v3.3h-0.64zM227.93 250.9h0.64v3.3h-0.64zM229.22 244.4h0.64v3.3h-0.64zM229.87 244.4h0.64v3.3h-0.64zM229.87 254.2h0.64v3.3h-0.64zM230.51 257.5h0.64v3.3h-0.64zM233.05 345.8h0.64v6.5h-0.64zM233.05 358.9h0.64v3.3h-0.64zM234.34 260.8h0.64v3.3h-0.64zM234.98 270.6h0.64v3.3h-0.64zM235.63 270.6h0.64v3.3h-0.64zM237.56 267.3h0.64v6.5h-0.64zM238.85 260.8h0.64v6.5h-0.64zM240.14 270.6h0.64v3.3h-0.64zM242.07 273.8h0.64v3.3h-0.64zM242.72 260.8h0.64v3.3h-0.64zM242.72 267.3h0.64v9.8h-0.64zM243.36 264.0h0.64v6.5h-0.64zM243.36 273.8h0.64v3.3h-0.64zM244.01 264.0h0.64v3.3h-0.64zM244.01 270.6h0.64v6.5h-0.64zM245.90 277.1h0.64v6.5h-0.64zM245.90 286.9h0.64v3.3h-0.64zM246.54 286.9h0.64v3.3h-0.64zM247.83 280.4h0.64v3.3h-0.64zM249.12 280.4h0.64v3.3h-0.64zM249.77 277.1h0.64v3.3h-0.64zM252.34 280.4h0.64v3.3h-0.64zM254.92 280.4h0.64v3.3h-0.64zM255.57 290.2h0.64v3.3h-0.64zM272.89 345.8h0.64v3.3h-0.64zM274.82 355.6h0.64v3.3h-0.64zM276.11 339.2h0.64v3.3h-0.64zM277.40 355.6h0.64v6.5h-0.64zM278.04 355.6h0.64v3.3h-0.64zM279.98 355.6h0.64v3.3h-0.64zM312.08 244.4h0.64v6.5h-0.64zM312.08 290.2h0.64v6.5h-0.64zM312.08 313.1h0.64v3.3h-0.64zM317.24 260.8h0.64v6.5h-0.64zM317.24 270.6h0.64v3.3h-0.64zM317.24 286.9h0.64v6.5h-0.64zM317.24 306.5h0.64v3.3h-0.64zM317.24 313.1h0.64v3.3h-0.64zM325.58 293.4h0.64v3.3h-0.64zM327.51 293.4h0.64v3.3h-0.64zM328.16 329.4h0.64v3.3h-0.64zM329.44 329.4h0.64v3.3h-0.64zM330.73 329.4h0.64v3.3h-0.64zM332.02 293.4h0.64v3.3h-0.64z" fill="#fdc273"/>
<path d="M222.78 260.8h0.64v3.3h-0.64zM222.78 267.3h0.64v6.5h-0.64zM229.22 273.8h0.64v3.3h-0.64zM247.83 270.6h0.64v3.3h-0.64zM252.99 264.0h0.64v3.3h-0.64zM252.99 273.8h0.64v3.3h-0.64zM259.39 260.8h0.64v16.4h-0.64zM278.69 260.8h0.64v6.5h-0.64zM278.69 273.8h0.64v3.3h-0.64zM287.67 260.8h0.64v6.5h-0.64zM287.67 270.6h0.64v6.5h-0.64zM293.47 264.0h0.64v3.3h-0.64zM293.47 270.6h0.64v3.3h-0.64zM311.44 260.8h0.64v3.3h-0.64zM311.44 267.3h0.64v3.3h-0.64zM313.37 264.0h0.64v13.1h-0.64zM314.66 260.8h0.64v3.3h-0.64zM314.66 273.8h0.64v3.3h-0.64zM317.88 260.8h0.64v9.8h-0.64zM317.88 273.8h0.64v3.3h-0.64zM324.93 264.0h0.64v6.5h-0.64zM325.58 260.8h0.64v13.1h-0.64zM328.80 260.8h0.64v16.4h-0.64zM330.09 260.8h0.64v6.5h-0.64zM330.09 270.6h0.64v3.3h-0.64zM333.96 260.8h0.64v6.5h-0.64zM333.96 270.6h0.64v3.3h-0.64z" fill="#3e6db2"/>
<path d="M222.78 277.1h0.64v6.5h-0.64zM222.78 339.2h0.64v6.5h-0.64zM229.22 277.1h0.64v6.5h-0.64zM229.22 339.2h0.64v6.5h-0.64zM229.22 362.1h0.64v6.5h-0.64zM234.34 283.6h0.64v3.3h-0.64zM234.34 339.2h0.64v6.5h-0.64zM234.34 365.4h0.64v6.5h-0.64zM234.98 277.1h0.64v9.8h-0.64zM234.98 339.2h0.64v6.5h-0.64zM234.98 365.4h0.64v6.5h-0.64zM247.83 342.5h0.64v3.3h-0.64zM247.83 365.4h0.64v6.5h-0.64zM252.99 339.2h0.64v6.5h-0.64zM252.99 368.7h0.64v3.3h-0.64zM259.39 277.1h0.64v3.3h-0.64zM259.39 283.6h0.64v3.3h-0.64zM259.39 362.1h0.64v9.8h-0.64zM278.69 277.1h0.64v3.3h-0.64zM278.69 283.6h0.64v3.3h-0.64zM278.69 339.2h0.64v6.5h-0.64zM278.69 365.4h0.64v6.5h-0.64zM287.67 277.1h0.64v3.3h-0.64zM287.67 342.5h0.64v3.3h-0.64zM287.67 362.1h0.64v3.3h-0.64zM293.47 277.1h0.64v3.3h-0.64zM293.47 368.7h0.64v3.3h-0.64zM308.26 277.1h0.64v6.5h-0.64zM308.26 339.2h0.64v3.3h-0.64zM308.26 362.1h0.64v3.3h-0.64zM308.26 368.7h0.64v3.3h-0.64zM311.44 283.6h0.64v3.3h-0.64zM313.37 277.1h0.64v9.8h-0.64zM313.37 339.2h0.64v3.3h-0.64zM314.66 277.1h0.64v9.8h-0.64zM314.66 342.5h0.64v3.3h-0.64zM317.88 277.1h0.64v9.8h-0.64zM324.93 277.1h0.64v6.5h-0.64zM324.93 339.2h0.64v3.3h-0.64zM324.93 362.1h0.64v9.8h-0.64zM325.58 277.1h0.64v9.8h-0.64zM325.58 342.5h0.64v3.3h-0.64zM328.80 277.1h0.64v9.8h-0.64zM328.80 339.2h0.64v6.5h-0.64zM328.80 368.7h0.64v3.3h-0.64zM330.09 280.4h0.64v6.5h-0.64zM330.09 339.2h0.64v3.3h-0.64zM330.09 362.1h0.64v6.5h-0.64zM333.96 280.4h0.64v6.5h-0.64zM333.96 362.1h0.64v3.3h-0.64z" fill="#5684c0"/>
<path d="M223.42 371.9h0.64v3.3h-0.64zM226.00 352.3h0.64v3.3h-0.64zM227.93 319.6h0.64v3.3h-0.64zM236.27 358.9h0.64v3.3h-0.64zM238.21 345.8h0.64v3.3h-0.64zM241.43 306.5h0.64v3.3h-0.64zM242.07 316.3h0.64v3.3h-0.64zM242.72 381.7h0.64v3.3h-0.64zM246.54 336.0h0.64v3.3h-0.64zM251.06 290.2h0.64v3.3h-0.64zM251.06 303.3h0.64v3.3h-0.64zM255.57 316.3h0.64v3.3h-0.64zM258.75 371.9h0.64v3.3h-0.64zM260.04 286.9h0.64v3.3h-0.64zM260.68 371.9h0.64v3.3h-0.64zM261.97 358.9h0.64v3.3h-0.64zM262.62 244.4h0.64v6.5h-0.64zM262.62 257.5h0.64v6.5h-0.64zM262.62 283.6h0.64v3.3h-0.64zM263.26 247.7h0.64v3.3h-0.64zM263.26 260.8h0.64v3.3h-0.64zM263.26 345.8h0.64v3.3h-0.64zM274.18 247.7h0.64v3.3h-0.64zM276.11 381.7h0.64v3.3h-0.64zM277.40 345.8h0.64v3.3h-0.64zM278.04 326.1h0.64v3.3h-0.64zM280.62 306.5h0.64v3.3h-0.64zM281.27 296.7h0.64v3.3h-0.64zM282.56 332.7h0.64v3.3h-0.64zM284.45 336.0h0.64v3.3h-0.64zM288.96 378.5h0.64v3.3h-0.64zM290.89 290.2h0.64v3.3h-0.64zM290.89 375.2h0.64v3.3h-0.64zM292.18 313.1h0.64v3.3h-0.64zM292.83 375.2h0.64v3.3h-0.64zM302.46 247.7h0.64v6.5h-0.64zM302.46 264.0h0.64v3.3h-0.64zM302.46 388.3h0.64v3.3h-0.64zM303.74 336.0h0.64v3.3h-0.64zM304.39 316.3h0.64v3.3h-0.64zM308.26 254.2h0.64v3.3h-0.64zM308.26 260.8h0.64v6.5h-0.64zM312.73 303.3h0.64v3.3h-0.64zM318.53 306.5h0.64v3.3h-0.64zM318.53 345.8h0.64v3.3h-0.64zM319.17 316.3h0.64v3.3h-0.64zM320.46 293.4h0.64v3.3h-0.64zM323.00 381.7h0.64v3.3h-0.64zM323.00 388.3h0.64v3.3h-0.64zM324.29 375.2h0.64v3.3h-0.64zM325.58 378.5h0.64v3.3h-0.64zM326.22 355.6h0.64v3.3h-0.64zM326.87 385.0h0.64v3.3h-0.64zM330.09 355.6h0.64v3.3h-0.64zM330.73 358.9h0.64v3.3h-0.64zM331.38 296.7h0.64v3.3h-0.64zM331.38 375.2h0.64v3.3h-0.64zM331.38 385.0h0.64v3.3h-0.64zM332.02 378.5h0.64v3.3h-0.64zM332.67 349.0h0.64v3.3h-0.64zM333.31 349.0h0.64v3.3h-0.64z" fill="#d3e7f1"/>
<path d="M223.42 378.5h0.64v3.3h-0.64zM248.48 388.3h0.64v3.3h-0.64zM249.77 378.5h0.64v3.3h-0.64zM263.26 244.4h0.64v3.3h-0.64zM263.26 257.5h0.64v3.3h-0.64zM263.26 273.8h0.64v6.5h-0.64zM264.55 385.0h0.64v3.3h-0.64zM279.98 385.0h0.64v3.3h-0.64zM281.27 375.2h0.64v3.3h-0.64zM288.32 385.0h0.64v3.3h-0.64zM302.46 244.4h0.64v3.3h-0.64zM302.46 260.8h0.64v3.3h-0.64zM302.46 267.3h0.64v3.3h-0.64zM308.26 244.4h0.64v3.3h-0.64zM308.26 257.5h0.64v3.3h-0.64zM308.26 273.8h0.64v3.3h-0.64z" fill="#eaf2e6"/>
<path d="M225.36 322.9h0.64v6.5h-0.64zM233.05 352.3h0.64v3.3h-0.64zM233.05 365.4h0.64v3.3h-0.64zM259.39 293.4h0.64v3.3h-0.64zM261.97 309.8h0.64v3.3h-0.64zM262.62 300.0h0.64v3.3h-0.64zM265.19 296.7h0.64v3.3h-0.64zM265.19 306.5h0.64v3.3h-0.64zM272.24 322.9h0.64v3.3h-0.64zM272.24 355.6h0.64v3.3h-0.64zM272.89 316.3h0.64v3.3h-0.64zM272.89 339.2h0.64v3.3h-0.64zM272.89 349.0h0.64v6.5h-0.64zM272.89 358.9h0.64v3.3h-0.64zM274.82 342.5h0.64v6.5h-0.64zM274.82 352.3h0.64v3.3h-0.64zM276.11 345.8h0.64v3.3h-0.64zM276.76 319.6h0.64v3.3h-0.64zM277.40 339.2h0.64v3.3h-0.64zM278.04 319.6h0.64v3.3h-0.64zM278.04 345.8h0.64v3.3h-0.64zM278.04 358.9h0.64v3.3h-0.64zM279.98 349.0h0.64v6.5h-0.64zM281.91 355.6h0.64v3.3h-0.64zM282.56 355.6h0.64v3.3h-0.64zM288.32 326.1h0.64v3.3h-0.64zM289.61 329.4h0.64v3.3h-0.64zM291.54 336.0h0.64v3.3h-0.64zM298.59 342.5h0.64v3.3h-0.64zM301.17 352.3h0.64v3.3h-0.64zM301.81 345.8h0.64v3.3h-0.64zM301.81 358.9h0.64v3.3h-0.64zM302.46 355.6h0.64v3.3h-0.64zM303.74 349.0h0.64v3.3h-0.64zM305.68 342.5h0.64v3.3h-0.64zM305.68 355.6h0.64v3.3h-0.64zM306.97 352.3h0.64v3.3h-0.64zM307.61 352.3h0.64v3.3h-0.64zM311.44 368.7h0.64v3.3h-0.64zM312.08 250.9h0.64v6.5h-0.64zM312.08 260.8h0.64v3.3h-0.64zM312.08 273.8h0.64v13.1h-0.64zM312.08 300.0h0.64v3.3h-0.64zM314.66 362.1h0.64v3.3h-0.64zM315.31 371.9h0.64v3.3h-0.64zM316.59 368.7h0.64v3.3h-0.64zM317.24 244.4h0.64v3.3h-0.64zM317.24 309.8h0.64v3.3h-0.64zM317.88 368.7h0.64v3.3h-0.64zM318.53 371.9h0.64v3.3h-0.64zM324.93 378.5h0.64v3.3h-0.64zM324.93 388.3h0.64v3.3h-0.64zM326.22 329.4h0.64v3.3h-0.64zM326.87 293.4h0.64v3.3h-0.64zM328.16 378.5h0.64v3.3h-0.64zM329.44 375.2h0.64v3.3h-0.64zM330.73 293.4h0.64v3.3h-0.64zM332.02 329.4h0.64v3.3h-0.64z" fill="#faac67"/>
<path d="M225.36 378.5h0.64v3.3h-0.64zM230.51 375.2h0.64v3.3h-0.64zM238.85 270.6h0.64v3.3h-0.64zM240.78 388.3h0.64v3.3h-0.64zM242.07 260.8h0.64v3.3h-0.64zM243.36 381.7h0.64v3.3h-0.64zM244.01 260.8h0.64v3.3h-0.64zM244.01 345.8h0.64v3.3h-0.64zM251.70 355.6h0.64v3.3h-0.64zM255.57 388.3h0.64v3.3h-0.64zM262.62 250.9h0.64v3.3h-0.64zM262.62 267.3h0.64v3.3h-0.64zM262.62 273.8h0.64v6.5h-0.64zM262.62 286.9h0.64v3.3h-0.64zM263.26 254.2h0.64v3.3h-0.64zM263.26 267.3h0.64v6.5h-0.64zM265.84 336.0h0.64v3.3h-0.64zM265.84 375.2h0.64v3.3h-0.64zM274.18 319.6h0.64v3.3h-0.64zM274.18 388.3h0.64v3.3h-0.64zM281.27 378.5h0.64v3.3h-0.64zM284.45 332.7h0.64v3.3h-0.64zM286.38 358.9h0.64v3.3h-0.64zM288.96 358.9h0.64v3.3h-0.64zM302.46 254.2h0.64v3.3h-0.64zM302.46 270.6h0.64v3.3h-0.64zM306.32 336.0h0.64v3.3h-0.64zM308.26 267.3h0.64v6.5h-0.64zM310.79 355.6h0.64v3.3h-0.64zM324.29 332.7h0.64v3.3h-0.64zM330.73 316.3h0.64v3.3h-0.64zM330.73 355.6h0.64v3.3h-0.64z" fill="#e4f1f4"/>
<path d="M233.05 355.6h0.64v3.3h-0.64zM278.69 355.6h0.64v3.3h-0.64zM280.62 355.6h0.64v3.3h-0.64zM312.08 270.6h0.64v3.3h-0.64zM312.08 296.7h0.64v3.3h-0.64zM312.08 306.5h0.64v6.5h-0.64zM317.24 250.9h0.64v3.3h-0.64zM317.24 273.8h0.64v3.3h-0.64zM317.24 283.6h0.64v3.3h-0.64zM317.24 293.4h0.64v9.8h-0.64zM323.64 329.4h0.64v3.3h-0.64zM324.29 293.4h0.64v3.3h-0.64zM326.22 293.4h0.64v3.3h-0.64zM327.51 329.4h0.64v3.3h-0.64zM328.16 293.4h0.64v3.3h-0.64zM328.80 293.4h0.64v3.3h-0.64zM329.44 293.4h0.64v3.3h-0.64z" fill="#fdcf85"/>
<path d="M233.05 362.1h0.64v3.3h-0.64zM233.05 368.7h0.64v6.5h-0.64zM312.08 257.5h0.64v3.3h-0.64zM312.08 267.3h0.64v3.3h-0.64zM312.08 303.3h0.64v3.3h-0.64zM317.24 247.7h0.64v3.3h-0.64zM317.24 254.2h0.64v3.3h-0.64zM317.24 267.3h0.64v3.3h-0.64z" fill="#fcdc98"/>
<path d="M258.75 293.4h0.64v13.1h-0.64zM258.75 309.8h0.64v3.3h-0.64zM259.39 296.7h0.64v13.1h-0.64zM260.04 293.4h0.64v3.3h-0.64zM260.04 300.0h0.64v13.1h-0.64zM261.33 293.4h0.64v19.6h-0.64zM261.97 293.4h0.64v16.4h-0.64zM262.62 293.4h0.64v6.5h-0.64zM262.62 303.3h0.64v9.8h-0.64zM263.91 293.4h0.64v19.6h-0.64zM264.55 293.4h0.64v19.6h-0.64zM265.19 300.0h0.64v6.5h-0.64zM265.84 293.4h0.64v19.6h-0.64zM266.48 293.4h0.64v19.6h-0.64zM267.13 293.4h0.64v9.8h-0.64zM267.13 306.5h0.64v6.5h-0.64zM267.77 296.7h0.64v13.1h-0.64zM268.42 293.4h0.64v19.6h-0.64zM269.06 293.4h0.64v19.6h-0.64zM269.71 293.4h0.64v19.6h-0.64zM272.24 313.1h0.64v9.8h-0.64zM272.89 313.1h0.64v3.3h-0.64zM272.89 319.6h0.64v6.5h-0.64zM273.53 313.1h0.64v13.1h-0.64zM275.47 313.1h0.64v13.1h-0.64zM276.11 313.1h0.64v13.1h-0.64zM276.76 313.1h0.64v6.5h-0.64zM276.76 322.9h0.64v3.3h-0.64zM277.40 313.1h0.64v13.1h-0.64zM278.04 313.1h0.64v3.3h-0.64zM278.04 322.9h0.64v3.3h-0.64zM279.33 313.1h0.64v13.1h-0.64zM279.98 313.1h0.64v13.1h-0.64zM280.62 313.1h0.64v13.1h-0.64zM281.27 313.1h0.64v13.1h-0.64zM281.91 316.3h0.64v9.8h-0.64zM285.09 326.1h0.64v16.4h-0.64zM286.38 326.1h0.64v16.4h-0.64zM287.03 326.1h0.64v16.4h-0.64zM287.67 326.1h0.64v16.4h-0.64zM288.32 329.4h0.64v13.1h-0.64zM288.96 326.1h0.64v16.4h-0.64zM289.61 326.1h0.64v3.3h-0.64zM289.61 332.7h0.64v9.8h-0.64zM290.25 326.1h0.64v16.4h-0.64zM290.89 326.1h0.64v16.4h-0.64zM291.54 326.1h0.64v9.8h-0.64zM291.54 339.2h0.64v3.3h-0.64zM292.18 326.1h0.64v16.4h-0.64zM292.83 326.1h0.64v16.4h-0.64zM293.47 326.1h0.64v16.4h-0.64zM295.41 306.5h0.64v3.3h-0.64zM295.41 326.1h0.64v6.5h-0.64zM295.41 336.0h0.64v3.3h-0.64zM297.30 342.5h0.64v19.6h-0.64zM297.94 342.5h0.64v19.6h-0.64zM298.59 319.6h0.64v3.3h-0.64zM298.59 345.8h0.64v16.4h-0.64zM299.23 342.5h0.64v13.1h-0.64zM299.23 358.9h0.64v3.3h-0.64zM300.52 345.8h0.64v16.4h-0.64zM301.17 342.5h0.64v6.5h-0.64zM301.17 355.6h0.64v6.5h-0.64zM301.81 342.5h0.64v3.3h-0.64zM301.81 349.0h0.64v9.8h-0.64zM302.46 342.5h0.64v13.1h-0.64zM302.46 358.9h0.64v3.3h-0.64zM303.10 342.5h0.64v13.1h-0.64zM303.10 358.9h0.64v3.3h-0.64zM303.74 342.5h0.64v3.3h-0.64zM303.74 352.3h0.64v9.8h-0.64zM304.39 319.6h0.64v3.3h-0.64zM304.39 342.5h0.64v9.8h-0.64zM304.39 355.6h0.64v6.5h-0.64zM305.03 342.5h0.64v19.6h-0.64zM305.68 345.8h0.64v9.8h-0.64zM305.68 358.9h0.64v3.3h-0.64zM306.32 342.5h0.64v19.6h-0.64zM306.97 342.5h0.64v9.8h-0.64zM306.97 355.6h0.64v6.5h-0.64zM307.61 342.5h0.64v9.8h-0.64zM307.61 355.6h0.64v3.3h-0.64zM308.26 342.5h0.64v19.6h-0.64zM310.15 362.1h0.64v13.1h-0.64zM310.79 362.1h0.64v13.1h-0.64zM311.44 362.1h0.64v6.5h-0.64zM311.44 371.9h0.64v3.3h-0.64zM312.08 362.1h0.64v13.1h-0.64zM312.73 362.1h0.64v13.1h-0.64zM313.37 362.1h0.64v13.1h-0.64zM314.02 362.1h0.64v13.1h-0.64zM314.66 365.4h0.64v9.8h-0.64zM315.31 362.1h0.64v9.8h-0.64zM315.95 362.1h0.64v13.1h-0.64zM316.59 362.1h0.64v6.5h-0.64zM316.59 371.9h0.64v3.3h-0.64zM317.24 362.1h0.64v13.1h-0.64zM317.88 362.1h0.64v6.5h-0.64zM317.88 371.9h0.64v3.3h-0.64zM318.53 362.1h0.64v9.8h-0.64zM319.17 362.1h0.64v13.1h-0.64zM320.46 362.1h0.64v13.1h-0.64zM323.00 375.2h0.64v6.5h-0.64zM323.00 385.0h0.64v3.3h-0.64zM323.64 375.2h0.64v16.4h-0.64zM324.29 378.5h0.64v13.1h-0.64zM324.93 375.2h0.64v3.3h-0.64zM324.93 381.7h0.64v6.5h-0.64zM325.58 375.2h0.64v3.3h-0.64zM325.58 381.7h0.64v9.8h-0.64zM326.22 375.2h0.64v16.4h-0.64zM326.87 375.2h0.64v9.8h-0.64zM326.87 388.3h0.64v3.3h-0.64zM327.51 375.2h0.64v16.4h-0.64zM328.16 375.2h0.64v3.3h-0.64zM328.16 381.7h0.64v9.8h-0.64zM328.80 375.2h0.64v16.4h-0.64zM329.44 378.5h0.64v13.1h-0.64zM330.09 375.2h0.64v16.4h-0.64zM330.73 375.2h0.64v16.4h-0.64zM331.38 378.5h0.64v6.5h-0.64zM331.38 388.3h0.64v3.3h-0.64zM332.02 375.2h0.64v3.3h-0.64zM332.02 381.7h0.64v9.8h-0.64zM332.67 375.2h0.64v16.4h-0.64zM333.31 375.2h0.64v16.4h-0.64zM333.96 375.2h0.64v16.4h-0.64z" fill="#dd3328"/>
<path d="M272.89 342.5h0.64v3.3h-0.64zM294.12 303.3h0.64v3.3h-0.64z" fill="#f26b43"/>
<path d="M272.89 355.6h0.64v3.3h-0.64zM276.11 342.5h0.64v3.3h-0.64zM276.11 349.0h0.64v3.3h-0.64zM276.11 355.6h0.64v3.3h-0.64zM277.40 349.0h0.64v6.5h-0.64zM278.04 339.2h0.64v6.5h-0.64zM279.98 345.8h0.64v3.3h-0.64zM324.93 329.4h0.64v3.3h-0.64z" fill="#f5814f"/>
<path d="M274.82 339.2h0.64v3.3h-0.64zM274.82 349.0h0.64v3.3h-0.64zM276.11 358.9h0.64v3.3h-0.64zM277.40 342.5h0.64v3.3h-0.64zM278.04 349.0h0.64v6.5h-0.64zM279.98 339.2h0.64v6.5h-0.64zM279.98 358.9h0.64v3.3h-0.64zM323.00 293.4h0.64v3.3h-0.64zM325.58 329.4h0.64v3.3h-0.64zM330.09 329.4h0.64v3.3h-0.64zM331.38 329.4h0.64v3.3h-0.64zM333.31 329.4h0.64v3.3h-0.64zM333.96 293.4h0.64v3.3h-0.64zM333.96 329.4h0.64v3.3h-0.64z" fill="#f8965b"/>
<path d="M284.45 293.4h0.64v3.3h-0.64zM284.45 303.3h0.64v3.3h-0.64zM284.45 309.8h0.64v3.3h-0.64zM286.38 293.4h0.64v3.3h-0.64zM287.03 293.4h0.64v3.3h-0.64zM287.67 309.8h0.64v3.3h-0.64zM288.32 306.5h0.64v3.3h-0.64zM289.61 293.4h0.64v3.3h-0.64zM289.61 306.5h0.64v6.5h-0.64zM292.18 303.3h0.64v3.3h-0.64zM292.83 306.5h0.64v3.3h-0.64zM293.47 293.4h0.64v3.3h-0.64zM294.76 293.4h0.64v3.3h-0.64zM299.88 319.6h0.64v3.3h-0.64zM300.52 319.6h0.64v3.3h-0.64zM303.74 319.6h0.64v3.3h-0.64zM306.32 319.6h0.64v3.3h-0.64z" fill="#ed5d3c"/>
<path d="M285.09 303.3h0.64v3.3h-0.64zM287.67 293.4h0.64v3.3h-0.64zM287.67 306.5h0.64v3.3h-0.64zM288.32 303.3h0.64v3.3h-0.64zM288.32 309.8h0.64v3.3h-0.64zM288.96 306.5h0.64v3.3h-0.64zM289.61 303.3h0.64v3.3h-0.64zM290.89 309.8h0.64v3.3h-0.64zM291.54 293.4h0.64v3.3h-0.64zM292.18 309.8h0.64v3.3h-0.64zM292.83 293.4h0.64v3.3h-0.64zM292.83 309.8h0.64v3.3h-0.64zM294.12 306.5h0.64v3.3h-0.64zM294.76 303.3h0.64v3.3h-0.64zM295.41 293.4h0.64v3.3h-0.64zM295.41 303.3h0.64v3.3h-0.64zM297.94 319.6h0.64v3.3h-0.64zM301.81 319.6h0.64v3.3h-0.64zM303.10 319.6h0.64v3.3h-0.64zM307.61 319.6h0.64v3.3h-0.64zM308.26 319.6h0.64v3.3h-0.64z" fill="#e2412f"/>
<path d="M302.46 257.5h0.64v3.3h-0.64zM302.46 273.8h0.64v3.3h-0.64zM308.26 247.7h0.64v6.5h-0.64z" fill="#f0f4d8"/>
<rect x="231.80" y="240" width="1.25" height="153" fill="#fff"/>
<rect x="244.65" y="240" width="1.25" height="153" fill="#fff"/>
<rect x="257.50" y="240" width="1.25" height="153" fill="#fff"/>
<rect x="270.35" y="240" width="1.25" height="153" fill="#fff"/>
<rect x="283.20" y="240" width="1.25" height="153" fill="#fff"/>
<rect x="296.05" y="240" width="1.25" height="153" fill="#fff"/>
<rect x="308.90" y="240" width="1.25" height="153" fill="#fff"/>
<rect x="321.75" y="240" width="1.25" height="153" fill="#fff"/>
<rect x="220.20" y="241" width="11.6" height="2.8" fill="#F4A08C"/>
<rect x="233.05" y="241" width="11.6" height="2.8" fill="#E680D0"/>
<rect x="245.90" y="241" width="11.6" height="2.8" fill="#A9B53A"/>
<rect x="258.75" y="241" width="11.6" height="2.8" fill="#DE9BE8"/>
<rect x="271.60" y="241" width="11.6" height="2.8" fill="#7FB0EE"/>
<rect x="284.45" y="241" width="11.6" height="2.8" fill="#EFA322"/>
<rect x="297.30" y="241" width="11.6" height="2.8" fill="#3DBE64"/>
<rect x="310.15" y="241" width="11.6" height="2.8" fill="#3CC0EE"/>
<rect x="323.00" y="241" width="11.6" height="2.8" fill="#3EC8A8"/>
<text x="335.6" y="243.9" font-size="4.1" fill="#222" font-family="Liberation Sans, sans-serif">celltype</text>
<text transform="translate(335.6,247.40) scale(0.1)" font-size="40" style="stroke-width:1px" fill="#222" font-family="Liberation Sans, sans-serif">IGKC</text>
<text transform="translate(335.6,250.67) scale(0.1)" font-size="40" style="stroke-width:1px" fill="#222" font-family="Liberation Sans, sans-serif">IGLC2</text>
<text transform="translate(335.6,253.94) scale(0.1)" font-size="40" style="stroke-width:1px" fill="#222" font-family="Liberation Sans, sans-serif">IGLC3</text>
<text transform="translate(335.6,257.21) scale(0.1)" font-size="40" style="stroke-width:1px" fill="#222" font-family="Liberation Sans, sans-serif">IGHA1</text>
<text transform="translate(335.6,260.48) scale(0.1)" font-size="40" style="stroke-width:1px" fill="#222" font-family="Liberation Sans, sans-serif">MZB1</text>
<text transform="translate(335.6,263.75) scale(0.1)" font-size="40" style="stroke-width:1px" fill="#222" font-family="Liberation Sans, sans-serif">PIGR</text>
<text transform="translate(335.6,267.02) scale(0.1)" font-size="40" style="stroke-width:1px" fill="#222" font-family="Liberation Sans, sans-serif">KRT18</text>
<text transform="translate(335.6,270.29) scale(0.1)" font-size="40" style="stroke-width:1px" fill="#222" font-family="Liberation Sans, sans-serif">EPCAM</text>
<text transform="translate(335.6,273.56) scale(0.1)" font-size="40" style="stroke-width:1px" fill="#222" font-family="Liberation Sans, sans-serif">KRT19</text>
<text transform="translate(335.6,276.83) scale(0.1)" font-size="40" style="stroke-width:1px" fill="#222" font-family="Liberation Sans, sans-serif">KRT8</text>
<text transform="translate(335.6,280.10) scale(0.1)" font-size="40" style="stroke-width:1px" fill="#222" font-family="Liberation Sans, sans-serif">TRBC2</text>
<text transform="translate(335.6,283.37) scale(0.1)" font-size="40" style="stroke-width:1px" fill="#222" font-family="Liberation Sans, sans-serif">CCL5</text>
<text transform="translate(335.6,286.64) scale(0.1)" font-size="40" style="stroke-width:1px" fill="#222" font-family="Liberation Sans, sans-serif">CD3D</text>
<text transform="translate(335.6,289.91) scale(0.1)" font-size="40" style="stroke-width:1px" fill="#222" font-family="Liberation Sans, sans-serif">CD2</text>
<text transform="translate(335.6,293.18) scale(0.1)" font-size="40" style="stroke-width:1px" fill="#222" font-family="Liberation Sans, sans-serif">TRBC1</text>
<text transform="translate(335.6,296.45) scale(0.1)" font-size="40" style="stroke-width:1px" fill="#222" font-family="Liberation Sans, sans-serif">CD74</text>
<text transform="translate(335.6,299.72) scale(0.1)" font-size="40" style="stroke-width:1px" fill="#222" font-family="Liberation Sans, sans-serif">MS4A1</text>
<text transform="translate(335.6,302.99) scale(0.1)" font-size="40" style="stroke-width:1px" fill="#222" font-family="Liberation Sans, sans-serif">CD79A</text>
<text transform="translate(335.6,306.26) scale(0.1)" font-size="40" style="stroke-width:1px" fill="#222" font-family="Liberation Sans, sans-serif">HLA-DRA</text>
<text transform="translate(335.6,309.53) scale(0.1)" font-size="40" style="stroke-width:1px" fill="#222" font-family="Liberation Sans, sans-serif">HLA-DRB1</text>
<text transform="translate(335.6,312.80) scale(0.1)" font-size="40" style="stroke-width:1px" fill="#222" font-family="Liberation Sans, sans-serif">HLA-DPB1</text>
<text transform="translate(335.6,316.07) scale(0.1)" font-size="40" style="stroke-width:1px" fill="#222" font-family="Liberation Sans, sans-serif">VWF</text>
<text transform="translate(335.6,319.34) scale(0.1)" font-size="40" style="stroke-width:1px" fill="#222" font-family="Liberation Sans, sans-serif">CD34</text>
<text transform="translate(335.6,322.61) scale(0.1)" font-size="40" style="stroke-width:1px" fill="#222" font-family="Liberation Sans, sans-serif">SPARCL1</text>
<text transform="translate(335.6,325.88) scale(0.1)" font-size="40" style="stroke-width:1px" fill="#222" font-family="Liberation Sans, sans-serif">PECAM1</text>
<text transform="translate(335.6,329.15) scale(0.1)" font-size="40" style="stroke-width:1px" fill="#222" font-family="Liberation Sans, sans-serif">CCL3</text>
<text transform="translate(335.6,332.42) scale(0.1)" font-size="40" style="stroke-width:1px" fill="#222" font-family="Liberation Sans, sans-serif">C1QB</text>
<text transform="translate(335.6,335.69) scale(0.1)" font-size="40" style="stroke-width:1px" fill="#222" font-family="Liberation Sans, sans-serif">C1QA</text>
<text transform="translate(335.6,338.96) scale(0.1)" font-size="40" style="stroke-width:1px" fill="#222" font-family="Liberation Sans, sans-serif">CD68</text>
<text transform="translate(335.6,342.23) scale(0.1)" font-size="40" style="stroke-width:1px" fill="#222" font-family="Liberation Sans, sans-serif">LYZ</text>
<text transform="translate(335.6,345.50) scale(0.1)" font-size="40" style="stroke-width:1px" fill="#222" font-family="Liberation Sans, sans-serif">DCN</text>
<text transform="translate(335.6,348.77) scale(0.1)" font-size="40" style="stroke-width:1px" fill="#222" font-family="Liberation Sans, sans-serif">COL1A1</text>
<text transform="translate(335.6,352.04) scale(0.1)" font-size="40" style="stroke-width:1px" fill="#222" font-family="Liberation Sans, sans-serif">COL1A2</text>
<text transform="translate(335.6,355.31) scale(0.1)" font-size="40" style="stroke-width:1px" fill="#222" font-family="Liberation Sans, sans-serif">COL3A1</text>
<text transform="translate(335.6,358.58) scale(0.1)" font-size="40" style="stroke-width:1px" fill="#222" font-family="Liberation Sans, sans-serif">CALD1</text>
<text transform="translate(335.6,361.85) scale(0.1)" font-size="40" style="stroke-width:1px" fill="#222" font-family="Liberation Sans, sans-serif">TAGLN</text>
<text transform="translate(335.6,365.12) scale(0.1)" font-size="40" style="stroke-width:1px" fill="#222" font-family="Liberation Sans, sans-serif">HMGB2</text>
<text transform="translate(335.6,368.39) scale(0.1)" font-size="40" style="stroke-width:1px" fill="#222" font-family="Liberation Sans, sans-serif">STMN1</text>
<text transform="translate(335.6,371.66) scale(0.1)" font-size="40" style="stroke-width:1px" fill="#222" font-family="Liberation Sans, sans-serif">TOP2A</text>
<text transform="translate(335.6,374.93) scale(0.1)" font-size="40" style="stroke-width:1px" fill="#222" font-family="Liberation Sans, sans-serif">MKI67</text>
<text transform="translate(335.6,378.20) scale(0.1)" font-size="40" style="stroke-width:1px" fill="#222" font-family="Liberation Sans, sans-serif">CPA3</text>
<text transform="translate(335.6,381.47) scale(0.1)" font-size="40" style="stroke-width:1px" fill="#222" font-family="Liberation Sans, sans-serif">TPSAB1</text>
<text transform="translate(335.6,384.74) scale(0.1)" font-size="40" style="stroke-width:1px" fill="#222" font-family="Liberation Sans, sans-serif">GATA2</text>
<text transform="translate(335.6,388.01) scale(0.1)" font-size="40" style="stroke-width:1px" fill="#222" font-family="Liberation Sans, sans-serif">MS4A2</text>
<text transform="translate(335.6,391.28) scale(0.1)" font-size="40" style="stroke-width:1px" fill="#222" font-family="Liberation Sans, sans-serif">KIT</text>
<defs><linearGradient id="cb" x1="0" y1="1" x2="0" y2="0"><stop offset="0.000" stop-color="#3e6db2"/><stop offset="0.083" stop-color="#6f9acd"/><stop offset="0.167" stop-color="#9dc4e3"/><stop offset="0.233" stop-color="#bcdaec"/><stop offset="0.333" stop-color="#e4f1f4"/><stop offset="0.500" stop-color="#fcf6bc"/><stop offset="0.667" stop-color="#fdc273"/><stop offset="0.833" stop-color="#f26b43"/><stop offset="1.000" stop-color="#dd3328"/></linearGradient></defs>
<rect x="357.1" y="253.8" width="3.9" height="45.2" fill="url(#cb)"/>
<text x="362.8" y="256.4" font-size="3.9" fill="#222" font-family="Liberation Sans, sans-serif">2.5</text>
<text x="362.8" y="263.4" font-size="3.9" fill="#222" font-family="Liberation Sans, sans-serif">2</text>
<text x="362.8" y="270.5" font-size="3.9" fill="#222" font-family="Liberation Sans, sans-serif">1.5</text>
<text x="362.8" y="277.6" font-size="3.9" fill="#222" font-family="Liberation Sans, sans-serif">1</text>
<text x="362.8" y="284.6" font-size="3.9" fill="#222" font-family="Liberation Sans, sans-serif">0.5</text>
<text x="362.8" y="291.6" font-size="3.9" fill="#222" font-family="Liberation Sans, sans-serif">0</text>
<text x="362.8" y="298.7" font-size="3.9" fill="#222" font-family="Liberation Sans, sans-serif">−0.5</text>
<text x="356.8" y="319" font-size="4.0" font-weight="bold" fill="#222" font-family="Liberation Sans, sans-serif">celltype</text>
<rect x="356.8" y="320.30" width="3.8" height="3.6" fill="#F4A08C"/><text x="361.3" y="323.30" font-size="4.3" fill="#222" font-family="Liberation Sans, sans-serif">Plasma</text>
<rect x="356.8" y="324.22" width="3.8" height="3.6" fill="#E680D0"/><text x="361.3" y="327.22" font-size="4.3" fill="#222" font-family="Liberation Sans, sans-serif">Epithelial</text>
<rect x="356.8" y="328.14" width="3.8" height="3.6" fill="#A9B53A"/><text x="361.3" y="331.14" font-size="4.3" fill="#222" font-family="Liberation Sans, sans-serif">T cell</text>
<rect x="356.8" y="332.06" width="3.8" height="3.6" fill="#DE9BE8"/><text x="361.3" y="335.06" font-size="4.3" fill="#222" font-family="Liberation Sans, sans-serif">B cell</text>
<rect x="356.8" y="335.98" width="3.8" height="3.6" fill="#7FB0EE"/><text x="361.3" y="338.98" font-size="4.3" fill="#222" font-family="Liberation Sans, sans-serif">Endothelial</text>
<rect x="356.8" y="339.90" width="3.8" height="3.6" fill="#EFA322"/><text x="361.3" y="342.90" font-size="4.3" fill="#222" font-family="Liberation Sans, sans-serif">Myeloid</text>
<rect x="356.8" y="343.82" width="3.8" height="3.6" fill="#3DBE64"/><text x="361.3" y="346.82" font-size="4.3" fill="#222" font-family="Liberation Sans, sans-serif">Fibroblast</text>
<rect x="356.8" y="347.74" width="3.8" height="3.6" fill="#3CC0EE"/><text x="361.3" y="350.74" font-size="4.3" fill="#222" font-family="Liberation Sans, sans-serif">Proliferating cell</text>
<rect x="356.8" y="351.66" width="3.8" height="3.6" fill="#3EC8A8"/><text x="361.3" y="354.66" font-size="4.3" fill="#222" font-family="Liberation Sans, sans-serif">Mast</text>
<rect x="33.2" y="391.2" width="148.6" height="130.1" fill="none" stroke="#555" stroke-width="0.6"/>
<rect x="35.30" y="396.90" width="8.25" height="8.80" fill="#E64B35"/>
<rect x="35.30" y="405.70" width="8.25" height="23.40" fill="#4DBBD5"/>
<rect x="35.30" y="429.10" width="8.25" height="4.30" fill="#00A087"/>
<rect x="35.30" y="433.40" width="8.25" height="74.60" fill="#3C5488"/>
<rect x="35.30" y="508.00" width="8.25" height="1.70" fill="#F39B7F"/>
<rect x="35.30" y="509.70" width="8.25" height="1.30" fill="#8491B4"/>
<rect x="35.30" y="511.00" width="8.25" height="1.50" fill="#91D1C2"/>
<rect x="35.30" y="512.50" width="8.25" height="3.50" fill="#DC0000"/>
<line x1="39.40" y1="521.3" x2="39.40" y2="522.6" stroke="#444" stroke-width="0.5"/>
<text transform="translate(42.20,525.2) rotate(-45)" font-size="6.2" fill="#333" text-anchor="end" font-family="Liberation Sans, sans-serif">oCRC-01</text>
<rect x="45.75" y="396.90" width="8.25" height="22.90" fill="#E64B35"/>
<rect x="45.75" y="419.80" width="8.25" height="11.80" fill="#4DBBD5"/>
<rect x="45.75" y="431.60" width="8.25" height="2.10" fill="#00A087"/>
<rect x="45.75" y="433.70" width="8.25" height="54.60" fill="#3C5488"/>
<rect x="45.75" y="488.30" width="8.25" height="8.30" fill="#F39B7F"/>
<rect x="45.75" y="496.60" width="8.25" height="2.50" fill="#8491B4"/>
<rect x="45.75" y="499.10" width="8.25" height="13.90" fill="#91D1C2"/>
<rect x="45.75" y="513.00" width="8.25" height="3.00" fill="#DC0000"/>
<line x1="49.85" y1="521.3" x2="49.85" y2="522.6" stroke="#444" stroke-width="0.5"/>
<text transform="translate(52.65,525.2) rotate(-45)" font-size="6.2" fill="#333" text-anchor="end" font-family="Liberation Sans, sans-serif">oCRC-02</text>
<rect x="56.20" y="396.90" width="8.25" height="3.80" fill="#E64B35"/>
<rect x="56.20" y="400.70" width="8.25" height="26.70" fill="#4DBBD5"/>
<rect x="56.20" y="427.40" width="8.25" height="4.70" fill="#00A087"/>
<rect x="56.20" y="432.10" width="8.25" height="65.80" fill="#3C5488"/>
<rect x="56.20" y="497.90" width="8.25" height="1.70" fill="#F39B7F"/>
<rect x="56.20" y="499.60" width="8.25" height="2.50" fill="#8491B4"/>
<rect x="56.20" y="502.10" width="8.25" height="3.30" fill="#91D1C2"/>
<rect x="56.20" y="505.40" width="8.25" height="6.30" fill="#DC0000"/>
<rect x="56.20" y="511.70" width="8.25" height="4.30" fill="#7E6148"/>
<line x1="60.30" y1="521.3" x2="60.30" y2="522.6" stroke="#444" stroke-width="0.5"/>
<text transform="translate(63.10,525.2) rotate(-45)" font-size="6.2" fill="#333" text-anchor="end" font-family="Liberation Sans, sans-serif">oCRC-03</text>
<rect x="66.65" y="396.90" width="8.25" height="15.10" fill="#E64B35"/>
<rect x="66.65" y="412.00" width="8.25" height="17.10" fill="#4DBBD5"/>
<rect x="66.65" y="429.10" width="8.25" height="2.50" fill="#00A087"/>
<rect x="66.65" y="431.60" width="8.25" height="73.30" fill="#3C5488"/>
<rect x="66.65" y="504.90" width="8.25" height="2.50" fill="#F39B7F"/>
<rect x="66.65" y="507.40" width="8.25" height="1.10" fill="#8491B4"/>
<rect x="66.65" y="508.50" width="8.25" height="3.20" fill="#91D1C2"/>
<rect x="66.65" y="511.70" width="8.25" height="4.30" fill="#DC0000"/>
<line x1="70.75" y1="521.3" x2="70.75" y2="522.6" stroke="#444" stroke-width="0.5"/>
<text transform="translate(73.55,525.2) rotate(-45)" font-size="6.2" fill="#333" text-anchor="end" font-family="Liberation Sans, sans-serif">oCRC-04</text>
<rect x="77.10" y="396.90" width="8.25" height="86.60" fill="#E64B35"/>
<rect x="77.10" y="483.50" width="8.25" height="1.50" fill="#4DBBD5"/>
<rect x="77.10" y="485.00" width="8.25" height="2.30" fill="#00A087"/>
<rect x="77.10" y="487.30" width="8.25" height="11.10" fill="#3C5488"/>
<rect x="77.10" y="498.40" width="8.25" height="7.50" fill="#F39B7F"/>
<rect x="77.10" y="505.90" width="8.25" height="1.50" fill="#8491B4"/>
<rect x="77.10" y="507.40" width="8.25" height="5.60" fill="#91D1C2"/>
<rect x="77.10" y="513.00" width="8.25" height="3.00" fill="#DC0000"/>
<line x1="81.20" y1="521.3" x2="81.20" y2="522.6" stroke="#444" stroke-width="0.5"/>
<text transform="translate(84.00,525.2) rotate(-45)" font-size="6.2" fill="#333" text-anchor="end" font-family="Liberation Sans, sans-serif">oCRC-05</text>
<rect x="87.55" y="396.90" width="8.25" height="38.00" fill="#E64B35"/>
<rect x="87.55" y="434.90" width="8.25" height="29.00" fill="#4DBBD5"/>
<rect x="87.55" y="463.90" width="8.25" height="6.80" fill="#00A087"/>
<rect x="87.55" y="470.70" width="8.25" height="29.20" fill="#3C5488"/>
<rect x="87.55" y="499.90" width="8.25" height="4.30" fill="#F39B7F"/>
<rect x="87.55" y="504.20" width="8.25" height="1.30" fill="#8491B4"/>
<rect x="87.55" y="505.50" width="8.25" height="6.20" fill="#91D1C2"/>
<rect x="87.55" y="511.70" width="8.25" height="4.30" fill="#DC0000"/>
<line x1="91.65" y1="521.3" x2="91.65" y2="522.6" stroke="#444" stroke-width="0.5"/>
<text transform="translate(94.45,525.2) rotate(-45)" font-size="6.2" fill="#333" text-anchor="end" font-family="Liberation Sans, sans-serif">oCRC-06</text>
<rect x="98.00" y="396.90" width="8.25" height="57.40" fill="#E64B35"/>
<rect x="98.00" y="454.30" width="8.25" height="7.10" fill="#4DBBD5"/>
<rect x="98.00" y="461.40" width="8.25" height="3.50" fill="#00A087"/>
<rect x="98.00" y="464.90" width="8.25" height="21.60" fill="#3C5488"/>
<rect x="98.00" y="486.50" width="8.25" height="6.80" fill="#F39B7F"/>
<rect x="98.00" y="493.30" width="8.25" height="5.10" fill="#8491B4"/>
<rect x="98.00" y="498.40" width="8.25" height="10.00" fill="#91D1C2"/>
<rect x="98.00" y="508.40" width="8.25" height="5.80" fill="#DC0000"/>
<rect x="98.00" y="514.20" width="8.25" height="1.80" fill="#7E6148"/>
<line x1="102.10" y1="521.3" x2="102.10" y2="522.6" stroke="#444" stroke-width="0.5"/>
<text transform="translate(104.90,525.2) rotate(-45)" font-size="6.2" fill="#333" text-anchor="end" font-family="Liberation Sans, sans-serif">oCRC-07</text>
<rect x="108.45" y="396.90" width="8.25" height="18.90" fill="#E64B35"/>
<rect x="108.45" y="415.80" width="8.25" height="13.30" fill="#4DBBD5"/>
<rect x="108.45" y="429.10" width="8.25" height="8.80" fill="#00A087"/>
<rect x="108.45" y="437.90" width="8.25" height="53.70" fill="#3C5488"/>
<rect x="108.45" y="491.60" width="8.25" height="3.70" fill="#F39B7F"/>
<rect x="108.45" y="495.30" width="8.25" height="10.10" fill="#8491B4"/>
<rect x="108.45" y="505.40" width="8.25" height="5.10" fill="#91D1C2"/>
<rect x="108.45" y="510.50" width="8.25" height="5.50" fill="#DC0000"/>
<line x1="112.55" y1="521.3" x2="112.55" y2="522.6" stroke="#444" stroke-width="0.5"/>
<text transform="translate(115.35,525.2) rotate(-45)" font-size="6.2" fill="#333" text-anchor="end" font-family="Liberation Sans, sans-serif">yCRC-01</text>
<rect x="118.90" y="396.90" width="8.25" height="42.30" fill="#E64B35"/>
<rect x="118.90" y="439.20" width="8.25" height="18.90" fill="#4DBBD5"/>
<rect x="118.90" y="458.10" width="8.25" height="6.30" fill="#00A087"/>
<rect x="118.90" y="464.40" width="8.25" height="27.20" fill="#3C5488"/>
<rect x="118.90" y="491.60" width="8.25" height="3.70" fill="#F39B7F"/>
<rect x="118.90" y="495.30" width="8.25" height="3.80" fill="#8491B4"/>
<rect x="118.90" y="499.10" width="8.25" height="12.60" fill="#91D1C2"/>
<rect x="118.90" y="511.70" width="8.25" height="4.30" fill="#DC0000"/>
<line x1="123.00" y1="521.3" x2="123.00" y2="522.6" stroke="#444" stroke-width="0.5"/>
<text transform="translate(125.80,525.2) rotate(-45)" font-size="6.2" fill="#333" text-anchor="end" font-family="Liberation Sans, sans-serif">yCRC-02</text>
<rect x="129.35" y="396.90" width="8.25" height="84.60" fill="#E64B35"/>
<rect x="129.35" y="481.50" width="8.25" height="5.80" fill="#4DBBD5"/>
<rect x="129.35" y="487.30" width="8.25" height="1.00" fill="#00A087"/>
<rect x="129.35" y="488.30" width="8.25" height="16.60" fill="#3C5488"/>
<rect x="129.35" y="504.90" width="8.25" height="4.30" fill="#F39B7F"/>
<rect x="129.35" y="509.20" width="8.25" height="1.30" fill="#8491B4"/>
<rect x="129.35" y="510.50" width="8.25" height="3.70" fill="#91D1C2"/>
<rect x="129.35" y="514.20" width="8.25" height="1.80" fill="#DC0000"/>
<line x1="133.45" y1="521.3" x2="133.45" y2="522.6" stroke="#444" stroke-width="0.5"/>
<text transform="translate(136.25,525.2) rotate(-45)" font-size="6.2" fill="#333" text-anchor="end" font-family="Liberation Sans, sans-serif">yCRC-03</text>
<rect x="139.80" y="396.90" width="8.25" height="22.90" fill="#E64B35"/>
<rect x="139.80" y="419.80" width="8.25" height="38.30" fill="#4DBBD5"/>
<rect x="139.80" y="458.10" width="8.25" height="15.60" fill="#00A087"/>
<rect x="139.80" y="473.70" width="8.25" height="29.20" fill="#3C5488"/>
<rect x="139.80" y="502.90" width="8.25" height="1.60" fill="#F39B7F"/>
<rect x="139.80" y="504.50" width="8.25" height="2.20" fill="#8491B4"/>
<rect x="139.80" y="506.70" width="8.25" height="5.00" fill="#91D1C2"/>
<rect x="139.80" y="511.70" width="8.25" height="4.30" fill="#DC0000"/>
<line x1="143.90" y1="521.3" x2="143.90" y2="522.6" stroke="#444" stroke-width="0.5"/>
<text transform="translate(146.70,525.2) rotate(-45)" font-size="6.2" fill="#333" text-anchor="end" font-family="Liberation Sans, sans-serif">yCRC-04</text>
<rect x="150.25" y="396.90" width="8.25" height="44.30" fill="#E64B35"/>
<rect x="150.25" y="441.20" width="8.25" height="18.90" fill="#4DBBD5"/>
<rect x="150.25" y="460.10" width="8.25" height="8.60" fill="#00A087"/>
<rect x="150.25" y="468.70" width="8.25" height="30.40" fill="#3C5488"/>
<rect x="150.25" y="499.10" width="8.25" height="5.10" fill="#F39B7F"/>
<rect x="150.25" y="504.20" width="8.25" height="1.80" fill="#8491B4"/>
<rect x="150.25" y="506.00" width="8.25" height="5.70" fill="#91D1C2"/>
<rect x="150.25" y="511.70" width="8.25" height="4.30" fill="#DC0000"/>
<line x1="154.35" y1="521.3" x2="154.35" y2="522.6" stroke="#444" stroke-width="0.5"/>
<text transform="translate(157.15,525.2) rotate(-45)" font-size="6.2" fill="#333" text-anchor="end" font-family="Liberation Sans, sans-serif">yCRC-05</text>
<rect x="160.70" y="396.90" width="8.25" height="2.80" fill="#E64B35"/>
<rect x="160.70" y="399.70" width="8.25" height="53.90" fill="#4DBBD5"/>
<rect x="160.70" y="453.60" width="8.25" height="17.60" fill="#00A087"/>
<rect x="160.70" y="471.20" width="8.25" height="32.20" fill="#3C5488"/>
<rect x="160.70" y="503.40" width="8.25" height="2.00" fill="#F39B7F"/>
<rect x="160.70" y="505.40" width="8.25" height="1.30" fill="#8491B4"/>
<rect x="160.70" y="506.70" width="8.25" height="4.30" fill="#91D1C2"/>
<rect x="160.70" y="511.00" width="8.25" height="5.00" fill="#DC0000"/>
<line x1="164.80" y1="521.3" x2="164.80" y2="522.6" stroke="#444" stroke-width="0.5"/>
<text transform="translate(167.60,525.2) rotate(-45)" font-size="6.2" fill="#333" text-anchor="end" font-family="Liberation Sans, sans-serif">yCRC-06</text>
<rect x="171.15" y="396.90" width="8.25" height="48.10" fill="#E64B35"/>
<rect x="171.15" y="445.00" width="8.25" height="30.20" fill="#4DBBD5"/>
<rect x="171.15" y="475.20" width="8.25" height="7.00" fill="#00A087"/>
<rect x="171.15" y="482.20" width="8.25" height="20.20" fill="#3C5488"/>
<rect x="171.15" y="502.40" width="8.25" height="2.10" fill="#F39B7F"/>
<rect x="171.15" y="504.50" width="8.25" height="2.00" fill="#8491B4"/>
<rect x="171.15" y="506.50" width="8.25" height="4.00" fill="#91D1C2"/>
<rect x="171.15" y="510.50" width="8.25" height="5.50" fill="#DC0000"/>
<line x1="175.25" y1="521.3" x2="175.25" y2="522.6" stroke="#444" stroke-width="0.5"/>
<text transform="translate(178.05,525.2) rotate(-45)" font-size="6.2" fill="#333" text-anchor="end" font-family="Liberation Sans, sans-serif">yCRC-07</text>
<line x1="32" y1="396.9" x2="33.2" y2="396.9" stroke="#444" stroke-width="0.5"/><text x="30.8" y="398.6" font-size="5.1" fill="#444" text-anchor="end" font-family="Liberation Sans, sans-serif">1.00</text>
<line x1="32" y1="426.7" x2="33.2" y2="426.7" stroke="#444" stroke-width="0.5"/><text x="30.8" y="428.4" font-size="5.1" fill="#444" text-anchor="end" font-family="Liberation Sans, sans-serif">0.75</text>
<line x1="32" y1="456.4" x2="33.2" y2="456.4" stroke="#444" stroke-width="0.5"/><text x="30.8" y="458.1" font-size="5.1" fill="#444" text-anchor="end" font-family="Liberation Sans, sans-serif">0.50</text>
<line x1="32" y1="486.2" x2="33.2" y2="486.2" stroke="#444" stroke-width="0.5"/><text x="30.8" y="487.9" font-size="5.1" fill="#444" text-anchor="end" font-family="Liberation Sans, sans-serif">0.25</text>
<line x1="32" y1="516.0" x2="33.2" y2="516.0" stroke="#444" stroke-width="0.5"/><text x="30.8" y="517.7" font-size="5.1" fill="#444" text-anchor="end" font-family="Liberation Sans, sans-serif">0.00</text>
<text x="183.6" y="408.1" font-size="5.3" fill="#222" font-family="Liberation Sans, sans-serif">Cluster</text>
<rect x="184.3" y="409.90" width="3.7" height="3.7" fill="#E64B35"/><text x="189.3" y="413.60" font-size="5.2" fill="#222" font-family="Liberation Sans, sans-serif">Epithelial</text>
<rect x="184.3" y="414.53" width="3.7" height="3.7" fill="#4DBBD5"/><text x="189.3" y="418.23" font-size="5.2" fill="#222" font-family="Liberation Sans, sans-serif">T cell</text>
<rect x="184.3" y="419.16" width="3.7" height="3.7" fill="#00A087"/><text x="189.3" y="422.86" font-size="5.2" fill="#222" font-family="Liberation Sans, sans-serif">B cell</text>
<rect x="184.3" y="423.79" width="3.7" height="3.7" fill="#3C5488"/><text x="189.3" y="427.49" font-size="5.2" fill="#222" font-family="Liberation Sans, sans-serif">Plasma</text>
<rect x="184.3" y="428.42" width="3.7" height="3.7" fill="#F39B7F"/><text x="189.3" y="432.12" font-size="5.2" fill="#222" font-family="Liberation Sans, sans-serif">Endothelial</text>
<rect x="184.3" y="433.05" width="3.7" height="3.7" fill="#8491B4"/><text x="189.3" y="436.75" font-size="5.2" fill="#222" font-family="Liberation Sans, sans-serif">Myeloid</text>
<rect x="184.3" y="437.68" width="3.7" height="3.7" fill="#91D1C2"/><text x="189.3" y="441.38" font-size="5.2" fill="#222" font-family="Liberation Sans, sans-serif">Fibroblast</text>
<rect x="184.3" y="442.31" width="3.7" height="3.7" fill="#DC0000"/><text x="189.3" y="446.01" font-size="5.2" fill="#222" font-family="Liberation Sans, sans-serif">Proliferating cell</text>
<rect x="184.3" y="446.94" width="3.7" height="3.7" fill="#7E6148"/><text x="189.3" y="450.64" font-size="5.2" fill="#222" font-family="Liberation Sans, sans-serif">Mast</text>
<path d="M253,415.2 L253,513.6 L356.7,513.6" stroke="#555" stroke-width="0.9" fill="none"/>
<line x1="251.6" y1="427.3" x2="253" y2="427.3" stroke="#333" stroke-width="0.7"/><text x="249.6" y="428.8" font-size="4.6" fill="#333" text-anchor="end" font-family="Liberation Sans, sans-serif">0.15</text>
<line x1="251.6" y1="454.6" x2="253" y2="454.6" stroke="#333" stroke-width="0.7"/><text x="249.6" y="456.1" font-size="4.6" fill="#333" text-anchor="end" font-family="Liberation Sans, sans-serif">0.10</text>
<line x1="251.6" y1="481.9" x2="253" y2="481.9" stroke="#333" stroke-width="0.7"/><text x="249.6" y="483.4" font-size="4.6" fill="#333" text-anchor="end" font-family="Liberation Sans, sans-serif">0.05</text>
<line x1="251.6" y1="509.2" x2="253" y2="509.2" stroke="#333" stroke-width="0.7"/><text x="249.6" y="510.7" font-size="4.6" fill="#333" text-anchor="end" font-family="Liberation Sans, sans-serif">0.00</text>
<text transform="translate(236,467.5) rotate(-90)" font-size="5.7" fill="#222" text-anchor="middle" font-family="Liberation Sans, sans-serif">Proportion</text>
<rect x="268.3" y="451.5" width="33.5" height="24.5" fill="none" stroke="#E24E38" stroke-width="0.8"/><line x1="268.3" y1="471" x2="301.8" y2="471" stroke="#E24E38" stroke-width="1.5"/><path d="M285,451.5 L285,427.2 M275.3,427.2 L294.7,427.2 M285,476 L285,502.1 M275.3,502.1 L294.7,502.1" stroke="#E24E38" stroke-width="0.8" fill="none"/>
<rect x="316" y="489.2" width="34.10000000000002" height="8.400000000000034" fill="none" stroke="#3DB2D4" stroke-width="0.8"/><line x1="316" y1="495.6" x2="350.1" y2="495.6" stroke="#3DB2D4" stroke-width="1.5"/><path d="M333,489.2 L333,478.2 M323.2,478.2 L342,478.2 M333,497.6 L333,502.5 M323.2,502.5 L342,502.5" stroke="#3DB2D4" stroke-width="0.8" fill="none"/>
<line x1="285" y1="513.5" x2="285" y2="515" stroke="#444" stroke-width="0.5"/><line x1="333" y1="513.5" x2="333" y2="515" stroke="#444" stroke-width="0.5"/>
<text x="283" y="520.5" font-size="5.6" fill="#222" text-anchor="middle" font-family="Liberation Sans, sans-serif">yCRC</text><text x="335.5" y="521" font-size="5.6" fill="#222" text-anchor="middle" font-family="Liberation Sans, sans-serif">oCRC</text>
<text x="304.7" y="424.2" font-size="6.2" fill="#222" text-anchor="middle" font-family="Liberation Sans, sans-serif">B cell</text>
<text x="338.5" y="431.5" font-size="4.7" fill="#222" text-anchor="middle" font-family="Liberation Sans, sans-serif"><tspan font-style="italic">p</tspan> = 0.0262</text>
</svg></body></html>
